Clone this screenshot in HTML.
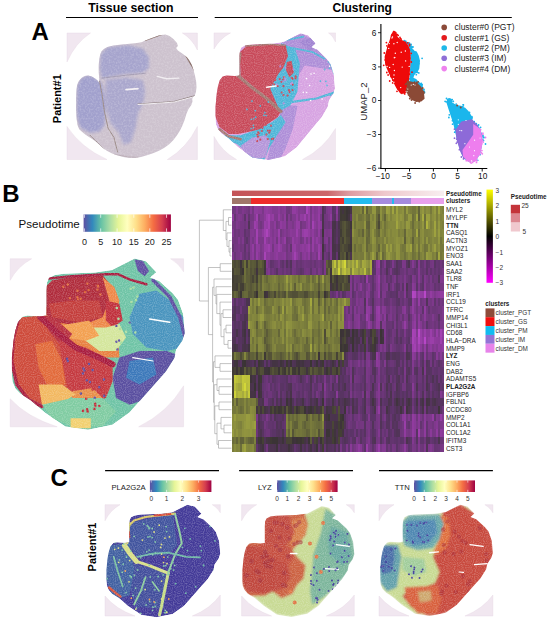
<!DOCTYPE html>
<html><head><meta charset="utf-8"><style>
html,body{margin:0;padding:0;background:#fff;}
body{width:550px;height:625px;position:relative;overflow:hidden;font-family:"Liberation Sans", sans-serif;}
svg{position:absolute;left:0;top:0;}
.hm{position:absolute;}
</style></head><body>
<div class="hm" style="left:232px;top:206.00px;width:212px;height:7.74px;background:linear-gradient(90deg,#72377f 0px 2px,#733780 2px 4px,#843992 4px 6px,#733780 6px 8px,#753783 8px 10px,#80388d 10px 12px,#793886 12px 14px,#753782 14px 16px,#6e367b 16px 18px,#873995 18px 20px,#753782 20px 22px,#8f3b9d 22px 24px,#8e3b9c 24px 26px,#8a3a97 26px 28px,#893a97 28px 30px,#7b3889 30px 32px,#903b9e 32px 34px,#923ca1 34px 36px,#8e3b9c 36px 38px,#8b3a99 38px 40px,#823990 40px 42px,#823990 42px 44px,#833991 44px 46px,#8c3a9a 46px 48px,#7e388c 48px 50px,#833990 50px 52px,#873995 52px 54px,#6e367b 54px 56px,#6d367a 56px 58px,#763783 58px 60px,#923ca0 60px 62px,#933ca1 62px 64px,#8b3a99 64px 66px,#80388d 66px 68px,#833991 68px 70px,#81398e 70px 72px,#7b3888 72px 74px,#a843b8 74px 76px,#973da5 76px 78px,#773784 78px 80px,#8d3a9b 80px 82px,#823990 82px 84px,#863994 84px 86px,#923ca0 86px 88px,#843992 88px 90px,#4f3454 90px 92px,#5d3469 92px 94px,#793886 94px 96px,#7f388d 96px 98px,#833991 98px 100px,#583463 100px 102px,#5d346a 102px 104px,#8b3a99 104px 106px,#573460 106px 108px,#3f3a35 108px 110px,#423441 110px 112px,#403b35 112px 114px,#3a3434 114px 116px,#3d3439 116px 118px,#473448 118px 120px,#7a7c3c 120px 122px,#797b3c 122px 124px,#7a7d3c 124px 126px,#7a7d3c 126px 128px,#82853d 128px 130px,#656639 130px 132px,#9b9f3f 132px 134px,#5f5f39 134px 136px,#797b3c 136px 138px,#787a3c 138px 140px,#939740 140px 142px,#939740 142px 144px,#6d6f3a 144px 146px,#696b3a 146px 148px,#8d913f 148px 150px,#7c7e3c 150px 152px,#76783c 152px 154px,#9ca03f 154px 156px,#979b40 156px 158px,#81843d 158px 160px,#a0a43f 160px 162px,#7d803d 162px 164px,#9da13f 164px 166px,#868a3e 166px 168px,#898c3e 168px 170px,#8e923f 170px 172px,#74763b 172px 174px,#959940 174px 176px,#7f823d 176px 178px,#7b7d3c 178px 180px,#73753b 180px 182px,#73753b 182px 184px,#82853d 184px 186px,#616239 186px 188px,#8b8f3f 188px 190px,#949740 190px 192px,#81843d 192px 194px,#8b8e3e 194px 196px,#888b3e 196px 198px,#77793c 198px 200px,#8c903f 200px 202px,#979b40 202px 204px,#7c7e3c 204px 206px,#9ea23f 206px 208px,#84873e 208px 210px,#7c7f3c 210px 212px)"></div><div class="hm" style="left:232px;top:213.69px;width:212px;height:7.74px;background:linear-gradient(90deg,#8e3b9d 0px 2px,#653572 2px 4px,#7c388a 4px 6px,#823990 6px 8px,#80388d 8px 10px,#773784 10px 12px,#5e346a 12px 14px,#7e388b 14px 16px,#62356e 16px 18px,#763783 18px 20px,#753782 20px 22px,#873995 22px 24px,#a040af 24px 26px,#743781 26px 28px,#80398e 28px 30px,#80398e 30px 32px,#8d3a9b 32px 34px,#9c3fab 34px 36px,#a542b4 36px 38px,#903b9e 38px 40px,#953da3 40px 42px,#80388d 42px 44px,#7e388c 44px 46px,#943ca2 46px 48px,#843991 48px 50px,#7b3888 50px 52px,#8e3b9c 52px 54px,#673573 54px 56px,#81398f 56px 58px,#6f367c 58px 60px,#80398e 60px 62px,#80398e 62px 64px,#913c9f 64px 66px,#80388d 66px 68px,#913ca0 68px 70px,#8f3b9d 70px 72px,#9e40ac 72px 74px,#883996 74px 76px,#983ea6 76px 78px,#793886 78px 80px,#923ca0 80px 82px,#853992 82px 84px,#883996 84px 86px,#953da4 86px 88px,#753783 88px 90px,#4b344e 90px 92px,#6f367c 92px 94px,#733780 94px 96px,#7c3889 96px 98px,#8e3b9c 98px 100px,#5b3466 100px 102px,#55345e 102px 104px,#81398e 104px 106px,#583461 106px 108px,#3f3a35 108px 110px,#413c35 110px 112px,#403b35 112px 114px,#3b3436 114px 116px,#423440 116px 118px,#593464 118px 120px,#7b7e3c 120px 122px,#76793c 122px 124px,#86893e 124px 126px,#70723b 126px 128px,#70723b 128px 130px,#76783c 130px 132px,#82853d 132px 134px,#6c6e3a 134px 136px,#686a3a 136px 138px,#888b3e 138px 140px,#7d803d 140px 142px,#8b8f3f 142px 144px,#686a3a 144px 146px,#555337 146px 148px,#8c903f 148px 150px,#787b3c 150px 152px,#626339 152px 154px,#85883e 154px 156px,#90943f 156px 158px,#80833d 158px 160px,#8c8f3f 160px 162px,#8d913f 162px 164px,#9a9e3f 164px 166px,#8c8f3f 166px 168px,#939740 168px 170px,#8e913f 170px 172px,#76783c 172px 174px,#7d803d 174px 176px,#949840 176px 178px,#939740 178px 180px,#6b6d3a 180px 182px,#777a3c 182px 184px,#9fa33f 184px 186px,#5f5f39 186px 188px,#84883e 188px 190px,#a7ab3e 190px 192px,#6c6e3a 192px 194px,#9b9f3f 194px 196px,#9a9e40 196px 198px,#80833d 198px 200px,#8b8e3e 200px 202px,#91953f 202px 204px,#7c7e3c 204px 206px,#8e913f 206px 208px,#7e813d 208px 210px,#85883e 210px 212px)"></div><div class="hm" style="left:232px;top:221.38px;width:212px;height:7.74px;background:linear-gradient(90deg,#773784 0px 2px,#70367d 2px 4px,#80398e 4px 6px,#7b3888 6px 8px,#763783 8px 10px,#753783 10px 12px,#6f367c 12px 14px,#773784 14px 16px,#523459 16px 18px,#793887 18px 20px,#7d388a 20px 22px,#9c3fab 22px 24px,#943ca2 24px 26px,#793886 26px 28px,#71377e 28px 30px,#7d388b 30px 32px,#9a3ea9 32px 34px,#953da4 34px 36px,#a241b1 36px 38px,#833990 38px 40px,#81398e 40px 42px,#8e3b9c 42px 44px,#743781 44px 46px,#7d388b 46px 48px,#913b9f 48px 50px,#893a97 50px 52px,#8c3a9a 52px 54px,#72377f 54px 56px,#853992 56px 58px,#833990 58px 60px,#7a3887 60px 62px,#863994 62px 64px,#963da4 64px 66px,#953da3 66px 68px,#70367c 68px 70px,#7b3888 70px 72px,#7b3888 72px 74px,#8a3a98 74px 76px,#953da3 76px 78px,#773784 78px 80px,#a341b2 80px 82px,#8c3a9a 82px 84px,#833990 84px 86px,#933ca1 86px 88px,#8d3a9c 88px 90px,#49344b 90px 92px,#6b3678 92px 94px,#6f367c 94px 96px,#6a3677 96px 98px,#773784 98px 100px,#48344a 100px 102px,#463447 102px 104px,#5a3464 104px 106px,#48344a 106px 108px,#474336 108px 110px,#514f37 110px 112px,#575638 112px 114px,#4a4736 114px 116px,#454135 116px 118px,#3f343c 118px 120px,#85893e 120px 122px,#6e713b 122px 124px,#7f823d 124px 126px,#7c7f3c 126px 128px,#7a7c3c 128px 130px,#797b3c 130px 132px,#92953f 132px 134px,#616239 134px 136px,#5f5f39 136px 138px,#83863d 138px 140px,#878a3e 140px 142px,#8d903f 142px 144px,#626239 144px 146px,#4c4936 146px 148px,#7b7d3c 148px 150px,#86893e 150px 152px,#71733b 152px 154px,#7e813d 154px 156px,#85883e 156px 158px,#868a3e 158px 160px,#878a3e 160px 162px,#86893e 162px 164px,#a1a53f 164px 166px,#8d903f 166px 168px,#85893e 168px 170px,#8b8f3f 170px 172px,#7e813d 172px 174px,#969a40 174px 176px,#939740 176px 178px,#7c7f3c 178px 180px,#6a6c3a 180px 182px,#80833d 182px 184px,#868a3e 184px 186px,#76793c 186px 188px,#83863d 188px 190px,#939740 190px 192px,#70733b 192px 194px,#afb33d 194px 196px,#91953f 196px 198px,#7d7f3d 198px 200px,#84873e 200px 202px,#a1a53f 202px 204px,#7e813d 204px 206px,#949840 206px 208px,#82853d 208px 210px,#7c7e3c 210px 212px)"></div><div class="hm" style="left:232px;top:229.06px;width:212px;height:7.74px;background:linear-gradient(90deg,#823990 0px 2px,#6c3679 2px 4px,#733780 4px 6px,#6d3679 6px 8px,#773784 8px 10px,#763783 10px 12px,#5f346b 12px 14px,#6a3677 14px 16px,#663572 16px 18px,#843991 18px 20px,#853993 20px 22px,#7e388c 22px 24px,#a241b1 24px 26px,#833991 26px 28px,#81398f 28px 30px,#8f3b9d 30px 32px,#9d40ac 32px 34px,#ac44bb 34px 36px,#973ea6 36px 38px,#873995 38px 40px,#7e388c 40px 42px,#883a96 42px 44px,#833991 44px 46px,#9b3faa 46px 48px,#72377f 48px 50px,#7e388b 50px 52px,#843992 52px 54px,#7c3889 54px 56px,#833990 56px 58px,#8b3a99 58px 60px,#873995 60px 62px,#873995 62px 64px,#9c3fab 64px 66px,#893a97 66px 68px,#7a3887 68px 70px,#943da3 70px 72px,#9c3fab 72px 74px,#9b3faa 74px 76px,#933ca1 76px 78px,#873994 78px 80px,#903b9e 80px 82px,#823990 82px 84px,#7c388a 84px 86px,#913c9f 86px 88px,#783885 88px 90px,#40343d 90px 92px,#7c3889 92px 94px,#783785 94px 96px,#7b3888 96px 98px,#833991 98px 100px,#463447 100px 102px,#4c344f 102px 104px,#573460 104px 106px,#4d3452 106px 108px,#413d35 108px 110px,#514f37 110px 112px,#565538 112px 114px,#464235 114px 116px,#454035 116px 118px,#463446 118px 120px,#8d903f 120px 122px,#7d803d 122px 124px,#7a7d3c 124px 126px,#6d6f3a 126px 128px,#74773b 128px 130px,#626239 130px 132px,#85883e 132px 134px,#6b6d3a 134px 136px,#636439 136px 138px,#84873e 138px 140px,#91943f 140px 142px,#7a7d3c 142px 144px,#6a6c3a 144px 146px,#626339 146px 148px,#888b3e 148px 150px,#7e813d 150px 152px,#74763b 152px 154px,#83863d 154px 156px,#8a8e3e 156px 158px,#81843d 158px 160px,#898c3e 160px 162px,#878b3e 162px 164px,#8a8e3e 164px 166px,#7b7d3c 166px 168px,#82853d 168px 170px,#7f823d 170px 172px,#656639 172px 174px,#8d903f 174px 176px,#86893e 176px 178px,#878a3e 178px 180px,#70723b 180px 182px,#76783c 182px 184px,#a0a43f 184px 186px,#6a6c3a 186px 188px,#888b3e 188px 190px,#8c8f3f 190px 192px,#7c7f3c 192px 194px,#7c7f3c 194px 196px,#7f823d 196px 198px,#81843d 198px 200px,#898c3e 200px 202px,#9ea23f 202px 204px,#84873e 204px 206px,#989c40 206px 208px,#80833d 208px 210px,#84873e 210px 212px)"></div><div class="hm" style="left:232px;top:236.75px;width:212px;height:7.74px;background:linear-gradient(90deg,#72377f 0px 2px,#70367c 2px 4px,#72377f 4px 6px,#823990 6px 8px,#733780 8px 10px,#80398e 10px 12px,#653571 12px 14px,#5b3467 14px 16px,#6a3677 16px 18px,#843992 18px 20px,#773785 20px 22px,#853993 22px 24px,#a040af 24px 26px,#7b3888 26px 28px,#7c3889 28px 30px,#7b3888 30px 32px,#a040af 32px 34px,#8a3a98 34px 36px,#81398f 36px 38px,#8c3a9a 38px 40px,#81398f 40px 42px,#8c3a9a 42px 44px,#743781 44px 46px,#953da3 46px 48px,#7d388b 48px 50px,#873995 50px 52px,#953da3 52px 54px,#6d3679 54px 56px,#743781 56px 58px,#7a3887 58px 60px,#943da2 60px 62px,#883996 62px 64px,#8c3a9a 64px 66px,#853993 66px 68px,#71377e 68px 70px,#793887 70px 72px,#913c9f 72px 74px,#7c388a 74px 76px,#8d3a9b 76px 78px,#72377e 78px 80px,#963da4 80px 82px,#853993 82px 84px,#923ca1 84px 86px,#873995 86px 88px,#7a3887 88px 90px,#503456 90px 92px,#7e388b 92px 94px,#823990 94px 96px,#653572 96px 98px,#7d388a 98px 100px,#463447 100px 102px,#4e3452 102px 104px,#5b3466 104px 106px,#4a344c 106px 108px,#4d4b36 108px 110px,#433f35 110px 112px,#585738 112px 114px,#4c4936 114px 116px,#4a4636 116px 118px,#423440 118px 120px,#7f813d 120px 122px,#7b7e3c 122px 124px,#777a3c 124px 126px,#80833d 126px 128px,#7d7f3d 128px 130px,#797c3c 130px 132px,#898d3e 132px 134px,#646539 134px 136px,#686a3a 136px 138px,#7f823d 138px 140px,#92963f 140px 142px,#8b8e3e 142px 144px,#71733b 144px 146px,#787b3c 146px 148px,#7e803d 148px 150px,#787b3c 150px 152px,#8d903f 152px 154px,#7a7d3c 154px 156px,#878a3e 156px 158px,#83863d 158px 160px,#84873e 160px 162px,#888c3e 162px 164px,#8f923f 164px 166px,#8a8d3e 166px 168px,#86893e 168px 170px,#8d903f 170px 172px,#5e5e38 172px 174px,#86893e 174px 176px,#8a8e3e 176px 178px,#7d7f3d 178px 180px,#616239 180px 182px,#7f823d 182px 184px,#83863d 184px 186px,#72753b 186px 188px,#85883e 188px 190px,#8d913f 190px 192px,#77793c 192px 194px,#90943f 194px 196px,#797c3c 196px 198px,#7e813d 198px 200px,#878b3e 200px 202px,#82853d 202px 204px,#80833d 204px 206px,#939740 206px 208px,#71743b 208px 210px,#81843d 210px 212px)"></div><div class="hm" style="left:232px;top:244.44px;width:212px;height:7.74px;background:linear-gradient(90deg,#653571 0px 2px,#733780 2px 4px,#753782 4px 6px,#793886 6px 8px,#70367d 8px 10px,#733780 10px 12px,#5f346b 12px 14px,#763783 14px 16px,#683675 16px 18px,#843992 18px 20px,#933ca1 20px 22px,#773784 22px 24px,#913ca0 24px 26px,#8e3b9c 26px 28px,#7a3887 28px 30px,#833990 30px 32px,#963da4 32px 34px,#973da5 34px 36px,#9e40ad 36px 38px,#8e3b9d 38px 40px,#753782 40px 42px,#8d3a9b 42px 44px,#8b3a99 44px 46px,#9a3fa9 46px 48px,#8f3b9d 48px 50px,#7f388d 50px 52px,#7f388c 52px 54px,#6f367c 54px 56px,#7e388c 56px 58px,#643570 58px 60px,#933ca1 60px 62px,#953da4 62px 64px,#863994 64px 66px,#833991 66px 68px,#8a3a98 68px 70px,#8f3b9d 70px 72px,#8a3a97 72px 74px,#903b9e 74px 76px,#993ea7 76px 78px,#7b3888 78px 80px,#953da3 80px 82px,#80388d 82px 84px,#833991 84px 86px,#983ea7 86px 88px,#8a3a98 88px 90px,#41343e 90px 92px,#62356e 92px 94px,#763784 94px 96px,#683675 96px 98px,#80388d 98px 100px,#453445 100px 102px,#473447 102px 104px,#503455 104px 106px,#453445 106px 108px,#4d4a36 108px 110px,#535137 110px 112px,#4a4736 112px 114px,#494536 114px 116px,#3f3a35 116px 118px,#3e343a 118px 120px,#7d7f3d 120px 122px,#686a3a 122px 124px,#7c7e3c 124px 126px,#75773b 126px 128px,#71733b 128px 130px,#82853d 130px 132px,#8b8f3f 132px 134px,#656639 134px 136px,#75773b 136px 138px,#75773b 138px 140px,#898d3e 140px 142px,#86893e 142px 144px,#73763b 144px 146px,#636439 146px 148px,#868a3e 148px 150px,#72753b 150px 152px,#77793c 152px 154px,#9a9e3f 154px 156px,#86893e 156px 158px,#979b40 158px 160px,#7d803d 160px 162px,#85883e 162px 164px,#929640 164px 166px,#90933f 166px 168px,#7b7d3c 168px 170px,#73763b 170px 172px,#75773b 172px 174px,#959840 174px 176px,#90933f 176px 178px,#9fa33f 178px 180px,#6d6f3a 180px 182px,#7c7e3c 182px 184px,#91953f 184px 186px,#70723b 186px 188px,#8d903f 188px 190px,#80833d 190px 192px,#6f713b 192px 194px,#73753b 194px 196px,#8d913f 196px 198px,#7b7e3c 198px 200px,#8c8f3f 200px 202px,#9b9f3f 202px 204px,#81843d 204px 206px,#8a8d3e 206px 208px,#75773b 208px 210px,#74773b 210px 212px)"></div><div class="hm" style="left:232px;top:252.12px;width:212px;height:7.74px;background:linear-gradient(90deg,#7d388a 0px 2px,#683574 2px 4px,#763783 4px 6px,#773784 6px 8px,#80398e 8px 10px,#6e367a 10px 12px,#62356f 12px 14px,#70377d 14px 16px,#62356e 16px 18px,#863994 18px 20px,#8e3b9c 20px 22px,#773784 22px 24px,#953da4 24px 26px,#873994 26px 28px,#773784 28px 30px,#7e388c 30px 32px,#a743b6 32px 34px,#8c3a9a 34px 36px,#8e3b9c 36px 38px,#843992 38px 40px,#82398f 40px 42px,#893a97 42px 44px,#903b9e 44px 46px,#853993 46px 48px,#833991 48px 50px,#853993 50px 52px,#8b3a99 52px 54px,#733780 54px 56px,#7a3888 56px 58px,#7d388a 58px 60px,#8e3b9d 60px 62px,#a241b1 62px 64px,#8f3b9d 64px 66px,#823990 66px 68px,#733780 68px 70px,#883996 70px 72px,#8d3a9b 72px 74px,#833991 74px 76px,#903b9e 76px 78px,#72377f 78px 80px,#80398e 80px 82px,#843992 82px 84px,#773784 84px 86px,#9e40ac 86px 88px,#853992 88px 90px,#48344a 90px 92px,#6e367b 92px 94px,#683675 94px 96px,#5a3465 96px 98px,#7f388c 98px 100px,#4a344c 100px 102px,#48344a 102px 104px,#633570 104px 106px,#3f343c 106px 108px,#535137 108px 110px,#4f4c37 110px 112px,#5d5d38 112px 114px,#3a3434 114px 116px,#4d4a36 116px 118px,#4b344e 118px 120px,#80833d 120px 122px,#75773b 122px 124px,#787a3c 124px 126px,#7a7d3c 126px 128px,#77793c 128px 130px,#77793c 130px 132px,#929640 132px 134px,#787b3c 134px 136px,#71733b 136px 138px,#86893e 138px 140px,#9ca03f 140px 142px,#888c3e 142px 144px,#606039 144px 146px,#7b7e3c 146px 148px,#989c40 148px 150px,#66683a 150px 152px,#74763b 152px 154px,#8e923f 154px 156px,#949840 156px 158px,#888b3e 158px 160px,#80833d 160px 162px,#7b7e3c 162px 164px,#92963f 164px 166px,#90933f 166px 168px,#7c7f3c 168px 170px,#7d803d 170px 172px,#6f713b 172px 174px,#7c7f3d 174px 176px,#888b3e 176px 178px,#82853d 178px 180px,#6f713b 180px 182px,#73763b 182px 184px,#81843d 184px 186px,#696b3a 186px 188px,#7e813d 188px 190px,#85883e 190px 192px,#72753b 192px 194px,#989c40 194px 196px,#90943f 196px 198px,#8d913f 198px 200px,#7d7f3d 200px 202px,#83863d 202px 204px,#6b6d3a 204px 206px,#a0a43f 206px 208px,#73753b 208px 210px,#7b7e3c 210px 212px)"></div><div class="hm" style="left:232px;top:259.81px;width:212px;height:7.74px;background:linear-gradient(90deg,#535237 0px 2px,#4c4936 2px 4px,#535137 4px 6px,#4d4a36 6px 8px,#3f343b 8px 10px,#525037 10px 12px,#6d6f3a 12px 14px,#464236 14px 16px,#696a3a 16px 18px,#585738 18px 20px,#5c5c38 20px 22px,#595838 22px 24px,#474336 24px 26px,#5c5c38 26px 28px,#626239 28px 30px,#555437 30px 32px,#413c35 32px 34px,#863994 34px 36px,#763783 36px 38px,#5f346b 38px 40px,#63356f 40px 42px,#6c3679 42px 44px,#6f367c 44px 46px,#793887 46px 48px,#653571 48px 50px,#5d3469 50px 52px,#6e367b 52px 54px,#55345d 54px 56px,#643571 56px 58px,#53345b 58px 60px,#753782 60px 62px,#783885 62px 64px,#663572 64px 66px,#6b3678 66px 68px,#663572 68px 70px,#6d367a 70px 72px,#72377f 72px 74px,#6f367c 74px 76px,#6d367a 76px 78px,#683574 78px 80px,#70367c 80px 82px,#663572 82px 84px,#6f367c 84px 86px,#743781 86px 88px,#6d3679 88px 90px,#5f346b 90px 92px,#7a3887 92px 94px,#5f5f39 94px 96px,#4f4c37 96px 98px,#4f4d37 98px 100px,#9fa33f 100px 102px,#bec23b 102px 104px,#8b8e3e 104px 106px,#bec23b 106px 108px,#a4a83e 108px 110px,#bbbf3b 110px 112px,#d3d738 112px 114px,#8c903f 114px 116px,#9fa33f 116px 118px,#959940 118px 120px,#aaae3d 120px 122px,#929640 122px 124px,#b6ba3c 124px 126px,#92963f 126px 128px,#86893e 128px 130px,#a5a93e 130px 132px,#a0a43f 132px 134px,#939740 134px 136px,#8a8e3e 136px 138px,#a8ac3e 138px 140px,#523458 140px 142px,#63356f 142px 144px,#8e3a9c 144px 146px,#973da5 146px 148px,#5b3467 148px 150px,#6c3678 150px 152px,#7f388d 152px 154px,#583462 154px 156px,#5a3465 156px 158px,#62356f 158px 160px,#7d388b 160px 162px,#683675 162px 164px,#53345a 164px 166px,#5c3468 166px 168px,#5c3468 168px 170px,#7c3889 170px 172px,#7b3888 172px 174px,#583462 174px 176px,#4d3451 176px 178px,#6d367a 178px 180px,#843992 180px 182px,#71377e 182px 184px,#593464 184px 186px,#843991 186px 188px,#62356e 188px 190px,#663573 190px 192px,#773784 192px 194px,#5d3469 194px 196px,#63356f 196px 198px,#733780 198px 200px,#763783 200px 202px,#593464 202px 204px,#663573 204px 206px,#63356f 206px 208px,#70377d 208px 210px,#663572 210px 212px)"></div><div class="hm" style="left:232px;top:267.50px;width:212px;height:7.74px;background:linear-gradient(90deg,#454135 0px 2px,#585738 2px 4px,#545237 4px 6px,#535137 6px 8px,#413d35 8px 10px,#3b3534 10px 12px,#6e703a 12px 14px,#5b5b38 14px 16px,#616239 16px 18px,#535137 18px 20px,#5a5a38 20px 22px,#514e37 22px 24px,#41343f 24px 26px,#575638 26px 28px,#545237 28px 30px,#535237 30px 32px,#423440 32px 34px,#783886 34px 36px,#81398f 36px 38px,#693676 38px 40px,#71377d 40px 42px,#683574 42px 44px,#593463 44px 46px,#70367d 46px 48px,#6e367b 48px 50px,#653572 50px 52px,#71377d 52px 54px,#673574 54px 56px,#6a3676 56px 58px,#5b3467 58px 60px,#763783 60px 62px,#72377f 62px 64px,#673574 64px 66px,#643571 66px 68px,#5b3466 68px 70px,#62356e 70px 72px,#72377f 72px 74px,#763783 74px 76px,#733780 76px 78px,#5f346b 78px 80px,#753782 80px 82px,#783885 82px 84px,#693675 84px 86px,#7c3889 86px 88px,#733780 88px 90px,#5c3468 90px 92px,#7d388a 92px 94px,#514e37 94px 96px,#696b3a 96px 98px,#40343d 98px 100px,#a7ab3e 100px 102px,#8e923f 102px 104px,#999d40 104px 106px,#d0d439 106px 108px,#90943f 108px 110px,#b2b63c 110px 112px,#bec23b 112px 114px,#a4a83e 114px 116px,#abaf3d 116px 118px,#7d803d 118px 120px,#b6ba3c 120px 122px,#9ea23f 122px 124px,#9ca03f 124px 126px,#8c903f 126px 128px,#9ca03f 128px 130px,#959940 130px 132px,#b8bc3c 132px 134px,#85883e 134px 136px,#7c7e3c 136px 138px,#a6aa3e 138px 140px,#593463 140px 142px,#5c3469 142px 144px,#893a97 144px 146px,#883996 146px 148px,#60356d 148px 150px,#71377e 150px 152px,#6b3678 152px 154px,#513457 154px 156px,#663573 156px 158px,#7b3888 158px 160px,#5f346b 160px 162px,#583462 162px 164px,#53345a 164px 166px,#5c3467 166px 168px,#6a3677 168px 170px,#6b3678 170px 172px,#743781 172px 174px,#643571 174px 176px,#71377e 176px 178px,#6e367b 178px 180px,#693676 180px 182px,#5f346b 182px 184px,#673574 184px 186px,#863994 186px 188px,#6a3677 188px 190px,#663572 190px 192px,#6d367a 192px 194px,#5a3464 194px 196px,#6e367b 196px 198px,#60346c 198px 200px,#6c3679 200px 202px,#61356d 202px 204px,#693676 204px 206px,#60356c 206px 208px,#6f367c 208px 210px,#763783 210px 212px)"></div><div class="hm" style="left:232px;top:275.19px;width:212px;height:7.74px;background:linear-gradient(90deg,#413d35 0px 2px,#494536 2px 4px,#474436 4px 6px,#4b4836 6px 8px,#494636 8px 10px,#545337 10px 12px,#6c6e3a 12px 14px,#5e5e39 14px 16px,#5e5e39 16px 18px,#545237 18px 20px,#484536 20px 22px,#585738 22px 24px,#433f35 24px 26px,#686a3a 26px 28px,#5d5d38 28px 30px,#7b7e3c 30px 32px,#6e703a 32px 34px,#646639 34px 36px,#74773b 36px 38px,#777a3c 38px 40px,#7c7f3c 40px 42px,#82853d 42px 44px,#787a3c 44px 46px,#6d6f3a 46px 48px,#73763b 48px 50px,#74773b 50px 52px,#7e813d 52px 54px,#9a9e3f 54px 56px,#7d803d 56px 58px,#898c3e 58px 60px,#7b7e3c 60px 62px,#76793c 62px 64px,#7e813d 64px 66px,#6b6d3a 66px 68px,#787b3c 68px 70px,#7e813d 70px 72px,#7f823d 72px 74px,#6e703b 74px 76px,#6a6c3a 76px 78px,#81843d 78px 80px,#696b3a 80px 82px,#72753b 82px 84px,#898c3e 84px 86px,#616239 86px 88px,#787b3c 88px 90px,#999d40 90px 92px,#6c6e3a 92px 94px,#77793c 94px 96px,#71733b 96px 98px,#3c3437 98px 100px,#565437 100px 102px,#444035 102px 104px,#3d3439 104px 106px,#4c4936 106px 108px,#4d4b36 108px 110px,#4a4736 110px 112px,#585738 112px 114px,#514e37 114px 116px,#3f343c 116px 118px,#7f388c 118px 120px,#663572 120px 122px,#7c3889 122px 124px,#773785 124px 126px,#763783 126px 128px,#673574 128px 130px,#6f367c 130px 132px,#5d3469 132px 134px,#953da3 134px 136px,#6d367a 136px 138px,#6c3678 138px 140px,#5f346b 140px 142px,#733780 142px 144px,#863993 144px 146px,#963da4 146px 148px,#6a3677 148px 150px,#733780 150px 152px,#7c3889 152px 154px,#61356d 154px 156px,#6b3677 156px 158px,#60346c 158px 160px,#733780 160px 162px,#7c3889 162px 164px,#5f346b 164px 166px,#6f367c 166px 168px,#733780 168px 170px,#6c3679 170px 172px,#7e388c 172px 174px,#6c3678 174px 176px,#663572 176px 178px,#5c3467 178px 180px,#7f388d 180px 182px,#783785 182px 184px,#643571 184px 186px,#853993 186px 188px,#72377f 188px 190px,#5c3468 190px 192px,#7f388d 192px 194px,#743781 194px 196px,#693676 196px 198px,#793887 198px 200px,#653572 200px 202px,#6e367a 202px 204px,#6c3679 204px 206px,#513458 206px 208px,#81398e 208px 210px,#7f388c 210px 212px)"></div><div class="hm" style="left:232px;top:282.88px;width:212px;height:7.74px;background:linear-gradient(90deg,#464135 0px 2px,#474336 2px 4px,#423d35 4px 6px,#565437 6px 8px,#433f35 8px 10px,#423d35 10px 12px,#595838 12px 14px,#636439 14px 16px,#5e5e39 16px 18px,#575638 18px 20px,#606039 20px 22px,#66683a 22px 24px,#514f37 24px 26px,#6d6f3a 26px 28px,#5f6039 28px 30px,#7e813d 30px 32px,#75783c 32px 34px,#71743b 34px 36px,#6b6d3a 36px 38px,#76793c 38px 40px,#7d803d 40px 42px,#777a3c 42px 44px,#787b3c 44px 46px,#646539 46px 48px,#76783c 48px 50px,#6e703b 50px 52px,#7b7e3c 52px 54px,#8e923f 54px 56px,#72753b 56px 58px,#90943f 58px 60px,#787b3c 60px 62px,#5e5d38 62px 64px,#84873e 64px 66px,#7d803d 66px 68px,#90943f 68px 70px,#6f713b 70px 72px,#777a3c 72px 74px,#71733b 74px 76px,#73763b 76px 78px,#86893e 78px 80px,#787b3c 80px 82px,#6d6f3a 82px 84px,#71733b 84px 86px,#5a5938 86px 88px,#73753b 88px 90px,#80833d 90px 92px,#656639 92px 94px,#76793c 94px 96px,#76793c 96px 98px,#443443 98px 100px,#423d35 100px 102px,#474336 102px 104px,#40343e 104px 106px,#4c4936 106px 108px,#454135 108px 110px,#5b5b38 110px 112px,#4e4b36 112px 114px,#4a4736 114px 116px,#4c4936 116px 118px,#81398e 118px 120px,#60356c 120px 122px,#81398e 122px 124px,#6b3677 124px 126px,#7c3889 126px 128px,#8a3a97 128px 130px,#6f367c 130px 132px,#693675 132px 134px,#7a3888 134px 136px,#873994 136px 138px,#6e367b 138px 140px,#5c3468 140px 142px,#6c3678 142px 144px,#833990 144px 146px,#913c9f 146px 148px,#653571 148px 150px,#783785 150px 152px,#7a3887 152px 154px,#7e388c 154px 156px,#593463 156px 158px,#6d367a 158px 160px,#7d388b 160px 162px,#693676 162px 164px,#593464 164px 166px,#5e346a 166px 168px,#743781 168px 170px,#5b3466 170px 172px,#833990 172px 174px,#4f3454 174px 176px,#663572 176px 178px,#63356f 178px 180px,#893a97 180px 182px,#81398f 182px 184px,#5b3467 184px 186px,#7b3889 186px 188px,#63356f 188px 190px,#5b3467 190px 192px,#843991 192px 194px,#6d3679 194px 196px,#6f367c 196px 198px,#773785 198px 200px,#733780 200px 202px,#62356e 202px 204px,#6b3677 204px 206px,#653571 206px 208px,#753782 208px 210px,#753782 210px 212px)"></div><div class="hm" style="left:232px;top:290.56px;width:212px;height:7.74px;background:linear-gradient(90deg,#555437 0px 2px,#656739 2px 4px,#5d5d38 4px 6px,#4c4936 6px 8px,#3b3534 8px 10px,#616239 10px 12px,#686a3a 12px 14px,#68693a 14px 16px,#565537 16px 18px,#575638 18px 20px,#5d5d38 20px 22px,#4c4936 22px 24px,#3a3434 24px 26px,#6a6c3a 26px 28px,#686a3a 28px 30px,#6d6f3a 30px 32px,#3d3438 32px 34px,#41343f 34px 36px,#4f4c37 36px 38px,#595838 38px 40px,#5d5d38 40px 42px,#4a4636 42px 44px,#666739 44px 46px,#555437 46px 48px,#616139 48px 50px,#585738 50px 52px,#504e37 52px 54px,#76793c 54px 56px,#595938 56px 58px,#565538 58px 60px,#514f37 60px 62px,#514f37 62px 64px,#525037 64px 66px,#5e5e38 66px 68px,#5a5a38 68px 70px,#5a5938 70px 72px,#4d4b36 72px 74px,#4f4c37 74px 76px,#5f5f39 76px 78px,#666739 78px 80px,#5f5f39 80px 82px,#696b3a 82px 84px,#656639 84px 86px,#474336 86px 88px,#686a3a 88px 90px,#686a3a 90px 92px,#3b3435 92px 94px,#484436 94px 96px,#5a5938 96px 98px,#673573 98px 100px,#60346c 100px 102px,#673574 102px 104px,#7d388b 104px 106px,#5f346b 106px 108px,#70377d 108px 110px,#573461 110px 112px,#5e346a 112px 114px,#71377e 114px 116px,#70377d 116px 118px,#81398f 118px 120px,#5b3467 120px 122px,#673574 122px 124px,#7d388a 124px 126px,#70377d 126px 128px,#6d367a 128px 130px,#763783 130px 132px,#6a3676 132px 134px,#893a97 134px 136px,#81398f 136px 138px,#643571 138px 140px,#5d3469 140px 142px,#773784 142px 144px,#7e388b 144px 146px,#953da4 146px 148px,#5e346a 148px 150px,#7e388c 150px 152px,#7e388b 152px 154px,#673574 154px 156px,#63356f 156px 158px,#5c3468 158px 160px,#5f346c 160px 162px,#60346c 162px 164px,#573460 164px 166px,#72377f 166px 168px,#693676 168px 170px,#693676 170px 172px,#863994 172px 174px,#583462 174px 176px,#673573 176px 178px,#6b3678 178px 180px,#b346c3 180px 182px,#ae45bd 182px 184px,#863994 184px 186px,#9c3fab 186px 188px,#953da4 188px 190px,#933ca1 190px 192px,#b848c8 192px 194px,#81398f 194px 196px,#843991 196px 198px,#943ca2 198px 200px,#893a97 200px 202px,#80388d 202px 204px,#893a97 204px 206px,#8d3a9b 206px 208px,#933ca1 208px 210px,#923ca1 210px 212px)"></div><div class="hm" style="left:232px;top:298.25px;width:212px;height:7.74px;background:linear-gradient(90deg,#6a3676 0px 2px,#56345f 2px 4px,#683675 4px 6px,#5d3469 6px 8px,#5f346b 8px 10px,#653571 10px 12px,#5b3467 12px 14px,#4b344f 14px 16px,#4b344f 16px 18px,#8b8f3f 18px 20px,#74773b 20px 22px,#878a3e 22px 24px,#7c7f3c 24px 26px,#969a40 26px 28px,#7f823d 28px 30px,#83863d 30px 32px,#686a3a 32px 34px,#72743b 34px 36px,#7b7e3c 36px 38px,#777a3c 38px 40px,#73753b 40px 42px,#82853d 42px 44px,#7d803d 44px 46px,#7a7d3c 46px 48px,#81843d 48px 50px,#8e923f 50px 52px,#7f823d 52px 54px,#8a8d3e 54px 56px,#85883e 56px 58px,#989c40 58px 60px,#70733b 60px 62px,#787a3c 62px 64px,#82863d 64px 66px,#86893e 66px 68px,#878a3e 68px 70px,#73753b 70px 72px,#6c6e3a 72px 74px,#74763b 74px 76px,#7a7c3c 76px 78px,#a3a73e 78px 80px,#6b6e3a 80px 82px,#888c3e 82px 84px,#878a3e 84px 86px,#5c5c38 86px 88px,#75773b 88px 90px,#8b8e3e 90px 92px,#616239 92px 94px,#77793c 94px 96px,#7f823d 96px 98px,#6c6e3a 98px 100px,#85883e 100px 102px,#75783c 102px 104px,#67693a 104px 106px,#898c3e 106px 108px,#7e813d 108px 110px,#888b3e 110px 112px,#9a9e3f 112px 114px,#80833d 114px 116px,#7c7e3c 116px 118px,#773784 118px 120px,#6c3678 120px 122px,#6c3679 122px 124px,#81398e 124px 126px,#783785 126px 128px,#7f388d 128px 130px,#7d388a 130px 132px,#53345a 132px 134px,#8f3b9d 134px 136px,#6f367c 136px 138px,#663573 138px 140px,#54345c 140px 142px,#72377f 142px 144px,#7a3887 144px 146px,#7e388c 146px 148px,#6c3679 148px 150px,#793886 150px 152px,#653571 152px 154px,#62356e 154px 156px,#673573 156px 158px,#733780 158px 160px,#683675 160px 162px,#673573 162px 164px,#5b3467 164px 166px,#593463 166px 168px,#6c3679 168px 170px,#643571 170px 172px,#733780 172px 174px,#6a3677 174px 176px,#5b3466 176px 178px,#593463 178px 180px,#923ca1 180px 182px,#81398f 182px 184px,#6f367c 184px 186px,#953da3 186px 188px,#6d367a 188px 190px,#753782 190px 192px,#7a3887 192px 194px,#53345a 194px 196px,#783886 196px 198px,#743781 198px 200px,#7e388b 200px 202px,#60356c 202px 204px,#753782 204px 206px,#653571 206px 208px,#763783 208px 210px,#6f367c 210px 212px)"></div><div class="hm" style="left:232px;top:305.94px;width:212px;height:7.74px;background:linear-gradient(90deg,#5a3465 0px 2px,#503455 2px 4px,#5b3467 4px 6px,#583461 6px 8px,#6b3678 8px 10px,#573460 10px 12px,#573460 12px 14px,#54345c 14px 16px,#9ea23f 16px 18px,#83863d 18px 20px,#797c3c 20px 22px,#84873e 22px 24px,#656739 24px 26px,#7b7d3c 26px 28px,#7f823d 28px 30px,#8c8f3f 30px 32px,#72743b 32px 34px,#6d6f3a 34px 36px,#6e713b 36px 38px,#72743b 38px 40px,#8f933f 40px 42px,#82853d 42px 44px,#7d803d 44px 46px,#66683a 46px 48px,#777a3c 48px 50px,#9ca03f 50px 52px,#6f713b 52px 54px,#91953f 54px 56px,#888b3e 56px 58px,#8b8f3f 58px 60px,#777a3c 60px 62px,#6c6e3a 62px 64px,#73763b 64px 66px,#8e913f 66px 68px,#80833d 68px 70px,#8a8e3e 70px 72px,#6c6e3a 72px 74px,#73763b 74px 76px,#7d803d 76px 78px,#969a40 78px 80px,#6e703a 80px 82px,#888b3e 82px 84px,#888b3e 84px 86px,#6a6c3a 86px 88px,#85883e 88px 90px,#86893e 90px 92px,#636439 92px 94px,#7c7f3d 94px 96px,#67683a 96px 98px,#76793c 98px 100px,#7c7f3d 100px 102px,#72753b 102px 104px,#6d6f3a 104px 106px,#8f933f 106px 108px,#84873d 108px 110px,#959940 110px 112px,#6f367b 112px 114px,#7c388a 114px 116px,#643570 116px 118px,#7f388d 118px 120px,#643570 120px 122px,#833991 122px 124px,#71377e 124px 126px,#80398e 126px 128px,#793886 128px 130px,#7a3887 130px 132px,#5a3465 132px 134px,#913c9f 134px 136px,#8e3b9c 136px 138px,#7f388d 138px 140px,#593464 140px 142px,#743781 142px 144px,#933ca2 144px 146px,#993ea7 146px 148px,#743781 148px 150px,#893a97 150px 152px,#843991 152px 154px,#6f367c 154px 156px,#6d3679 156px 158px,#7b3889 158px 160px,#71377e 160px 162px,#733780 162px 164px,#61356d 164px 166px,#6a3677 166px 168px,#6b3677 168px 170px,#833990 170px 172px,#8b3a99 172px 174px,#6d367a 174px 176px,#62356e 176px 178px,#7d388a 178px 180px,#913c9f 180px 182px,#7e388c 182px 184px,#6e367a 184px 186px,#7f388d 186px 188px,#7a3888 188px 190px,#5f346b 190px 192px,#913c9f 192px 194px,#733780 194px 196px,#62356e 196px 198px,#72377e 198px 200px,#6c3678 200px 202px,#6b3678 202px 204px,#6e367b 204px 206px,#72377f 206px 208px,#73377f 208px 210px,#7e388b 210px 212px)"></div><div class="hm" style="left:232px;top:313.62px;width:212px;height:7.74px;background:linear-gradient(90deg,#513457 0px 2px,#4f3455 2px 4px,#693675 4px 6px,#633570 6px 8px,#573460 8px 10px,#583462 10px 12px,#4d3450 12px 14px,#4f3454 14px 16px,#878b3e 16px 18px,#7e813d 18px 20px,#85883e 20px 22px,#83863d 22px 24px,#7c7f3c 24px 26px,#898d3e 26px 28px,#969a40 28px 30px,#959940 30px 32px,#7d803d 32px 34px,#777a3c 34px 36px,#787a3c 36px 38px,#7c7f3c 38px 40px,#82853d 40px 42px,#797c3c 42px 44px,#85883e 44px 46px,#74763b 46px 48px,#92953f 48px 50px,#898c3e 50px 52px,#75783c 52px 54px,#81843d 54px 56px,#85893e 56px 58px,#898c3e 58px 60px,#70723b 60px 62px,#6e703b 62px 64px,#686a3a 64px 66px,#84873e 66px 68px,#86893e 68px 70px,#9b9f3f 70px 72px,#7b7e3c 72px 74px,#75773b 74px 76px,#878b3e 76px 78px,#8e923f 78px 80px,#797c3c 80px 82px,#7f823d 82px 84px,#7f823d 84px 86px,#7d803d 86px 88px,#898d3e 88px 90px,#a0a43f 90px 92px,#67693a 92px 94px,#7d803d 94px 96px,#777a3c 96px 98px,#80833d 98px 100px,#797c3c 100px 102px,#84883e 102px 104px,#7a7d3c 104px 106px,#959940 106px 108px,#7f823d 108px 110px,#949740 110px 112px,#6a3677 112px 114px,#773784 114px 116px,#7f388d 116px 118px,#783785 118px 120px,#5d3469 120px 122px,#81398e 122px 124px,#81398e 124px 126px,#863994 126px 128px,#673574 128px 130px,#70377d 130px 132px,#6a3677 132px 134px,#9b3faa 134px 136px,#8b3a99 136px 138px,#663572 138px 140px,#55345d 140px 142px,#70367d 142px 144px,#903b9e 144px 146px,#953da3 146px 148px,#823990 148px 150px,#743781 150px 152px,#8b3a99 152px 154px,#5f346b 154px 156px,#783785 156px 158px,#7e388c 158px 160px,#6e367b 160px 162px,#763783 162px 164px,#5b3466 164px 166px,#6d3679 166px 168px,#793887 168px 170px,#683574 170px 172px,#7e388b 172px 174px,#783785 174px 176px,#593463 176px 178px,#693676 178px 180px,#833991 180px 182px,#8d3a9b 182px 184px,#71377e 184px 186px,#8c3a9a 186px 188px,#6c3678 188px 190px,#763783 190px 192px,#8c3a9a 192px 194px,#753782 194px 196px,#70367d 196px 198px,#72377f 198px 200px,#80398e 200px 202px,#72377f 202px 204px,#6e367a 204px 206px,#593463 206px 208px,#753782 208px 210px,#7c3889 210px 212px)"></div><div class="hm" style="left:232px;top:321.31px;width:212px;height:7.74px;background:linear-gradient(90deg,#61356e 0px 2px,#56345f 2px 4px,#5c3468 4px 6px,#573461 6px 8px,#60356c 8px 10px,#4c3450 10px 12px,#483449 12px 14px,#583462 14px 16px,#9a9e40 16px 18px,#8b8e3e 18px 20px,#85883e 20px 22px,#7c7e3c 22px 24px,#5d5d38 24px 26px,#80833d 26px 28px,#8d913f 28px 30px,#7e813d 30px 32px,#626239 32px 34px,#6f723b 34px 36px,#797b3c 36px 38px,#80833d 38px 40px,#898c3e 40px 42px,#8c8f3f 42px 44px,#7e813d 44px 46px,#82853d 46px 48px,#7b7d3c 48px 50px,#8a8e3e 50px 52px,#7b7d3c 52px 54px,#949840 54px 56px,#8e923f 56px 58px,#8c903f 58px 60px,#83863d 60px 62px,#80833d 62px 64px,#7e803d 64px 66px,#7a7d3c 66px 68px,#80833d 68px 70px,#7e813d 70px 72px,#797c3c 72px 74px,#76783c 74px 76px,#959940 76px 78px,#939640 78px 80px,#7e813d 80px 82px,#7b7e3c 82px 84px,#7e813d 84px 86px,#6d703a 86px 88px,#82853d 88px 90px,#85883e 90px 92px,#797c3c 92px 94px,#787a3c 94px 96px,#888c3e 96px 98px,#626339 98px 100px,#85883e 100px 102px,#82853d 102px 104px,#72753b 104px 106px,#8e923f 106px 108px,#8a8d3e 108px 110px,#8b8f3f 110px 112px,#763783 112px 114px,#773784 114px 116px,#893a97 116px 118px,#7d388a 118px 120px,#6a3677 120px 122px,#7d388a 122px 124px,#81398f 124px 126px,#883a96 126px 128px,#6d367a 128px 130px,#693676 130px 132px,#663572 132px 134px,#7f388d 134px 136px,#933ca2 136px 138px,#843991 138px 140px,#683675 140px 142px,#763783 142px 144px,#8f3b9d 144px 146px,#8f3b9d 146px 148px,#56345e 148px 150px,#833990 150px 152px,#80398e 152px 154px,#663573 154px 156px,#683574 156px 158px,#693676 158px 160px,#60356c 160px 162px,#7b3888 162px 164px,#60356c 164px 166px,#6f367c 166px 168px,#6b3677 168px 170px,#7c388a 170px 172px,#963da4 172px 174px,#7b3889 174px 176px,#643570 176px 178px,#6c3679 178px 180px,#8a3a98 180px 182px,#923ca0 182px 184px,#6e367b 184px 186px,#903b9e 186px 188px,#843991 188px 190px,#71377e 190px 192px,#7c388a 192px 194px,#5c3468 194px 196px,#6e367b 196px 198px,#71377e 198px 200px,#763783 200px 202px,#6c3678 202px 204px,#72377f 204px 206px,#61356e 206px 208px,#7c388a 208px 210px,#7a3887 210px 212px)"></div><div class="hm" style="left:232px;top:329.00px;width:212px;height:7.74px;background:linear-gradient(90deg,#593463 0px 2px,#54345c 2px 4px,#48344a 4px 6px,#55345d 6px 8px,#5c3468 8px 10px,#483449 10px 12px,#40343e 12px 14px,#5b3467 14px 16px,#463446 16px 18px,#81843d 18px 20px,#8c8f3f 20px 22px,#85883e 22px 24px,#6c6e3a 24px 26px,#76783c 26px 28px,#75773b 28px 30px,#7f823d 30px 32px,#6a6c3a 32px 34px,#5b5a38 34px 36px,#6a6c3a 36px 38px,#6f713b 38px 40px,#7b7e3c 40px 42px,#7a7c3c 42px 44px,#7a7d3c 44px 46px,#656639 46px 48px,#85893e 48px 50px,#898d3e 50px 52px,#6f723b 52px 54px,#929640 54px 56px,#81843d 56px 58px,#8a8d3e 58px 60px,#75773b 60px 62px,#696a3a 62px 64px,#797b3c 64px 66px,#7f823d 66px 68px,#76793c 68px 70px,#8b8f3f 70px 72px,#85883e 72px 74px,#7d803d 74px 76px,#83863d 76px 78px,#8b8e3e 78px 80px,#6c6e3a 80px 82px,#75773b 82px 84px,#75773b 84px 86px,#686a3a 86px 88px,#777a3c 88px 90px,#8b8e3e 90px 92px,#4e4b36 92px 94px,#888c3e 94px 96px,#8a8e3e 96px 98px,#6e713b 98px 100px,#82863d 100px 102px,#7b7d3c 102px 104px,#6a6c3a 104px 106px,#7e813d 106px 108px,#3b3435 108px 110px,#3d3438 110px 112px,#474336 112px 114px,#3d3439 114px 116px,#3d3439 116px 118px,#54345c 118px 120px,#3a3434 120px 122px,#473447 122px 124px,#41343f 124px 126px,#55345d 126px 128px,#483449 128px 130px,#40343c 130px 132px,#494536 132px 134px,#583462 134px 136px,#53345a 136px 138px,#40343d 138px 140px,#4c4936 140px 142px,#484436 142px 144px,#55345e 144px 146px,#60356c 146px 148px,#3b3435 148px 150px,#473448 150px 152px,#80398e 152px 154px,#663573 154px 156px,#5f346b 156px 158px,#62356e 158px 160px,#733780 160px 162px,#6f367c 162px 164px,#56345f 164px 166px,#6f367c 166px 168px,#633570 168px 170px,#61356d 170px 172px,#7e388b 172px 174px,#653572 174px 176px,#60346c 176px 178px,#673574 178px 180px,#a742b6 180px 182px,#a341b2 182px 184px,#81398f 184px 186px,#b748c7 186px 188px,#983ea7 188px 190px,#8a3a98 190px 192px,#9a3fa9 192px 194px,#893a97 194px 196px,#8a3a98 196px 198px,#9b3faa 198px 200px,#8b3a99 200px 202px,#7d388b 202px 204px,#973ea6 204px 206px,#843992 206px 208px,#a442b3 208px 210px,#913b9f 210px 212px)"></div><div class="hm" style="left:232px;top:336.69px;width:212px;height:7.74px;background:linear-gradient(90deg,#503455 0px 2px,#503455 2px 4px,#61356d 4px 6px,#56345e 6px 8px,#573460 8px 10px,#503456 10px 12px,#443444 12px 14px,#5e346a 14px 16px,#4f3454 16px 18px,#868a3e 18px 20px,#71733b 20px 22px,#83863d 22px 24px,#76793c 24px 26px,#878a3e 26px 28px,#868a3e 28px 30px,#7a7c3c 30px 32px,#595838 32px 34px,#636439 34px 36px,#6c6e3a 36px 38px,#72743b 38px 40px,#81843d 40px 42px,#75783c 42px 44px,#7e813d 44px 46px,#74773b 46px 48px,#7a7d3c 48px 50px,#8c8f3f 50px 52px,#74773b 52px 54px,#8a8e3e 54px 56px,#7b7e3c 56px 58px,#7e813d 58px 60px,#7c7f3d 60px 62px,#71733b 62px 64px,#6a6c3a 64px 66px,#71733b 66px 68px,#7d803d 68px 70px,#76783c 70px 72px,#7c7f3c 72px 74px,#626339 74px 76px,#76793c 76px 78px,#85893e 78px 80px,#646539 80px 82px,#7a7d3c 82px 84px,#7b7e3c 84px 86px,#6c6e3a 86px 88px,#74763b 88px 90px,#888b3e 90px 92px,#514f37 92px 94px,#6a6c3a 94px 96px,#7d803d 96px 98px,#787a3c 98px 100px,#7c7f3d 100px 102px,#71743b 102px 104px,#71743b 104px 106px,#6e703a 106px 108px,#3f343c 108px 110px,#444035 110px 112px,#4b4836 112px 114px,#443443 114px 116px,#4c3450 116px 118px,#443444 118px 120px,#3b3534 120px 122px,#4d3451 122px 124px,#453445 124px 126px,#483449 126px 128px,#5c3468 128px 130px,#3f343b 130px 132px,#4a4736 132px 134px,#673573 134px 136px,#4a344d 136px 138px,#4a344d 138px 140px,#504e37 140px 142px,#3d3734 142px 144px,#453445 144px 146px,#60346c 146px 148px,#3d3439 148px 150px,#41343f 150px 152px,#7d388b 152px 154px,#663572 154px 156px,#61356d 156px 158px,#693676 158px 160px,#72377f 160px 162px,#61356d 162px 164px,#55345e 164px 166px,#63356f 166px 168px,#56345f 168px 170px,#673574 170px 172px,#70367d 172px 174px,#61356d 174px 176px,#593464 176px 178px,#773784 178px 180px,#a843b7 180px 182px,#9d3fac 182px 184px,#903b9e 184px 186px,#ad45bd 186px 188px,#9a3ea8 188px 190px,#903b9f 190px 192px,#b647c6 192px 194px,#893a97 194px 196px,#943ca2 196px 198px,#9b3faa 198px 200px,#9b3fa9 200px 202px,#8f3b9d 202px 204px,#8d3a9b 204px 206px,#8b3a99 206px 208px,#a040af 208px 210px,#8d3a9b 210px 212px)"></div><div class="hm" style="left:232px;top:344.38px;width:212px;height:7.74px;background:linear-gradient(90deg,#4a344d 0px 2px,#433442 2px 4px,#49344b 4px 6px,#54345c 6px 8px,#593463 8px 10px,#49344b 10px 12px,#473448 12px 14px,#4b344e 14px 16px,#41343f 16px 18px,#7d803d 18px 20px,#797c3c 20px 22px,#82853d 22px 24px,#636439 24px 26px,#878a3e 26px 28px,#86893e 28px 30px,#82853d 30px 32px,#6c6e3a 32px 34px,#595838 34px 36px,#626239 36px 38px,#6d6f3a 38px 40px,#7f823d 40px 42px,#84873e 42px 44px,#72743b 44px 46px,#73763b 46px 48px,#73753b 48px 50px,#75773b 50px 52px,#6e703b 52px 54px,#8f933f 54px 56px,#7f823d 56px 58px,#8e923f 58px 60px,#68693a 60px 62px,#777a3c 62px 64px,#7c7f3c 64px 66px,#77793c 66px 68px,#82853d 68px 70px,#75773b 70px 72px,#696b3a 72px 74px,#696b3a 74px 76px,#6c6e3a 76px 78px,#a1a53f 78px 80px,#6a6c3a 80px 82px,#888c3e 82px 84px,#7d803d 84px 86px,#6a6c3a 86px 88px,#7e813d 88px 90px,#7e813d 90px 92px,#6a6c3a 92px 94px,#777a3c 94px 96px,#696a3a 96px 98px,#74763b 98px 100px,#81843d 100px 102px,#7b7d3c 102px 104px,#76783c 104px 106px,#7c7f3c 106px 108px,#3a3434 108px 110px,#403b35 110px 112px,#3c3436 112px 114px,#3c3734 114px 116px,#4d3451 116px 118px,#5a3465 118px 120px,#3a3435 120px 122px,#523458 122px 124px,#4a344c 124px 126px,#5c3468 126px 128px,#4e3452 128px 130px,#513458 130px 132px,#413d35 132px 134px,#663573 134px 136px,#503456 136px 138px,#443443 138px 140px,#413c35 140px 142px,#3f343b 142px 144px,#573460 144px 146px,#6b3678 146px 148px,#7f388c 148px 150px,#73377f 150px 152px,#80398e 152px 154px,#643570 154px 156px,#5a3465 156px 158px,#7c3889 158px 160px,#6f367c 160px 162px,#6b3678 162px 164px,#62356e 164px 166px,#60356c 166px 168px,#663572 168px 170px,#6c3679 170px 172px,#863994 172px 174px,#56345f 174px 176px,#663572 176px 178px,#5f346b 178px 180px,#9d3fac 180px 182px,#a341b2 182px 184px,#8d3a9b 184px 186px,#9f40ae 186px 188px,#8b3a99 188px 190px,#793886 190px 192px,#933ca1 192px 194px,#70367c 194px 196px,#893a97 196px 198px,#8f3b9e 198px 200px,#81398e 200px 202px,#893a96 202px 204px,#80398e 204px 206px,#8e3b9c 206px 208px,#8d3a9b 208px 210px,#923ca0 210px 212px)"></div><div class="hm" style="left:232px;top:352.06px;width:212px;height:7.74px;background:linear-gradient(90deg,#4f4c37 0px 2px,#75773b 2px 4px,#656639 4px 6px,#616139 6px 8px,#4d4b36 8px 10px,#5e5e38 10px 12px,#82853d 12px 14px,#636439 14px 16px,#535137 16px 18px,#616139 18px 20px,#5f6039 20px 22px,#67683a 22px 24px,#494636 24px 26px,#696b3a 26px 28px,#646539 28px 30px,#75783c 30px 32px,#3f3a35 32px 34px,#5f5f39 34px 36px,#535137 36px 38px,#545237 38px 40px,#71733b 40px 42px,#6a6c3a 42px 44px,#636339 44px 46px,#636439 46px 48px,#585738 48px 50px,#626339 50px 52px,#66683a 52px 54px,#7a7d3c 54px 56px,#616139 56px 58px,#7a7d3c 58px 60px,#656639 60px 62px,#5a5a38 62px 64px,#4f4c37 64px 66px,#606139 66px 68px,#72743b 68px 70px,#70723b 70px 72px,#70723b 72px 74px,#555337 74px 76px,#595838 76px 78px,#75783c 78px 80px,#656639 80px 82px,#606039 82px 84px,#77793c 84px 86px,#3d3439 86px 88px,#6d6f3a 88px 90px,#71733b 90px 92px,#4d4a36 92px 94px,#67693a 94px 96px,#585738 96px 98px,#595838 98px 100px,#6e703b 100px 102px,#6a6c3a 102px 104px,#474336 104px 106px,#68693a 106px 108px,#5c5c38 108px 110px,#888c3e 110px 112px,#4b344e 112px 114px,#56345f 114px 116px,#643570 116px 118px,#61356d 118px 120px,#56345f 120px 122px,#55345d 122px 124px,#573461 124px 126px,#693676 126px 128px,#5e346a 128px 130px,#6a3676 130px 132px,#4e3452 132px 134px,#7a3887 134px 136px,#783886 136px 138px,#56345f 138px 140px,#4b344e 140px 142px,#49344b 142px 144px,#923ca0 144px 146px,#82398f 146px 148px,#5b3467 148px 150px,#663573 150px 152px,#633570 152px 154px,#4c344f 154px 156px,#4d3451 156px 158px,#5a3465 158px 160px,#53345a 160px 162px,#523458 162px 164px,#55345d 164px 166px,#54345c 166px 168px,#5d3469 168px 170px,#5b3467 170px 172px,#6c3679 172px 174px,#4b344e 174px 176px,#4e3453 176px 178px,#593464 178px 180px,#8d3a9b 180px 182px,#843992 182px 184px,#673573 184px 186px,#823990 186px 188px,#653572 188px 190px,#5c3468 190px 192px,#8b3a99 192px 194px,#663572 194px 196px,#773784 196px 198px,#733780 198px 200px,#5d3469 200px 202px,#663572 202px 204px,#883996 204px 206px,#733780 206px 208px,#883a96 208px 210px,#743781 210px 212px)"></div><div class="hm" style="left:232px;top:359.75px;width:212px;height:7.74px;background:linear-gradient(90deg,#4a344d 0px 2px,#40343e 2px 4px,#3e343a 4px 6px,#503456 6px 8px,#573460 8px 10px,#3c3438 10px 12px,#3a3434 12px 14px,#49344a 14px 16px,#4b344e 16px 18px,#4f3455 18px 20px,#54345c 20px 22px,#453445 22px 24px,#583462 24px 26px,#3d3734 26px 28px,#433442 28px 30px,#473448 30px 32px,#5f346b 32px 34px,#4c3450 34px 36px,#5d3469 36px 38px,#4b344e 38px 40px,#443444 40px 42px,#443443 42px 44px,#453445 44px 46px,#4b344e 46px 48px,#3f343c 48px 50px,#453444 50px 52px,#513458 52px 54px,#3e3834 54px 56px,#48344a 56px 58px,#3d3438 58px 60px,#503456 60px 62px,#4e3452 62px 64px,#423440 64px 66px,#40343d 66px 68px,#443444 68px 70px,#41343f 70px 72px,#4a344d 72px 74px,#4c3450 74px 76px,#4d3451 76px 78px,#3b3534 78px 80px,#53345a 80px 82px,#4a344d 82px 84px,#3d3439 84px 86px,#4e3453 86px 88px,#433441 88px 90px,#3e3834 90px 92px,#5a3465 92px 94px,#4e3452 94px 96px,#55345d 96px 98px,#4b344f 98px 100px,#41343f 100px 102px,#4c3450 102px 104px,#5e346a 104px 106px,#3f3a35 106px 108px,#4d3451 108px 110px,#454135 110px 112px,#56345f 112px 114px,#53345a 114px 116px,#70367d 116px 118px,#7a3887 118px 120px,#683675 120px 122px,#70367d 122px 124px,#72377f 124px 126px,#80398e 126px 128px,#6b3678 128px 130px,#783885 130px 132px,#60356d 132px 134px,#7c388a 134px 136px,#80398e 136px 138px,#6c3678 138px 140px,#583462 140px 142px,#673574 142px 144px,#8c3a9a 144px 146px,#883a96 146px 148px,#683675 148px 150px,#63356f 150px 152px,#82398f 152px 154px,#583461 154px 156px,#653572 156px 158px,#6c3679 158px 160px,#6b3677 160px 162px,#63356f 162px 164px,#53345b 164px 166px,#55345e 166px 168px,#6b3677 168px 170px,#593463 170px 172px,#733780 172px 174px,#56345f 174px 176px,#673573 176px 178px,#5c3468 178px 180px,#823990 180px 182px,#6e367b 182px 184px,#633570 184px 186px,#793886 186px 188px,#62356e 188px 190px,#56345f 190px 192px,#7b3889 192px 194px,#523459 194px 196px,#583462 196px 198px,#753782 198px 200px,#5a3464 200px 202px,#70367d 202px 204px,#643570 204px 206px,#593463 206px 208px,#643570 208px 210px,#6d3679 210px 212px)"></div><div class="hm" style="left:232px;top:367.44px;width:212px;height:7.74px;background:linear-gradient(90deg,#403b35 0px 2px,#484436 2px 4px,#3b3435 4px 6px,#4b4836 6px 8px,#3b3435 8px 10px,#3e3935 10px 12px,#5e5d38 12px 14px,#474336 14px 16px,#535137 16px 18px,#484436 18px 20px,#5e5e38 20px 22px,#595838 22px 24px,#423440 24px 26px,#464235 26px 28px,#525037 28px 30px,#504e37 30px 32px,#3f343b 32px 34px,#3e343a 34px 36px,#3b3436 36px 38px,#4b4736 38px 40px,#555337 40px 42px,#4a4636 42px 44px,#4c4936 44px 46px,#3b3534 46px 48px,#535237 48px 50px,#443f35 50px 52px,#3d3834 52px 54px,#5a5938 54px 56px,#433f35 56px 58px,#5f6039 58px 60px,#3f3a35 60px 62px,#3e3935 62px 64px,#4c4936 64px 66px,#3b3436 66px 68px,#514f37 68px 70px,#4f4c37 70px 72px,#4a4736 72px 74px,#41343f 74px 76px,#484436 76px 78px,#5c5c38 78px 80px,#4a4636 80px 82px,#575638 82px 84px,#545237 84px 86px,#484436 86px 88px,#494636 88px 90px,#575638 90px 92px,#473447 92px 94px,#3b3534 94px 96px,#474336 96px 98px,#453445 98px 100px,#4f4c37 100px 102px,#4c4936 102px 104px,#3d3734 104px 106px,#514f37 106px 108px,#503456 108px 110px,#5c3468 110px 112px,#55345d 112px 114px,#6f367b 114px 116px,#673573 116px 118px,#773785 118px 120px,#503456 120px 122px,#63356f 122px 124px,#70377d 124px 126px,#6a3677 126px 128px,#673574 128px 130px,#693676 130px 132px,#55345d 132px 134px,#7b3888 134px 136px,#773784 136px 138px,#6f367b 138px 140px,#54345c 140px 142px,#523459 142px 144px,#693676 144px 146px,#80398e 146px 148px,#643570 148px 150px,#6b3678 150px 152px,#653572 152px 154px,#55345d 154px 156px,#5a3465 156px 158px,#5c3468 158px 160px,#60346c 160px 162px,#583463 162px 164px,#55345d 164px 166px,#673574 166px 168px,#5b3466 168px 170px,#56345f 170px 172px,#7d388b 172px 174px,#56345e 174px 176px,#523458 176px 178px,#5e346a 178px 180px,#7e388b 180px 182px,#573461 182px 184px,#53345a 184px 186px,#6c3679 186px 188px,#6c3678 188px 190px,#4c3450 190px 192px,#7f388d 192px 194px,#56345e 194px 196px,#56345f 196px 198px,#583462 198px 200px,#663572 200px 202px,#60346c 202px 204px,#5e346a 204px 206px,#663572 206px 208px,#62356f 208px 210px,#60356d 210px 212px)"></div><div class="hm" style="left:232px;top:375.12px;width:212px;height:7.74px;background:linear-gradient(90deg,#4a4736 0px 2px,#c3c73a 2px 4px,#bbbf3b 4px 6px,#b4b83c 6px 8px,#adb13d 8px 10px,#c4c83a 10px 12px,#c0c43b 12px 14px,#bdc13b 14px 16px,#bec23b 16px 18px,#3e343a 18px 20px,#463447 20px 22px,#433441 22px 24px,#583461 24px 26px,#3e343b 26px 28px,#3e3935 28px 30px,#5c3468 30px 32px,#673574 32px 34px,#6d367a 34px 36px,#5f346b 36px 38px,#683574 38px 40px,#573460 40px 42px,#5b3466 42px 44px,#61356d 44px 46px,#663572 46px 48px,#5e346b 48px 50px,#5d3469 50px 52px,#5c3468 52px 54px,#56345f 54px 56px,#6a3677 56px 58px,#63356f 58px 60px,#6c3679 60px 62px,#6f367c 62px 64px,#653571 64px 66px,#5d3469 66px 68px,#4f3454 68px 70px,#5b3467 70px 72px,#62356e 72px 74px,#733780 74px 76px,#61356e 76px 78px,#4d3450 78px 80px,#5e346a 80px 82px,#70377d 82px 84px,#56345f 84px 86px,#633570 86px 88px,#5a3464 88px 90px,#60346c 90px 92px,#7b3888 92px 94px,#5f346b 94px 96px,#5e346a 96px 98px,#72377f 98px 100px,#633570 100px 102px,#5a3464 102px 104px,#7e388b 104px 106px,#4f3455 106px 108px,#5a3465 108px 110px,#56345e 110px 112px,#5d3469 112px 114px,#62356e 114px 116px,#5a3465 116px 118px,#7d388b 118px 120px,#4d3451 120px 122px,#753782 122px 124px,#71377e 124px 126px,#6f367c 126px 128px,#673574 128px 130px,#60356c 130px 132px,#573461 132px 134px,#7a3887 134px 136px,#743781 136px 138px,#633570 138px 140px,#683574 140px 142px,#54345c 142px 144px,#743781 144px 146px,#7c388a 146px 148px,#62356f 148px 150px,#673573 150px 152px,#6e367b 152px 154px,#583462 154px 156px,#4f3454 156px 158px,#6f367c 158px 160px,#5c3468 160px 162px,#663572 162px 164px,#54345c 164px 166px,#513456 166px 168px,#653571 168px 170px,#5c3467 170px 172px,#783886 172px 174px,#4f3454 174px 176px,#5f346b 176px 178px,#6a3677 178px 180px,#733780 180px 182px,#6b3678 182px 184px,#5b3466 184px 186px,#6c3678 186px 188px,#6b3678 188px 190px,#5a3464 190px 192px,#6f367b 192px 194px,#503455 194px 196px,#5f346b 196px 198px,#5a3465 198px 200px,#4e3453 200px 202px,#5d3469 202px 204px,#523459 204px 206px,#673574 206px 208px,#5c3467 208px 210px,#693675 210px 212px)"></div><div class="hm" style="left:232px;top:382.81px;width:212px;height:7.74px;background:linear-gradient(90deg,#504d37 0px 2px,#b9bd3c 2px 4px,#aaae3d 4px 6px,#a1a53f 6px 8px,#a2a63e 8px 10px,#c1c53a 10px 12px,#d3d738 12px 14px,#b7bb3c 14px 16px,#bec23b 16px 18px,#4a344c 18px 20px,#4b344f 20px 22px,#3a3434 22px 24px,#54345c 24px 26px,#3e343a 26px 28px,#463446 28px 30px,#643571 30px 32px,#683675 32px 34px,#6e367a 34px 36px,#743781 36px 38px,#5d3469 38px 40px,#673574 40px 42px,#5c3467 42px 44px,#643570 44px 46px,#6c3679 46px 48px,#5a3464 48px 50px,#593464 50px 52px,#5f346b 52px 54px,#573460 54px 56px,#513456 56px 58px,#4d3451 58px 60px,#683675 60px 62px,#653571 62px 64px,#6c3679 64px 66px,#633570 66px 68px,#663572 68px 70px,#5d3469 70px 72px,#643570 72px 74px,#5f346c 74px 76px,#5e346a 76px 78px,#503456 78px 80px,#6d367a 80px 82px,#60356c 82px 84px,#5f346b 84px 86px,#70367d 86px 88px,#72377f 88px 90px,#503455 90px 92px,#863994 92px 94px,#693676 94px 96px,#62356e 96px 98px,#6f367c 98px 100px,#503456 100px 102px,#62356f 102px 104px,#63356f 104px 106px,#513457 106px 108px,#5e346a 108px 110px,#55345d 110px 112px,#4b344e 112px 114px,#60346c 114px 116px,#5f346b 116px 118px,#753782 118px 120px,#5a3465 120px 122px,#6b3678 122px 124px,#653572 124px 126px,#663573 126px 128px,#5f346b 128px 130px,#663572 130px 132px,#54345b 132px 134px,#70377d 134px 136px,#743781 136px 138px,#683574 138px 140px,#4c3450 140px 142px,#63356f 142px 144px,#6e367b 144px 146px,#873994 146px 148px,#513456 148px 150px,#733780 150px 152px,#663572 152px 154px,#4e3452 154px 156px,#5d3469 156px 158px,#54345c 158px 160px,#663572 160px 162px,#6c3679 162px 164px,#4e3452 164px 166px,#56345e 166px 168px,#5d3469 168px 170px,#72377f 170px 172px,#733780 172px 174px,#573460 174px 176px,#5a3465 176px 178px,#5d3469 178px 180px,#883a96 180px 182px,#6d367a 182px 184px,#4d3451 184px 186px,#673574 186px 188px,#663573 188px 190px,#5c3468 190px 192px,#6c3679 192px 194px,#4b344f 194px 196px,#56345f 196px 198px,#6d367a 198px 200px,#5c3468 200px 202px,#593464 202px 204px,#55345d 204px 206px,#4e3453 206px 208px,#643570 208px 210px,#5b3466 210px 212px)"></div><div class="hm" style="left:232px;top:390.50px;width:212px;height:7.74px;background:linear-gradient(90deg,#4b4736 0px 2px,#cfd339 2px 4px,#adb13d 4px 6px,#b5b93c 6px 8px,#b2b63c 8px 10px,#a7ab3e 10px 12px,#bdc13b 12px 14px,#a6aa3e 14px 16px,#c6ca3a 16px 18px,#453445 18px 20px,#463446 20px 22px,#423441 22px 24px,#6b3677 24px 26px,#3f343c 26px 28px,#423440 28px 30px,#5e346a 30px 32px,#6d367a 32px 34px,#653571 34px 36px,#6f367c 36px 38px,#6f367c 38px 40px,#63356f 40px 42px,#60356d 42px 44px,#573461 44px 46px,#70377d 46px 48px,#56345f 48px 50px,#663572 50px 52px,#61356d 52px 54px,#4f3453 54px 56px,#583462 56px 58px,#483449 58px 60px,#6a3677 60px 62px,#6b3677 62px 64px,#60356d 64px 66px,#5b3466 66px 68px,#663572 68px 70px,#5c3467 70px 72px,#6d3679 72px 74px,#663572 74px 76px,#5b3466 76px 78px,#55345d 78px 80px,#6b3678 80px 82px,#5c3468 82px 84px,#773784 84px 86px,#6b3677 86px 88px,#5b3467 88px 90px,#54345b 90px 92px,#7c3889 92px 94px,#6b3678 94px 96px,#643570 96px 98px,#5f346b 98px 100px,#5c3468 100px 102px,#573461 102px 104px,#893a97 104px 106px,#5c3467 106px 108px,#583462 108px 110px,#583462 110px 112px,#60346c 112px 114px,#63356f 114px 116px,#56345f 116px 118px,#7c3889 118px 120px,#63356f 120px 122px,#72377f 122px 124px,#6b3678 124px 126px,#693676 126px 128px,#663573 128px 130px,#7a3887 130px 132px,#4b344f 132px 134px,#7e388b 134px 136px,#773784 136px 138px,#53345a 138px 140px,#54345c 140px 142px,#663572 142px 144px,#7d388a 144px 146px,#853992 146px 148px,#663572 148px 150px,#6c3679 150px 152px,#663572 152px 154px,#55345e 154px 156px,#61356d 156px 158px,#4c344f 158px 160px,#673574 160px 162px,#5b3467 162px 164px,#523459 164px 166px,#55345e 166px 168px,#5e346a 168px 170px,#583462 170px 172px,#5f346c 172px 174px,#54345c 174px 176px,#60346c 176px 178px,#593463 178px 180px,#7f388c 180px 182px,#6c3678 182px 184px,#573461 184px 186px,#733780 186px 188px,#663572 188px 190px,#523458 190px 192px,#72377f 192px 194px,#5b3466 194px 196px,#55345e 196px 198px,#663572 198px 200px,#55345d 200px 202px,#5f346b 202px 204px,#5b3466 204px 206px,#54345c 206px 208px,#81398f 208px 210px,#733780 210px 212px)"></div><div class="hm" style="left:232px;top:398.19px;width:212px;height:7.74px;background:linear-gradient(90deg,#66683a 0px 2px,#84873e 2px 4px,#606039 4px 6px,#777a3c 6px 8px,#72753b 8px 10px,#75773b 10px 12px,#84873e 12px 14px,#73763b 14px 16px,#7e813d 16px 18px,#777a3c 18px 20px,#7b7d3c 20px 22px,#7b7d3c 22px 24px,#5f5f39 24px 26px,#4e3452 26px 28px,#503456 28px 30px,#4a344d 30px 32px,#753782 32px 34px,#72377f 34px 36px,#5e346a 36px 38px,#5a3465 38px 40px,#503456 40px 42px,#673573 42px 44px,#4f3454 44px 46px,#5a3465 46px 48px,#4a344c 48px 50px,#5b3466 50px 52px,#5b3466 52px 54px,#3d3439 54px 56px,#49344b 56px 58px,#3e343a 58px 60px,#513458 60px 62px,#62356e 62px 64px,#513457 64px 66px,#55345d 66px 68px,#513457 68px 70px,#453445 70px 72px,#5a3466 72px 74px,#633570 74px 76px,#5a3465 76px 78px,#4b344e 78px 80px,#53345b 80px 82px,#4d3451 82px 84px,#443444 84px 86px,#5f346b 86px 88px,#55345e 88px 90px,#3e343a 90px 92px,#71377e 92px 94px,#583462 94px 96px,#54345c 96px 98px,#5a3465 98px 100px,#453445 100px 102px,#56345f 102px 104px,#5f346c 104px 106px,#4a344c 106px 108px,#53345b 108px 110px,#4f3455 110px 112px,#453444 112px 114px,#4b344f 114px 116px,#4e3453 116px 118px,#5c3468 118px 120px,#4b344e 120px 122px,#5b3466 122px 124px,#54345b 124px 126px,#693676 126px 128px,#683574 128px 130px,#593464 130px 132px,#4e3453 132px 134px,#70367c 134px 136px,#6a3676 136px 138px,#53345a 138px 140px,#433442 140px 142px,#513457 142px 144px,#6d367a 144px 146px,#82398f 146px 148px,#4d3451 148px 150px,#60356d 150px 152px,#5b3466 152px 154px,#5a3465 154px 156px,#4c344f 156px 158px,#4f3454 158px 160px,#61356d 160px 162px,#503455 162px 164px,#41343f 164px 166px,#4b344e 166px 168px,#56345f 168px 170px,#4b344e 170px 172px,#63356f 172px 174px,#4b344e 174px 176px,#433442 176px 178px,#4d3451 178px 180px,#6a3676 180px 182px,#5b3467 182px 184px,#463446 184px 186px,#673573 186px 188px,#4c3450 188px 190px,#443444 190px 192px,#663573 192px 194px,#433442 194px 196px,#463447 196px 198px,#56345e 198px 200px,#4c344f 200px 202px,#483449 202px 204px,#523458 204px 206px,#55345e 206px 208px,#583461 208px 210px,#55345d 210px 212px)"></div><div class="hm" style="left:232px;top:405.88px;width:212px;height:7.74px;background:linear-gradient(90deg,#76783c 0px 2px,#76793c 2px 4px,#7f823d 4px 6px,#73753b 6px 8px,#686a3a 8px 10px,#6f713b 10px 12px,#86893e 12px 14px,#72753b 14px 16px,#7a7c3c 16px 18px,#8b8e3e 18px 20px,#878a3e 20px 22px,#82853d 22px 24px,#423440 24px 26px,#4c4936 26px 28px,#40343d 28px 30px,#4c4936 30px 32px,#433442 32px 34px,#49344a 34px 36px,#503456 36px 38px,#3f3a35 38px 40px,#4b4836 40px 42px,#3e343a 42px 44px,#433e35 44px 46px,#3b3436 46px 48px,#3e3834 48px 50px,#4a4736 50px 52px,#40343d 52px 54px,#595838 54px 56px,#433e35 56px 58px,#3d3834 58px 60px,#473448 60px 62px,#4d4a36 62px 64px,#3c3437 64px 66px,#454035 66px 68px,#4e4b36 68px 70px,#4e4b36 70px 72px,#3b3435 72px 74px,#483449 74px 76px,#3f343c 76px 78px,#3a3434 78px 80px,#433443 80px 82px,#464235 82px 84px,#443443 84px 86px,#483449 86px 88px,#423e35 88px 90px,#595838 90px 92px,#55345d 92px 94px,#423440 94px 96px,#473449 96px 98px,#49344b 98px 100px,#464236 100px 102px,#4c4936 102px 104px,#513456 104px 106px,#535137 106px 108px,#523459 108px 110px,#56345e 110px 112px,#3f343b 112px 114px,#6e367b 114px 116px,#5b3467 116px 118px,#6d3679 118px 120px,#483449 120px 122px,#56345f 122px 124px,#523458 124px 126px,#6d367a 126px 128px,#61356d 128px 130px,#583463 130px 132px,#4b344f 132px 134px,#763783 134px 136px,#733780 136px 138px,#5c3468 138px 140px,#55345e 140px 142px,#49344b 142px 144px,#7c3889 144px 146px,#933ca1 146px 148px,#573460 148px 150px,#673573 150px 152px,#6a3677 152px 154px,#463446 154px 156px,#513458 156px 158px,#5c3468 158px 160px,#5f346c 160px 162px,#583461 162px 164px,#4f3454 164px 166px,#54345c 166px 168px,#423440 168px 170px,#54345b 170px 172px,#7b3888 172px 174px,#423440 174px 176px,#4d3450 176px 178px,#513457 178px 180px,#72377f 180px 182px,#5d346a 182px 184px,#4f3454 184px 186px,#693675 186px 188px,#573461 188px 190px,#49344a 190px 192px,#743781 192px 194px,#4c344f 194px 196px,#5b3467 196px 198px,#573461 198px 200px,#53345b 200px 202px,#583463 202px 204px,#573460 204px 206px,#3f343c 206px 208px,#5b3466 208px 210px,#6c3679 210px 212px)"></div><div class="hm" style="left:232px;top:413.56px;width:212px;height:7.74px;background:linear-gradient(90deg,#8a8d3e 0px 2px,#999d40 2px 4px,#8b8e3e 4px 6px,#8d913f 6px 8px,#8d913f 8px 10px,#8e913f 10px 12px,#90933f 12px 14px,#999d40 14px 16px,#989c40 16px 18px,#91953f 18px 20px,#8d903f 20px 22px,#83863d 22px 24px,#7b3888 24px 26px,#523459 26px 28px,#5b3466 28px 30px,#693676 30px 32px,#653571 32px 34px,#7b3888 34px 36px,#6b3677 36px 38px,#5a3465 38px 40px,#693676 40px 42px,#503456 42px 44px,#583462 44px 46px,#5b3466 46px 48px,#593463 48px 50px,#53345a 50px 52px,#60346c 52px 54px,#81843d 54px 56px,#646539 56px 58px,#6e713b 58px 60px,#67693a 60px 62px,#73753b 62px 64px,#666739 64px 66px,#72743b 66px 68px,#76793c 68px 70px,#75783c 70px 72px,#72753b 72px 74px,#565437 74px 76px,#6b6d3a 76px 78px,#7a7c3c 78px 80px,#636339 80px 82px,#6a6c3a 82px 84px,#6c6e3a 84px 86px,#545237 86px 88px,#656639 88px 90px,#92963f 90px 92px,#473447 92px 94px,#41343e 94px 96px,#3b3534 96px 98px,#4c3450 98px 100px,#4b344e 100px 102px,#4a344d 102px 104px,#4b344f 104px 106px,#4f4c37 106px 108px,#3e3935 108px 110px,#3a3435 110px 112px,#55345e 112px 114px,#663572 114px 116px,#6c3679 116px 118px,#72377f 118px 120px,#5d346a 120px 122px,#6f367c 122px 124px,#6e367b 124px 126px,#783885 126px 128px,#6a3676 128px 130px,#5b3466 130px 132px,#56345f 132px 134px,#633570 134px 136px,#81398e 136px 138px,#5c3467 138px 140px,#5b3467 140px 142px,#5c3468 142px 144px,#763783 144px 146px,#793886 146px 148px,#55345d 148px 150px,#6e367b 150px 152px,#793887 152px 154px,#593463 154px 156px,#54345c 156px 158px,#663572 158px 160px,#573461 160px 162px,#513457 162px 164px,#5c3468 164px 166px,#583462 166px 168px,#6e367b 168px 170px,#893a97 170px 172px,#8e3b9c 172px 174px,#71377e 174px 176px,#80388d 176px 178px,#6b3678 178px 180px,#923ca0 180px 182px,#893a97 182px 184px,#70367d 184px 186px,#8c3a9a 186px 188px,#793886 188px 190px,#6c3679 190px 192px,#893a97 192px 194px,#763783 194px 196px,#7b3888 196px 198px,#7e388c 198px 200px,#933ca1 200px 202px,#62356e 202px 204px,#80388d 204px 206px,#7a3888 206px 208px,#953da4 208px 210px,#80398e 210px 212px)"></div><div class="hm" style="left:232px;top:421.25px;width:212px;height:7.74px;background:linear-gradient(90deg,#8b8e3e 0px 2px,#8e913f 2px 4px,#878b3e 4px 6px,#82853d 6px 8px,#7d803d 8px 10px,#8a8e3e 10px 12px,#939740 12px 14px,#989c40 14px 16px,#979b40 16px 18px,#91953f 18px 20px,#959940 20px 22px,#9ca03f 22px 24px,#6a3676 24px 26px,#4e3453 26px 28px,#55345d 28px 30px,#593463 30px 32px,#733780 32px 34px,#6a3677 34px 36px,#62356e 36px 38px,#62356e 38px 40px,#5f346b 40px 42px,#663573 42px 44px,#513457 44px 46px,#583462 46px 48px,#53345a 48px 50px,#5e346a 50px 52px,#63356f 52px 54px,#82863d 54px 56px,#6c6f3a 56px 58px,#7e813d 58px 60px,#666739 60px 62px,#5e5f39 62px 64px,#5f5f39 64px 66px,#74773b 66px 68px,#787b3c 68px 70px,#696b3a 70px 72px,#606139 72px 74px,#6c6e3a 74px 76px,#6e703b 76px 78px,#797b3c 78px 80px,#74763b 80px 82px,#6f713b 82px 84px,#6a6c3a 84px 86px,#68693a 86px 88px,#6d6f3a 88px 90px,#7f823d 90px 92px,#523458 92px 94px,#473448 94px 96px,#463447 96px 98px,#473448 98px 100px,#4a4636 100px 102px,#453444 102px 104px,#433442 104px 106px,#433f35 106px 108px,#3e343a 108px 110px,#454135 110px 112px,#503455 112px 114px,#653571 114px 116px,#733780 116px 118px,#6c3679 118px 120px,#643570 120px 122px,#643570 122px 124px,#783785 124px 126px,#71377e 126px 128px,#743780 128px 130px,#753782 130px 132px,#563460 132px 134px,#773784 134px 136px,#773784 136px 138px,#693676 138px 140px,#523459 140px 142px,#6a3677 142px 144px,#72377f 144px 146px,#793886 146px 148px,#513458 148px 150px,#61356d 150px 152px,#6a3677 152px 154px,#56345e 154px 156px,#56345f 156px 158px,#6b3678 158px 160px,#54345b 160px 162px,#583462 162px 164px,#54345c 164px 166px,#643571 166px 168px,#6a3676 168px 170px,#72377f 170px 172px,#993ea8 172px 174px,#693675 174px 176px,#61356d 176px 178px,#783785 178px 180px,#903b9e 180px 182px,#893a97 182px 184px,#7a3887 184px 186px,#883a96 186px 188px,#63356f 188px 190px,#71377e 190px 192px,#8e3b9c 192px 194px,#643570 194px 196px,#7a3887 196px 198px,#793886 198px 200px,#72377f 200px 202px,#80388d 202px 204px,#863994 204px 206px,#71377e 206px 208px,#7d388b 208px 210px,#80388d 210px 212px)"></div><div class="hm" style="left:232px;top:428.94px;width:212px;height:7.74px;background:linear-gradient(90deg,#959940 0px 2px,#878a3e 2px 4px,#8f933f 4px 6px,#85883e 6px 8px,#84873e 8px 10px,#8e913f 10px 12px,#91943f 12px 14px,#90933f 14px 16px,#8e923f 16px 18px,#92963f 18px 20px,#8a8e3e 20px 22px,#8b8e3e 22px 24px,#6d367a 24px 26px,#54345c 26px 28px,#4c344f 28px 30px,#583461 30px 32px,#683574 32px 34px,#6e367a 34px 36px,#6e367a 36px 38px,#60346c 38px 40px,#5b3466 40px 42px,#5b3467 42px 44px,#55345d 44px 46px,#53345a 46px 48px,#583462 48px 50px,#4a344d 50px 52px,#5d3469 52px 54px,#75783c 54px 56px,#606039 56px 58px,#81843d 58px 60px,#555437 60px 62px,#6d6f3a 62px 64px,#74763b 64px 66px,#71733b 66px 68px,#73763b 68px 70px,#6f713b 70px 72px,#6c6e3a 72px 74px,#616139 74px 76px,#646539 76px 78px,#787b3c 78px 80px,#70723b 80px 82px,#6c6e3a 82px 84px,#76793c 84px 86px,#535137 86px 88px,#696b3a 88px 90px,#70733b 90px 92px,#53345b 92px 94px,#3c3437 94px 96px,#3c3438 96px 98px,#49344b 98px 100px,#423d35 100px 102px,#40343e 102px 104px,#4a344c 104px 106px,#443f35 106px 108px,#444035 108px 110px,#443443 110px 112px,#5c3468 112px 114px,#573461 114px 116px,#60356d 116px 118px,#5b3467 118px 120px,#5c3468 120px 122px,#6d367a 122px 124px,#593464 124px 126px,#6a3677 126px 128px,#5b3466 128px 130px,#62356e 130px 132px,#56345f 132px 134px,#71377e 134px 136px,#793886 136px 138px,#62356e 138px 140px,#573461 140px 142px,#5c3468 142px 144px,#6f367c 144px 146px,#823990 146px 148px,#5a3465 148px 150px,#6e367b 150px 152px,#653572 152px 154px,#6f367c 154px 156px,#583462 156px 158px,#5d3469 158px 160px,#683574 160px 162px,#55345e 162px 164px,#513457 164px 166px,#523459 166px 168px,#6f367b 168px 170px,#71377e 170px 172px,#913b9f 172px 174px,#793886 174px 176px,#753782 176px 178px,#7c3889 178px 180px,#923ca0 180px 182px,#893a97 182px 184px,#593463 184px 186px,#a040ae 186px 188px,#753782 188px 190px,#763783 190px 192px,#8f3b9d 192px 194px,#62356f 194px 196px,#773784 196px 198px,#8b3a99 198px 200px,#763783 200px 202px,#783785 202px 204px,#8f3b9d 204px 206px,#6f367b 206px 208px,#8f3b9d 208px 210px,#893a97 210px 212px)"></div><div class="hm" style="left:232px;top:436.62px;width:212px;height:7.74px;background:linear-gradient(90deg,#6b6d3a 0px 2px,#73763b 2px 4px,#646539 4px 6px,#787b3c 6px 8px,#606139 8px 10px,#616239 10px 12px,#7b7d3c 12px 14px,#6f713b 14px 16px,#656639 16px 18px,#5f5f39 18px 20px,#636439 20px 22px,#7e813d 22px 24px,#503455 24px 26px,#3f3a35 26px 28px,#3c3437 28px 30px,#454135 30px 32px,#4e3453 32px 34px,#443443 34px 36px,#41343f 36px 38px,#3e3834 38px 40px,#3b3436 40px 42px,#3b3436 42px 44px,#3b3435 44px 46px,#453445 46px 48px,#463446 48px 50px,#3d3439 50px 52px,#4a344d 52px 54px,#484436 54px 56px,#484536 56px 58px,#494536 58px 60px,#3c3437 60px 62px,#3f343c 62px 64px,#3b3435 64px 66px,#3d3734 66px 68px,#3b3435 68px 70px,#403b35 70px 72px,#443443 72px 74px,#4b344d 74px 76px,#3b3435 76px 78px,#5b5a38 78px 80px,#4c3450 80px 82px,#494536 82px 84px,#433f35 84px 86px,#523459 86px 88px,#3b3436 88px 90px,#4b4836 90px 92px,#4f3455 92px 94px,#433442 94px 96px,#473448 96px 98px,#463446 98px 100px,#444035 100px 102px,#3c3634 102px 104px,#483449 104px 106px,#4b4836 106px 108px,#62356f 108px 110px,#583462 110px 112px,#513458 112px 114px,#56345f 114px 116px,#5e346a 116px 118px,#6b3678 118px 120px,#5a3464 120px 122px,#573460 122px 124px,#7a3887 124px 126px,#70367c 126px 128px,#573460 128px 130px,#653571 130px 132px,#63356f 132px 134px,#773784 134px 136px,#7f388c 136px 138px,#643571 138px 140px,#523459 140px 142px,#4f3455 142px 144px,#72377f 144px 146px,#783785 146px 148px,#56345f 148px 150px,#673574 150px 152px,#763783 152px 154px,#583462 154px 156px,#54345c 156px 158px,#62356e 158px 160px,#643570 160px 162px,#5f346b 162px 164px,#5c3468 164px 166px,#63356f 166px 168px,#5c3468 168px 170px,#5e346a 170px 172px,#73377f 172px 174px,#4c344f 174px 176px,#56345e 176px 178px,#5b3467 178px 180px,#823990 180px 182px,#72377f 182px 184px,#56345f 184px 186px,#7e388b 186px 188px,#5f346b 188px 190px,#5f346b 190px 192px,#6f367b 192px 194px,#53345a 194px 196px,#54345c 196px 198px,#663573 198px 200px,#60356d 200px 202px,#583463 202px 204px,#5f346b 204px 206px,#4b344e 206px 208px,#6b3677 208px 210px,#6b3677 210px 212px)"></div><div class="hm" style="left:232px;top:444.31px;width:212px;height:7.74px;background:linear-gradient(90deg,#7b7d3c 0px 2px,#898d3e 2px 4px,#80833d 4px 6px,#83863d 6px 8px,#6a6c3a 8px 10px,#939740 10px 12px,#9ea23f 12px 14px,#84873e 14px 16px,#81843d 16px 18px,#84873e 18px 20px,#888b3e 20px 22px,#6f713b 22px 24px,#61356d 24px 26px,#4f3455 26px 28px,#463447 28px 30px,#40343e 30px 32px,#593463 32px 34px,#70367d 34px 36px,#4e3453 36px 38px,#4d3451 38px 40px,#4e3452 40px 42px,#4c344f 42px 44px,#3f343c 44px 46px,#573461 46px 48px,#4b344f 48px 50px,#4e3453 50px 52px,#4e3452 52px 54px,#4b344e 54px 56px,#3f343c 56px 58px,#49344a 58px 60px,#4f3454 60px 62px,#62356f 62px 64px,#583462 64px 66px,#53345b 66px 68px,#433441 68px 70px,#563460 70px 72px,#4f3454 72px 74px,#5c3468 74px 76px,#4c344f 76px 78px,#443443 78px 80px,#53345b 80px 82px,#4d3451 82px 84px,#3e343b 84px 86px,#62356e 86px 88px,#4e3453 88px 90px,#423e35 90px 92px,#653571 92px 94px,#4d3451 94px 96px,#54345c 96px 98px,#55345e 98px 100px,#583462 100px 102px,#4e3453 102px 104px,#643570 104px 106px,#503455 106px 108px,#793887 108px 110px,#5f346b 110px 112px,#5f346c 112px 114px,#7e388b 114px 116px,#62356e 116px 118px,#893a97 118px 120px,#70377d 120px 122px,#793886 122px 124px,#843991 124px 126px,#913c9f 126px 128px,#863994 128px 130px,#6f367c 130px 132px,#5c3468 132px 134px,#993ea7 134px 136px,#7a3887 136px 138px,#71377e 138px 140px,#5f346b 140px 142px,#6d367a 142px 144px,#863994 144px 146px,#993ea8 146px 148px,#783885 148px 150px,#833991 150px 152px,#843992 152px 154px,#63356f 154px 156px,#73377f 156px 158px,#633570 158px 160px,#773784 160px 162px,#743781 162px 164px,#5b3467 164px 166px,#693675 166px 168px,#71377e 168px 170px,#783785 170px 172px,#8f3b9d 172px 174px,#743781 174px 176px,#5e346b 176px 178px,#643570 178px 180px,#793887 180px 182px,#773784 182px 184px,#673574 184px 186px,#82398f 186px 188px,#6d367a 188px 190px,#6b3677 190px 192px,#80388d 192px 194px,#523458 194px 196px,#7d388b 196px 198px,#833990 198px 200px,#793886 200px 202px,#663572 202px 204px,#683574 204px 206px,#6a3677 206px 208px,#753782 208px 210px,#793886 210px 212px)"></div>
<svg width="550" height="625" viewBox="0 0 550 625" font-family='"Liberation Sans", sans-serif'>
<text x="31.5" y="40" font-size="24" font-weight="bold" text-anchor="start" fill="#000" >A</text><text x="88.3" y="11.8" font-size="12.3" font-weight="bold" text-anchor="start" fill="#000" >Tissue section</text><line x1="66" y1="17.5" x2="198" y2="17.5" stroke="#000" stroke-width="1.1"/><text x="332.5" y="11.8" font-size="12" font-weight="bold" text-anchor="start" fill="#000" >Clustering</text><line x1="214.7" y1="17.5" x2="511.8" y2="17.5" stroke="#000" stroke-width="1.1"/><text transform="translate(60.7,98.7) rotate(-90)" font-size="11" font-weight="bold" text-anchor="middle">Patient#1</text><circle cx="444.2" cy="27.4" r="2.8" fill="#8B4A38"/><text x="454.5" y="30.3" font-size="8.5" font-weight="normal" text-anchor="start" fill="#222" >cluster#0 (PGT)</text><circle cx="444.2" cy="37.7" r="2.8" fill="#E41A1C"/><text x="454.5" y="40.6" font-size="8.5" font-weight="normal" text-anchor="start" fill="#222" >cluster#1 (GS)</text><circle cx="444.2" cy="48" r="2.8" fill="#1FB8E8"/><text x="454.5" y="50.9" font-size="8.5" font-weight="normal" text-anchor="start" fill="#222" >cluster#2 (PM)</text><circle cx="444.2" cy="58.3" r="2.8" fill="#8F6FD6"/><text x="454.5" y="61.2" font-size="8.5" font-weight="normal" text-anchor="start" fill="#222" >cluster#3 (IM)</text><circle cx="444.2" cy="68.6" r="2.8" fill="#EE82EE"/><text x="454.5" y="71.5" font-size="8.5" font-weight="normal" text-anchor="start" fill="#222" >cluster#4 (DM)</text><line x1="380.9" y1="24" x2="380.9" y2="169" stroke="#000" stroke-width="1.1"/><line x1="380.4" y1="168.5" x2="487.3" y2="168.5" stroke="#000" stroke-width="1.1"/><line x1="378" y1="32.7" x2="381" y2="32.7" stroke="#000" stroke-width="0.8"/><text x="376.3" y="35.6" font-size="8.3" font-weight="normal" text-anchor="end" fill="#111" >6</text><line x1="378" y1="66.9" x2="381" y2="66.9" stroke="#000" stroke-width="0.8"/><text x="376.3" y="69.8" font-size="8.3" font-weight="normal" text-anchor="end" fill="#111" >3</text><line x1="378" y1="100.5" x2="381" y2="100.5" stroke="#000" stroke-width="0.8"/><text x="376.3" y="103.4" font-size="8.3" font-weight="normal" text-anchor="end" fill="#111" >0</text><line x1="378" y1="134.5" x2="381" y2="134.5" stroke="#000" stroke-width="0.8"/><text x="376.3" y="137.4" font-size="8.3" font-weight="normal" text-anchor="end" fill="#111" >−3</text><line x1="378" y1="168.2" x2="381" y2="168.2" stroke="#000" stroke-width="0.8"/><text x="376.3" y="171.1" font-size="8.3" font-weight="normal" text-anchor="end" fill="#111" >−6</text><line x1="385.4" y1="168.5" x2="385.4" y2="171.5" stroke="#000" stroke-width="0.9"/><text x="382.8" y="179.3" font-size="8.3" font-weight="normal" text-anchor="middle" fill="#111" >−10</text><line x1="409.5" y1="168.5" x2="409.5" y2="171.5" stroke="#000" stroke-width="0.9"/><text x="406.7" y="179.3" font-size="8.3" font-weight="normal" text-anchor="middle" fill="#111" >−5</text><line x1="433.4" y1="168.5" x2="433.4" y2="171.5" stroke="#000" stroke-width="0.9"/><text x="433.6" y="179.3" font-size="8.3" font-weight="normal" text-anchor="middle" fill="#111" >0</text><line x1="457.6" y1="168.5" x2="457.6" y2="171.5" stroke="#000" stroke-width="0.9"/><text x="457.6" y="179.3" font-size="8.3" font-weight="normal" text-anchor="middle" fill="#111" >5</text><line x1="482.2" y1="168.5" x2="482.2" y2="171.5" stroke="#000" stroke-width="0.9"/><text x="482.7" y="179.3" font-size="8.3" font-weight="normal" text-anchor="middle" fill="#111" >10</text><text transform="translate(367.2,101.5) rotate(-90)" font-size="9.5" text-anchor="middle" fill="#222">UMAP_2</text><text x="2.2" y="202" font-size="24" font-weight="bold" text-anchor="start" fill="#000" >B</text><text x="18.6" y="227.6" font-size="11.6" font-weight="normal" text-anchor="start" fill="#111" >Pseudotime</text><defs><linearGradient id="spec"><stop offset="0.0" stop-color="#5E4FA2"/><stop offset="0.1" stop-color="#3288BD"/><stop offset="0.2" stop-color="#66C2A5"/><stop offset="0.3" stop-color="#ABDDA4"/><stop offset="0.4" stop-color="#E6F598"/><stop offset="0.5" stop-color="#FFFFBF"/><stop offset="0.6" stop-color="#FEE08B"/><stop offset="0.7" stop-color="#FDAE61"/><stop offset="0.8" stop-color="#F46D43"/><stop offset="0.9" stop-color="#D53E4F"/><stop offset="1.0" stop-color="#9E0142"/></linearGradient><linearGradient id="hmc" x1="0" y1="0" x2="0" y2="1"><stop offset="0" stop-color="#FFFF00"/><stop offset="0.5" stop-color="#000000"/><stop offset="1" stop-color="#FF00FF"/></linearGradient></defs><rect x="83.6" y="214.4" width="87.3" height="17.4" fill="url(#spec)"/><text x="84.4" y="244.8" font-size="9" font-weight="normal" text-anchor="middle" fill="#222" >0</text><line x1="84.4" y1="214.4" x2="84.4" y2="217.8" stroke="#fff" stroke-width="0.7"/><line x1="84.4" y1="228.4" x2="84.4" y2="231.8" stroke="#fff" stroke-width="0.7"/><text x="100.7" y="244.8" font-size="9" font-weight="normal" text-anchor="middle" fill="#222" >5</text><line x1="100.7" y1="214.4" x2="100.7" y2="217.8" stroke="#fff" stroke-width="0.7"/><line x1="100.7" y1="228.4" x2="100.7" y2="231.8" stroke="#fff" stroke-width="0.7"/><text x="117.1" y="244.8" font-size="9" font-weight="normal" text-anchor="middle" fill="#222" >10</text><line x1="117.1" y1="214.4" x2="117.1" y2="217.8" stroke="#fff" stroke-width="0.7"/><line x1="117.1" y1="228.4" x2="117.1" y2="231.8" stroke="#fff" stroke-width="0.7"/><text x="133.8" y="244.8" font-size="9" font-weight="normal" text-anchor="middle" fill="#222" >15</text><line x1="133.8" y1="214.4" x2="133.8" y2="217.8" stroke="#fff" stroke-width="0.7"/><line x1="133.8" y1="228.4" x2="133.8" y2="231.8" stroke="#fff" stroke-width="0.7"/><text x="149.8" y="244.8" font-size="9" font-weight="normal" text-anchor="middle" fill="#222" >20</text><line x1="149.8" y1="214.4" x2="149.8" y2="217.8" stroke="#fff" stroke-width="0.7"/><line x1="149.8" y1="228.4" x2="149.8" y2="231.8" stroke="#fff" stroke-width="0.7"/><text x="166.5" y="244.8" font-size="9" font-weight="normal" text-anchor="middle" fill="#222" >25</text><line x1="166.5" y1="214.4" x2="166.5" y2="217.8" stroke="#fff" stroke-width="0.7"/><line x1="166.5" y1="228.4" x2="166.5" y2="231.8" stroke="#fff" stroke-width="0.7"/><defs><linearGradient id="pst"><stop offset="0" stop-color="#C45458"/><stop offset="0.45" stop-color="#CC666A"/><stop offset="0.55" stop-color="#DC9AA0"/><stop offset="0.72" stop-color="#EEC8CC"/><stop offset="1" stop-color="#F8EEF0"/></linearGradient></defs><rect x="232" y="190.6" width="212" height="5.4" fill="url(#pst)"/><rect x="232" y="198" width="19" height="6" fill="#A0766A"/><rect x="251" y="198" width="93" height="6" fill="#EE2B2B"/><rect x="344" y="198" width="28" height="6" fill="#22BBEE"/><rect x="372" y="198" width="20" height="6" fill="#A58BDD"/><rect x="392" y="198" width="2" height="6" fill="#22BBEE"/><rect x="394" y="198" width="17" height="6" fill="#A58BDD"/><rect x="411" y="198" width="33" height="6" fill="#E8A0EC"/><text x="446" y="212.1" font-size="6.4" font-weight="normal" text-anchor="start" fill="#222" >MYL2</text><text x="446" y="219.8" font-size="6.4" font-weight="normal" text-anchor="start" fill="#222" >MYLPF</text><text x="446" y="227.5" font-size="6.4" font-weight="bold" text-anchor="start" fill="#222" >TTN</text><text x="446" y="235.2" font-size="6.4" font-weight="normal" text-anchor="start" fill="#222" >CASQ1</text><text x="446" y="242.9" font-size="6.4" font-weight="normal" text-anchor="start" fill="#222" >ACTN3</text><text x="446" y="250.6" font-size="6.4" font-weight="normal" text-anchor="start" fill="#222" >MYOZ1</text><text x="446" y="258.3" font-size="6.4" font-weight="normal" text-anchor="start" fill="#222" >ENO3</text><text x="446" y="266" font-size="6.4" font-weight="normal" text-anchor="start" fill="#222" >SAA1</text><text x="446" y="273.6" font-size="6.4" font-weight="normal" text-anchor="start" fill="#222" >SAA2</text><text x="446" y="281.3" font-size="6.4" font-weight="normal" text-anchor="start" fill="#222" >TLR8</text><text x="446" y="289" font-size="6.4" font-weight="normal" text-anchor="start" fill="#222" >TNF</text><text x="446" y="296.7" font-size="6.4" font-weight="normal" text-anchor="start" fill="#222" >IRF1</text><text x="446" y="304.4" font-size="6.4" font-weight="normal" text-anchor="start" fill="#222" >CCL19</text><text x="446" y="312.1" font-size="6.4" font-weight="normal" text-anchor="start" fill="#222" >TFRC</text><text x="446" y="319.8" font-size="6.4" font-weight="normal" text-anchor="start" fill="#222" >MMP14</text><text x="446" y="327.5" font-size="6.4" font-weight="normal" text-anchor="start" fill="#222" >CHI3L1</text><text x="446" y="335.1" font-size="6.4" font-weight="normal" text-anchor="start" fill="#222" >CD68</text><text x="446" y="342.8" font-size="6.4" font-weight="normal" text-anchor="start" fill="#222" >HLA−DRA</text><text x="446" y="350.5" font-size="6.4" font-weight="normal" text-anchor="start" fill="#222" >MMP9</text><text x="446" y="358.2" font-size="6.4" font-weight="bold" text-anchor="start" fill="#222" >LYZ</text><text x="446" y="365.9" font-size="6.4" font-weight="normal" text-anchor="start" fill="#222" >ENG</text><text x="446" y="373.6" font-size="6.4" font-weight="normal" text-anchor="start" fill="#222" >DAB2</text><text x="446" y="381.3" font-size="6.4" font-weight="normal" text-anchor="start" fill="#222" >ADAMTS5</text><text x="446" y="389" font-size="6.4" font-weight="bold" text-anchor="start" fill="#222" >PLA2G2A</text><text x="446" y="396.6" font-size="6.4" font-weight="normal" text-anchor="start" fill="#222" >IGFBP6</text><text x="446" y="404.3" font-size="6.4" font-weight="normal" text-anchor="start" fill="#222" >FBLN1</text><text x="446" y="412" font-size="6.4" font-weight="normal" text-anchor="start" fill="#222" >CCDC80</text><text x="446" y="419.7" font-size="6.4" font-weight="normal" text-anchor="start" fill="#222" >MMP2</text><text x="446" y="427.4" font-size="6.4" font-weight="normal" text-anchor="start" fill="#222" >COL1A1</text><text x="446" y="435.1" font-size="6.4" font-weight="normal" text-anchor="start" fill="#222" >COL1A2</text><text x="446" y="442.8" font-size="6.4" font-weight="normal" text-anchor="start" fill="#222" >IFITM3</text><text x="446" y="450.5" font-size="6.4" font-weight="normal" text-anchor="start" fill="#222" >CST3</text><text x="446" y="195.9" font-size="6.3" font-weight="bold" text-anchor="start" fill="#222" >Pseudotime</text><text x="446" y="203.1" font-size="6.3" font-weight="bold" text-anchor="start" fill="#222" >clusters</text><rect x="486.5" y="189.6" width="6.4" height="93.2" fill="url(#hmc)"/><text x="495.6" y="192.7" font-size="6.5" font-weight="normal" text-anchor="start" fill="#333" >3</text><text x="495.6" y="208.2" font-size="6.5" font-weight="normal" text-anchor="start" fill="#333" >2</text><text x="495.6" y="223.6" font-size="6.5" font-weight="normal" text-anchor="start" fill="#333" >1</text><text x="495.6" y="239.1" font-size="6.5" font-weight="normal" text-anchor="start" fill="#333" >0</text><text x="495.6" y="254.5" font-size="6.5" font-weight="normal" text-anchor="start" fill="#333" >−1</text><text x="495.6" y="269.9" font-size="6.5" font-weight="normal" text-anchor="start" fill="#333" >−2</text><text x="495.6" y="285.4" font-size="6.5" font-weight="normal" text-anchor="start" fill="#333" >−3</text><text x="510.8" y="199.1" font-size="6.3" font-weight="bold" text-anchor="start" fill="#222" >Pseudotime</text><rect x="510.8" y="204.8" width="9.2" height="8.9" fill="#C4343A"/><rect x="510.8" y="213.7" width="9.2" height="8.9" fill="#DC8790"/><rect x="510.8" y="222.6" width="9.2" height="8.9" fill="#F0C8CE"/><text x="521.5" y="207.9" font-size="6.5" font-weight="normal" text-anchor="start" fill="#333" >25</text><text x="522.5" y="233.8" font-size="6.5" font-weight="normal" text-anchor="start" fill="#333" >5</text><text x="485.2" y="306.2" font-size="6.3" font-weight="bold" text-anchor="start" fill="#222" >clusters</text><rect x="485.5" y="308.4" width="9" height="8.85" fill="#8E4B3A"/><text x="495.6" y="315.2" font-size="6.4" font-weight="normal" text-anchor="start" fill="#333" >cluster_PGT</text><rect x="485.5" y="317.2" width="9" height="8.85" fill="#F00F0F"/><text x="495.6" y="324.1" font-size="6.4" font-weight="normal" text-anchor="start" fill="#333" >cluster_GS</text><rect x="485.5" y="326.1" width="9" height="8.85" fill="#11BBF0"/><text x="495.6" y="332.9" font-size="6.4" font-weight="normal" text-anchor="start" fill="#333" >cluster_PM</text><rect x="485.5" y="334.9" width="9" height="8.85" fill="#9373D6"/><text x="495.6" y="341.8" font-size="6.4" font-weight="normal" text-anchor="start" fill="#333" >cluster_IM</text><rect x="485.5" y="343.8" width="9" height="8.85" fill="#E783EA"/><text x="495.6" y="350.6" font-size="6.4" font-weight="normal" text-anchor="start" fill="#333" >cluster_DM</text><text x="50.5" y="486.4" font-size="24" font-weight="bold" text-anchor="start" fill="#000" >C</text><text transform="translate(96.3,547) rotate(-90)" font-size="11" font-weight="bold" text-anchor="middle">Patient#1</text><line x1="105.1" y1="470.6" x2="219" y2="470.6" stroke="#000" stroke-width="1.1"/><line x1="239.1" y1="470.6" x2="353" y2="470.6" stroke="#000" stroke-width="1.1"/><line x1="379" y1="470.6" x2="492.9" y2="470.6" stroke="#000" stroke-width="1.1"/><text x="145.6" y="489.5" font-size="7.7" font-weight="normal" text-anchor="end" fill="#222" >PLA2G2A</text><text x="271.6" y="489.5" font-size="7.7" font-weight="normal" text-anchor="end" fill="#222" >LYZ</text><text x="409.7" y="489.5" font-size="7.7" font-weight="normal" text-anchor="end" fill="#222" >TTN</text><rect x="149.9" y="480.4" width="61.5" height="11.6" fill="url(#spec)"/><text x="151.2" y="500.6" font-size="6.5" font-weight="normal" text-anchor="middle" fill="#333" >0</text><line x1="151.2" y1="480.4" x2="151.2" y2="482.6" stroke="#fff" stroke-width="0.6"/><line x1="151.2" y1="489.8" x2="151.2" y2="492" stroke="#fff" stroke-width="0.6"/><text x="166.6" y="500.6" font-size="6.5" font-weight="normal" text-anchor="middle" fill="#333" >1</text><line x1="166.6" y1="480.4" x2="166.6" y2="482.6" stroke="#fff" stroke-width="0.6"/><line x1="166.6" y1="489.8" x2="166.6" y2="492" stroke="#fff" stroke-width="0.6"/><text x="182.4" y="500.6" font-size="6.5" font-weight="normal" text-anchor="middle" fill="#333" >2</text><line x1="182.4" y1="480.4" x2="182.4" y2="482.6" stroke="#fff" stroke-width="0.6"/><line x1="182.4" y1="489.8" x2="182.4" y2="492" stroke="#fff" stroke-width="0.6"/><text x="198.6" y="500.6" font-size="6.5" font-weight="normal" text-anchor="middle" fill="#333" >3</text><line x1="198.6" y1="480.4" x2="198.6" y2="482.6" stroke="#fff" stroke-width="0.6"/><line x1="198.6" y1="489.8" x2="198.6" y2="492" stroke="#fff" stroke-width="0.6"/><rect x="277" y="480.4" width="60.6" height="11.6" fill="url(#spec)"/><text x="277" y="500.6" font-size="6.5" font-weight="normal" text-anchor="middle" fill="#333" >0</text><line x1="277" y1="480.4" x2="277" y2="482.6" stroke="#fff" stroke-width="0.6"/><line x1="277" y1="489.8" x2="277" y2="492" stroke="#fff" stroke-width="0.6"/><text x="287.2" y="500.6" font-size="6.5" font-weight="normal" text-anchor="middle" fill="#333" >1</text><line x1="287.2" y1="480.4" x2="287.2" y2="482.6" stroke="#fff" stroke-width="0.6"/><line x1="287.2" y1="489.8" x2="287.2" y2="492" stroke="#fff" stroke-width="0.6"/><text x="298.5" y="500.6" font-size="6.5" font-weight="normal" text-anchor="middle" fill="#333" >2</text><line x1="298.5" y1="480.4" x2="298.5" y2="482.6" stroke="#fff" stroke-width="0.6"/><line x1="298.5" y1="489.8" x2="298.5" y2="492" stroke="#fff" stroke-width="0.6"/><text x="309.5" y="500.6" font-size="6.5" font-weight="normal" text-anchor="middle" fill="#333" >3</text><line x1="309.5" y1="480.4" x2="309.5" y2="482.6" stroke="#fff" stroke-width="0.6"/><line x1="309.5" y1="489.8" x2="309.5" y2="492" stroke="#fff" stroke-width="0.6"/><text x="320.5" y="500.6" font-size="6.5" font-weight="normal" text-anchor="middle" fill="#333" >4</text><line x1="320.5" y1="480.4" x2="320.5" y2="482.6" stroke="#fff" stroke-width="0.6"/><line x1="320.5" y1="489.8" x2="320.5" y2="492" stroke="#fff" stroke-width="0.6"/><text x="331.2" y="500.6" font-size="6.5" font-weight="normal" text-anchor="middle" fill="#333" >5</text><line x1="331.2" y1="480.4" x2="331.2" y2="482.6" stroke="#fff" stroke-width="0.6"/><line x1="331.2" y1="489.8" x2="331.2" y2="492" stroke="#fff" stroke-width="0.6"/><rect x="414" y="480.4" width="61" height="11.6" fill="url(#spec)"/><text x="414" y="500.6" font-size="6.5" font-weight="normal" text-anchor="middle" fill="#333" >0</text><line x1="414" y1="480.4" x2="414" y2="482.6" stroke="#fff" stroke-width="0.6"/><line x1="414" y1="489.8" x2="414" y2="492" stroke="#fff" stroke-width="0.6"/><text x="424.3" y="500.6" font-size="6.5" font-weight="normal" text-anchor="middle" fill="#333" >1</text><line x1="424.3" y1="480.4" x2="424.3" y2="482.6" stroke="#fff" stroke-width="0.6"/><line x1="424.3" y1="489.8" x2="424.3" y2="492" stroke="#fff" stroke-width="0.6"/><text x="435.3" y="500.6" font-size="6.5" font-weight="normal" text-anchor="middle" fill="#333" >2</text><line x1="435.3" y1="480.4" x2="435.3" y2="482.6" stroke="#fff" stroke-width="0.6"/><line x1="435.3" y1="489.8" x2="435.3" y2="492" stroke="#fff" stroke-width="0.6"/><text x="446" y="500.6" font-size="6.5" font-weight="normal" text-anchor="middle" fill="#333" >3</text><line x1="446" y1="480.4" x2="446" y2="482.6" stroke="#fff" stroke-width="0.6"/><line x1="446" y1="489.8" x2="446" y2="492" stroke="#fff" stroke-width="0.6"/><text x="457" y="500.6" font-size="6.5" font-weight="normal" text-anchor="middle" fill="#333" >4</text><line x1="457" y1="480.4" x2="457" y2="482.6" stroke="#fff" stroke-width="0.6"/><line x1="457" y1="489.8" x2="457" y2="492" stroke="#fff" stroke-width="0.6"/><text x="467.8" y="500.6" font-size="6.5" font-weight="normal" text-anchor="middle" fill="#333" >5</text><line x1="467.8" y1="480.4" x2="467.8" y2="482.6" stroke="#fff" stroke-width="0.6"/><line x1="467.8" y1="489.8" x2="467.8" y2="492" stroke="#fff" stroke-width="0.6"/><polygon points="404.2,41.1 409.5,42.4 412.1,46.3 412.8,50.2 416.7,51.6 418.7,55.5 420,60.7 419.3,68.6 417.4,72.6 414.7,73.9 413.4,77.8 416.1,79.1 418.7,81.7 422.6,84.4 423.3,90.9 421.3,92.2 409.5,81.7 410.2,67.3 410.8,58.1 410.2,50.2 408.2,45" fill="#1BB6EC" /><path d="M422 90.4a0.9 0.9 0 1 0 1.8 0a0.9 0.9 0 1 0 -1.8 0M420.7 91.2a0.9 0.9 0 1 0 1.8 0a0.9 0.9 0 1 0 -1.8 0M408.3 74.4a0.9 0.9 0 1 0 1.8 0a0.9 0.9 0 1 0 -1.8 0M423.6 92.5a0.9 0.9 0 1 0 1.8 0a0.9 0.9 0 1 0 -1.8 0M410.2 44.5a0.9 0.9 0 1 0 1.8 0a0.9 0.9 0 1 0 -1.8 0M403.4 40.7a0.9 0.9 0 1 0 1.8 0a0.9 0.9 0 1 0 -1.8 0M411 81.4a0.9 0.9 0 1 0 1.8 0a0.9 0.9 0 1 0 -1.8 0M407.9 50.4a0.9 0.9 0 1 0 1.8 0a0.9 0.9 0 1 0 -1.8 0M417.9 63.7a0.9 0.9 0 1 0 1.8 0a0.9 0.9 0 1 0 -1.8 0M410.8 52.2a0.9 0.9 0 1 0 1.8 0a0.9 0.9 0 1 0 -1.8 0M411.3 49.9a0.9 0.9 0 1 0 1.8 0a0.9 0.9 0 1 0 -1.8 0M413.3 73.8a0.9 0.9 0 1 0 1.8 0a0.9 0.9 0 1 0 -1.8 0M412.9 53.3a0.9 0.9 0 1 0 1.8 0a0.9 0.9 0 1 0 -1.8 0M404.8 41.2a0.9 0.9 0 1 0 1.8 0a0.9 0.9 0 1 0 -1.8 0M421.3 84.6a0.9 0.9 0 1 0 1.8 0a0.9 0.9 0 1 0 -1.8 0M406 43.2a0.9 0.9 0 1 0 1.8 0a0.9 0.9 0 1 0 -1.8 0M415.4 74.7a0.9 0.9 0 1 0 1.8 0a0.9 0.9 0 1 0 -1.8 0M412.4 50.3a0.9 0.9 0 1 0 1.8 0a0.9 0.9 0 1 0 -1.8 0M421.5 93.4a0.9 0.9 0 1 0 1.8 0a0.9 0.9 0 1 0 -1.8 0M423.4 91.4a0.9 0.9 0 1 0 1.8 0a0.9 0.9 0 1 0 -1.8 0M423.1 89.4a0.9 0.9 0 1 0 1.8 0a0.9 0.9 0 1 0 -1.8 0M421.2 58.3a0.9 0.9 0 1 0 1.8 0a0.9 0.9 0 1 0 -1.8 0M410.3 55.2a0.9 0.9 0 1 0 1.8 0a0.9 0.9 0 1 0 -1.8 0M420.4 83.4a0.9 0.9 0 1 0 1.8 0a0.9 0.9 0 1 0 -1.8 0M411.4 47.2a0.9 0.9 0 1 0 1.8 0a0.9 0.9 0 1 0 -1.8 0M408.5 49a0.9 0.9 0 1 0 1.8 0a0.9 0.9 0 1 0 -1.8 0M411.2 47a0.9 0.9 0 1 0 1.8 0a0.9 0.9 0 1 0 -1.8 0M413.2 81a0.9 0.9 0 1 0 1.8 0a0.9 0.9 0 1 0 -1.8 0M411.4 84.4a0.9 0.9 0 1 0 1.8 0a0.9 0.9 0 1 0 -1.8 0M408.5 43.2a0.9 0.9 0 1 0 1.8 0a0.9 0.9 0 1 0 -1.8 0M417.9 72.9a0.9 0.9 0 1 0 1.8 0a0.9 0.9 0 1 0 -1.8 0M411.7 64.7a0.9 0.9 0 1 0 1.8 0a0.9 0.9 0 1 0 -1.8 0M409.6 50a0.9 0.9 0 1 0 1.8 0a0.9 0.9 0 1 0 -1.8 0M409.4 69.7a0.9 0.9 0 1 0 1.8 0a0.9 0.9 0 1 0 -1.8 0M416.5 72.3a0.9 0.9 0 1 0 1.8 0a0.9 0.9 0 1 0 -1.8 0M408.6 78.8a0.9 0.9 0 1 0 1.8 0a0.9 0.9 0 1 0 -1.8 0M416.5 69.1a0.9 0.9 0 1 0 1.8 0a0.9 0.9 0 1 0 -1.8 0M412.1 47a0.9 0.9 0 1 0 1.8 0a0.9 0.9 0 1 0 -1.8 0M402.9 41.6a0.9 0.9 0 1 0 1.8 0a0.9 0.9 0 1 0 -1.8 0M408 44.2a0.9 0.9 0 1 0 1.8 0a0.9 0.9 0 1 0 -1.8 0" fill="#1BB6EC"/><polygon points="393.7,30.6 396.4,31.9 397.7,37.1 401,39.7 404.2,41.1 408.2,45 410.2,50.2 410.8,58.1 410.2,67.3 409.5,76.5 408.8,81.7 406.2,89.6 404.2,93.6 400.3,93.6 396.4,88.3 392.4,80.4 388.5,72.6 385.2,64.7 384.6,56.8 387.2,47.6 389.8,39.7 391.1,34.5" fill="#EE0A0A" /><path d="M404.6 42.4a0.9 0.9 0 1 0 1.8 0a0.9 0.9 0 1 0 -1.8 0M405.6 85.4a0.9 0.9 0 1 0 1.8 0a0.9 0.9 0 1 0 -1.8 0M406.9 42.8a0.9 0.9 0 1 0 1.8 0a0.9 0.9 0 1 0 -1.8 0M404.2 92.3a0.9 0.9 0 1 0 1.8 0a0.9 0.9 0 1 0 -1.8 0M390 39.8a0.9 0.9 0 1 0 1.8 0a0.9 0.9 0 1 0 -1.8 0M408.6 45.7a0.9 0.9 0 1 0 1.8 0a0.9 0.9 0 1 0 -1.8 0M396.5 34.7a0.9 0.9 0 1 0 1.8 0a0.9 0.9 0 1 0 -1.8 0M406 82.1a0.9 0.9 0 1 0 1.8 0a0.9 0.9 0 1 0 -1.8 0M397.1 88.9a0.9 0.9 0 1 0 1.8 0a0.9 0.9 0 1 0 -1.8 0M393.3 32.5a0.9 0.9 0 1 0 1.8 0a0.9 0.9 0 1 0 -1.8 0M387 47.4a0.9 0.9 0 1 0 1.8 0a0.9 0.9 0 1 0 -1.8 0M408.5 74.2a0.9 0.9 0 1 0 1.8 0a0.9 0.9 0 1 0 -1.8 0M383.4 53a0.9 0.9 0 1 0 1.8 0a0.9 0.9 0 1 0 -1.8 0M386.7 67a0.9 0.9 0 1 0 1.8 0a0.9 0.9 0 1 0 -1.8 0M392 80.1a0.9 0.9 0 1 0 1.8 0a0.9 0.9 0 1 0 -1.8 0M385.5 42.6a0.9 0.9 0 1 0 1.8 0a0.9 0.9 0 1 0 -1.8 0M404.4 90.1a0.9 0.9 0 1 0 1.8 0a0.9 0.9 0 1 0 -1.8 0M407.2 51.3a0.9 0.9 0 1 0 1.8 0a0.9 0.9 0 1 0 -1.8 0M387.2 75a0.9 0.9 0 1 0 1.8 0a0.9 0.9 0 1 0 -1.8 0M410.3 53.3a0.9 0.9 0 1 0 1.8 0a0.9 0.9 0 1 0 -1.8 0M408.6 58.2a0.9 0.9 0 1 0 1.8 0a0.9 0.9 0 1 0 -1.8 0M408.1 84.2a0.9 0.9 0 1 0 1.8 0a0.9 0.9 0 1 0 -1.8 0M397.3 35.3a0.9 0.9 0 1 0 1.8 0a0.9 0.9 0 1 0 -1.8 0M404.8 46.1a0.9 0.9 0 1 0 1.8 0a0.9 0.9 0 1 0 -1.8 0M396.1 91.3a0.9 0.9 0 1 0 1.8 0a0.9 0.9 0 1 0 -1.8 0M387.7 44.2a0.9 0.9 0 1 0 1.8 0a0.9 0.9 0 1 0 -1.8 0M386 45.8a0.9 0.9 0 1 0 1.8 0a0.9 0.9 0 1 0 -1.8 0M406.6 79.2a0.9 0.9 0 1 0 1.8 0a0.9 0.9 0 1 0 -1.8 0M403.8 93.9a0.9 0.9 0 1 0 1.8 0a0.9 0.9 0 1 0 -1.8 0M410.4 62a0.9 0.9 0 1 0 1.8 0a0.9 0.9 0 1 0 -1.8 0M400.3 39.1a0.9 0.9 0 1 0 1.8 0a0.9 0.9 0 1 0 -1.8 0M403.1 92.7a0.9 0.9 0 1 0 1.8 0a0.9 0.9 0 1 0 -1.8 0M390.1 76.5a0.9 0.9 0 1 0 1.8 0a0.9 0.9 0 1 0 -1.8 0M384.3 59.9a0.9 0.9 0 1 0 1.8 0a0.9 0.9 0 1 0 -1.8 0M405.6 91.3a0.9 0.9 0 1 0 1.8 0a0.9 0.9 0 1 0 -1.8 0M408.7 44.5a0.9 0.9 0 1 0 1.8 0a0.9 0.9 0 1 0 -1.8 0M399.1 37.5a0.9 0.9 0 1 0 1.8 0a0.9 0.9 0 1 0 -1.8 0M391.8 82.9a0.9 0.9 0 1 0 1.8 0a0.9 0.9 0 1 0 -1.8 0M400.4 92.4a0.9 0.9 0 1 0 1.8 0a0.9 0.9 0 1 0 -1.8 0M406.3 84.7a0.9 0.9 0 1 0 1.8 0a0.9 0.9 0 1 0 -1.8 0M390.8 35.5a0.9 0.9 0 1 0 1.8 0a0.9 0.9 0 1 0 -1.8 0M401 93.3a0.9 0.9 0 1 0 1.8 0a0.9 0.9 0 1 0 -1.8 0M407.2 83.6a0.9 0.9 0 1 0 1.8 0a0.9 0.9 0 1 0 -1.8 0M385.9 72.5a0.9 0.9 0 1 0 1.8 0a0.9 0.9 0 1 0 -1.8 0M411.1 72.2a0.9 0.9 0 1 0 1.8 0a0.9 0.9 0 1 0 -1.8 0M399.6 38.6a0.9 0.9 0 1 0 1.8 0a0.9 0.9 0 1 0 -1.8 0M392.7 31.9a0.9 0.9 0 1 0 1.8 0a0.9 0.9 0 1 0 -1.8 0M382.8 65.3a0.9 0.9 0 1 0 1.8 0a0.9 0.9 0 1 0 -1.8 0M388.8 81a0.9 0.9 0 1 0 1.8 0a0.9 0.9 0 1 0 -1.8 0M397.8 39.7a0.9 0.9 0 1 0 1.8 0a0.9 0.9 0 1 0 -1.8 0" fill="#EE0A0A"/><polygon points="406.9,80.4 412.1,81.7 417.4,83.1 421.3,87 423.9,92.2 424.6,98.8 421.3,101.4 416.1,102.1 412.1,100.1 408.2,94.9 405.6,90.9 406.9,85.7" fill="#8B4A36" /><path d="M406.7 84a0.9 0.9 0 1 0 1.8 0a0.9 0.9 0 1 0 -1.8 0M408.8 96.1a0.9 0.9 0 1 0 1.8 0a0.9 0.9 0 1 0 -1.8 0M408.6 91.5a0.9 0.9 0 1 0 1.8 0a0.9 0.9 0 1 0 -1.8 0M408.9 98.7a0.9 0.9 0 1 0 1.8 0a0.9 0.9 0 1 0 -1.8 0M413.6 82.2a0.9 0.9 0 1 0 1.8 0a0.9 0.9 0 1 0 -1.8 0M406.9 82.4a0.9 0.9 0 1 0 1.8 0a0.9 0.9 0 1 0 -1.8 0M407.6 94.8a0.9 0.9 0 1 0 1.8 0a0.9 0.9 0 1 0 -1.8 0M411.3 96.7a0.9 0.9 0 1 0 1.8 0a0.9 0.9 0 1 0 -1.8 0M418.4 101.7a0.9 0.9 0 1 0 1.8 0a0.9 0.9 0 1 0 -1.8 0M418.2 101a0.9 0.9 0 1 0 1.8 0a0.9 0.9 0 1 0 -1.8 0M410.6 100a0.9 0.9 0 1 0 1.8 0a0.9 0.9 0 1 0 -1.8 0M423.2 92.8a0.9 0.9 0 1 0 1.8 0a0.9 0.9 0 1 0 -1.8 0M421.8 87.9a0.9 0.9 0 1 0 1.8 0a0.9 0.9 0 1 0 -1.8 0M405.6 83.4a0.9 0.9 0 1 0 1.8 0a0.9 0.9 0 1 0 -1.8 0M407 81.3a0.9 0.9 0 1 0 1.8 0a0.9 0.9 0 1 0 -1.8 0M404.7 84.4a0.9 0.9 0 1 0 1.8 0a0.9 0.9 0 1 0 -1.8 0M417.8 100.4a0.9 0.9 0 1 0 1.8 0a0.9 0.9 0 1 0 -1.8 0M409.3 97.8a0.9 0.9 0 1 0 1.8 0a0.9 0.9 0 1 0 -1.8 0M408.8 98.6a0.9 0.9 0 1 0 1.8 0a0.9 0.9 0 1 0 -1.8 0M417.3 81.8a0.9 0.9 0 1 0 1.8 0a0.9 0.9 0 1 0 -1.8 0M416.6 86.8a0.9 0.9 0 1 0 1.8 0a0.9 0.9 0 1 0 -1.8 0M422.6 91.6a0.9 0.9 0 1 0 1.8 0a0.9 0.9 0 1 0 -1.8 0M421.8 88.3a0.9 0.9 0 1 0 1.8 0a0.9 0.9 0 1 0 -1.8 0M414.2 103a0.9 0.9 0 1 0 1.8 0a0.9 0.9 0 1 0 -1.8 0M415.8 82.3a0.9 0.9 0 1 0 1.8 0a0.9 0.9 0 1 0 -1.8 0" fill="#8B4A36"/><path d="M386.4 66.5a0.7 0.7 0 1 0 1.4 0a0.7 0.7 0 1 0 -1.4 0M393.2 82.3a0.7 0.7 0 1 0 1.4 0a0.7 0.7 0 1 0 -1.4 0M393.3 75a0.7 0.7 0 1 0 1.4 0a0.7 0.7 0 1 0 -1.4 0M400.5 52.2a0.7 0.7 0 1 0 1.4 0a0.7 0.7 0 1 0 -1.4 0M404.9 60.9a0.7 0.7 0 1 0 1.4 0a0.7 0.7 0 1 0 -1.4 0M400 87.6a0.7 0.7 0 1 0 1.4 0a0.7 0.7 0 1 0 -1.4 0M396.5 42.5a0.7 0.7 0 1 0 1.4 0a0.7 0.7 0 1 0 -1.4 0M388 48.4a0.7 0.7 0 1 0 1.4 0a0.7 0.7 0 1 0 -1.4 0M401.5 67.1a0.7 0.7 0 1 0 1.4 0a0.7 0.7 0 1 0 -1.4 0M394.1 57.4a0.7 0.7 0 1 0 1.4 0a0.7 0.7 0 1 0 -1.4 0M393.2 43.8a0.7 0.7 0 1 0 1.4 0a0.7 0.7 0 1 0 -1.4 0M393.7 70.5a0.7 0.7 0 1 0 1.4 0a0.7 0.7 0 1 0 -1.4 0M394.6 53.2a0.7 0.7 0 1 0 1.4 0a0.7 0.7 0 1 0 -1.4 0M404.7 51a0.7 0.7 0 1 0 1.4 0a0.7 0.7 0 1 0 -1.4 0M408.5 66.4a0.7 0.7 0 1 0 1.4 0a0.7 0.7 0 1 0 -1.4 0M388.9 67.4a0.7 0.7 0 1 0 1.4 0a0.7 0.7 0 1 0 -1.4 0M392.8 78.6a0.7 0.7 0 1 0 1.4 0a0.7 0.7 0 1 0 -1.4 0M391.2 37.9a0.7 0.7 0 1 0 1.4 0a0.7 0.7 0 1 0 -1.4 0M392.5 64.5a0.7 0.7 0 1 0 1.4 0a0.7 0.7 0 1 0 -1.4 0M393.6 57.8a0.7 0.7 0 1 0 1.4 0a0.7 0.7 0 1 0 -1.4 0M388.6 43.6a0.7 0.7 0 1 0 1.4 0a0.7 0.7 0 1 0 -1.4 0M391.8 36.9a0.7 0.7 0 1 0 1.4 0a0.7 0.7 0 1 0 -1.4 0" fill="#ffffff"/><path d="M410.6 85.1a0.6 0.6 0 1 0 1.2 0a0.6 0.6 0 1 0 -1.2 0M412.7 84.4a0.6 0.6 0 1 0 1.2 0a0.6 0.6 0 1 0 -1.2 0M406.4 91.6a0.6 0.6 0 1 0 1.2 0a0.6 0.6 0 1 0 -1.2 0M414.4 85a0.6 0.6 0 1 0 1.2 0a0.6 0.6 0 1 0 -1.2 0M407.2 89a0.6 0.6 0 1 0 1.2 0a0.6 0.6 0 1 0 -1.2 0" fill="#ffffff"/><polygon points="449.5,97.9 451.8,99.1 452.4,102.7 456.6,105 463.7,106.2 468.4,111 471.4,115.7 472.6,120.4 476.7,124 480.3,128.7 482.1,135.8 482.1,145.3 480.3,153.6 476.7,159.5 473.2,161.9 468.4,161.3 463.7,158.4 461.3,153.6 459,146.5 456.6,138.2 454.8,129.9 453,122.8 450.7,115.7 448.3,108.6 446.5,102.7 447.1,99.1" fill="#1BB6EC" /><path d="M444.2 101.3a0.9 0.9 0 1 0 1.8 0a0.9 0.9 0 1 0 -1.8 0M475.4 126a0.9 0.9 0 1 0 1.8 0a0.9 0.9 0 1 0 -1.8 0M479.3 154.6a0.9 0.9 0 1 0 1.8 0a0.9 0.9 0 1 0 -1.8 0M478 140.9a0.9 0.9 0 1 0 1.8 0a0.9 0.9 0 1 0 -1.8 0M447.2 100.4a0.9 0.9 0 1 0 1.8 0a0.9 0.9 0 1 0 -1.8 0M452.4 101.4a0.9 0.9 0 1 0 1.8 0a0.9 0.9 0 1 0 -1.8 0M476.8 160.3a0.9 0.9 0 1 0 1.8 0a0.9 0.9 0 1 0 -1.8 0M468.5 114.6a0.9 0.9 0 1 0 1.8 0a0.9 0.9 0 1 0 -1.8 0M453.8 132.2a0.9 0.9 0 1 0 1.8 0a0.9 0.9 0 1 0 -1.8 0M445.6 98.5a0.9 0.9 0 1 0 1.8 0a0.9 0.9 0 1 0 -1.8 0M477.4 128.5a0.9 0.9 0 1 0 1.8 0a0.9 0.9 0 1 0 -1.8 0M479.7 127.3a0.9 0.9 0 1 0 1.8 0a0.9 0.9 0 1 0 -1.8 0M468.6 112.5a0.9 0.9 0 1 0 1.8 0a0.9 0.9 0 1 0 -1.8 0M484.6 144a0.9 0.9 0 1 0 1.8 0a0.9 0.9 0 1 0 -1.8 0M482.2 135.8a0.9 0.9 0 1 0 1.8 0a0.9 0.9 0 1 0 -1.8 0M451.6 120.7a0.9 0.9 0 1 0 1.8 0a0.9 0.9 0 1 0 -1.8 0M462.1 104.8a0.9 0.9 0 1 0 1.8 0a0.9 0.9 0 1 0 -1.8 0M475.4 123.7a0.9 0.9 0 1 0 1.8 0a0.9 0.9 0 1 0 -1.8 0M454.4 128.2a0.9 0.9 0 1 0 1.8 0a0.9 0.9 0 1 0 -1.8 0M461.7 107.4a0.9 0.9 0 1 0 1.8 0a0.9 0.9 0 1 0 -1.8 0M451.7 124.2a0.9 0.9 0 1 0 1.8 0a0.9 0.9 0 1 0 -1.8 0M475.7 151a0.9 0.9 0 1 0 1.8 0a0.9 0.9 0 1 0 -1.8 0M480.7 134.5a0.9 0.9 0 1 0 1.8 0a0.9 0.9 0 1 0 -1.8 0M480 133.5a0.9 0.9 0 1 0 1.8 0a0.9 0.9 0 1 0 -1.8 0M477.7 125a0.9 0.9 0 1 0 1.8 0a0.9 0.9 0 1 0 -1.8 0M471.3 117.9a0.9 0.9 0 1 0 1.8 0a0.9 0.9 0 1 0 -1.8 0M473.3 121.6a0.9 0.9 0 1 0 1.8 0a0.9 0.9 0 1 0 -1.8 0M452.2 101.4a0.9 0.9 0 1 0 1.8 0a0.9 0.9 0 1 0 -1.8 0M451.3 99.6a0.9 0.9 0 1 0 1.8 0a0.9 0.9 0 1 0 -1.8 0M455.3 104.1a0.9 0.9 0 1 0 1.8 0a0.9 0.9 0 1 0 -1.8 0M473.3 123.7a0.9 0.9 0 1 0 1.8 0a0.9 0.9 0 1 0 -1.8 0M470.3 117.3a0.9 0.9 0 1 0 1.8 0a0.9 0.9 0 1 0 -1.8 0M452.8 105.3a0.9 0.9 0 1 0 1.8 0a0.9 0.9 0 1 0 -1.8 0M471 116.6a0.9 0.9 0 1 0 1.8 0a0.9 0.9 0 1 0 -1.8 0M462.5 105a0.9 0.9 0 1 0 1.8 0a0.9 0.9 0 1 0 -1.8 0M481.3 136.4a0.9 0.9 0 1 0 1.8 0a0.9 0.9 0 1 0 -1.8 0M468.4 113.4a0.9 0.9 0 1 0 1.8 0a0.9 0.9 0 1 0 -1.8 0M482.5 137.4a0.9 0.9 0 1 0 1.8 0a0.9 0.9 0 1 0 -1.8 0M448 117.5a0.9 0.9 0 1 0 1.8 0a0.9 0.9 0 1 0 -1.8 0M449.2 99.7a0.9 0.9 0 1 0 1.8 0a0.9 0.9 0 1 0 -1.8 0M452.4 104.4a0.9 0.9 0 1 0 1.8 0a0.9 0.9 0 1 0 -1.8 0M481.9 139.4a0.9 0.9 0 1 0 1.8 0a0.9 0.9 0 1 0 -1.8 0M482.6 140.6a0.9 0.9 0 1 0 1.8 0a0.9 0.9 0 1 0 -1.8 0M447.5 99.5a0.9 0.9 0 1 0 1.8 0a0.9 0.9 0 1 0 -1.8 0M477.7 125.1a0.9 0.9 0 1 0 1.8 0a0.9 0.9 0 1 0 -1.8 0M483.1 137.5a0.9 0.9 0 1 0 1.8 0a0.9 0.9 0 1 0 -1.8 0M448.4 114.8a0.9 0.9 0 1 0 1.8 0a0.9 0.9 0 1 0 -1.8 0M478.1 149.8a0.9 0.9 0 1 0 1.8 0a0.9 0.9 0 1 0 -1.8 0M445.3 101.8a0.9 0.9 0 1 0 1.8 0a0.9 0.9 0 1 0 -1.8 0M446.9 102.5a0.9 0.9 0 1 0 1.8 0a0.9 0.9 0 1 0 -1.8 0" fill="#1BB6EC"/><polygon points="461.3,121.6 472,119.3 477.9,125.2 479.1,131.1 474.4,137 470.8,141.8 469.6,148.9 468.4,158.4 463.7,158.4 460.1,151.2 456.6,139.4 455.4,129.9" fill="#8D6AD8" /><path d="M456.4 142a0.9 0.9 0 1 0 1.8 0a0.9 0.9 0 1 0 -1.8 0M462.5 154a0.9 0.9 0 1 0 1.8 0a0.9 0.9 0 1 0 -1.8 0M453.6 138.2a0.9 0.9 0 1 0 1.8 0a0.9 0.9 0 1 0 -1.8 0M465.9 158.9a0.9 0.9 0 1 0 1.8 0a0.9 0.9 0 1 0 -1.8 0M458.5 149.7a0.9 0.9 0 1 0 1.8 0a0.9 0.9 0 1 0 -1.8 0M455.8 139.1a0.9 0.9 0 1 0 1.8 0a0.9 0.9 0 1 0 -1.8 0M457.8 139.8a0.9 0.9 0 1 0 1.8 0a0.9 0.9 0 1 0 -1.8 0M455.4 143.3a0.9 0.9 0 1 0 1.8 0a0.9 0.9 0 1 0 -1.8 0M465.2 157.7a0.9 0.9 0 1 0 1.8 0a0.9 0.9 0 1 0 -1.8 0M457 139a0.9 0.9 0 1 0 1.8 0a0.9 0.9 0 1 0 -1.8 0M453.6 129.2a0.9 0.9 0 1 0 1.8 0a0.9 0.9 0 1 0 -1.8 0M462.6 158.9a0.9 0.9 0 1 0 1.8 0a0.9 0.9 0 1 0 -1.8 0M462.8 158.1a0.9 0.9 0 1 0 1.8 0a0.9 0.9 0 1 0 -1.8 0M460.5 157a0.9 0.9 0 1 0 1.8 0a0.9 0.9 0 1 0 -1.8 0M456.8 140.1a0.9 0.9 0 1 0 1.8 0a0.9 0.9 0 1 0 -1.8 0M467.6 160.6a0.9 0.9 0 1 0 1.8 0a0.9 0.9 0 1 0 -1.8 0M465.3 158.5a0.9 0.9 0 1 0 1.8 0a0.9 0.9 0 1 0 -1.8 0M466.4 159.4a0.9 0.9 0 1 0 1.8 0a0.9 0.9 0 1 0 -1.8 0M457.2 135a0.9 0.9 0 1 0 1.8 0a0.9 0.9 0 1 0 -1.8 0M462.2 154.5a0.9 0.9 0 1 0 1.8 0a0.9 0.9 0 1 0 -1.8 0" fill="#8D6AD8"/><polygon points="473.2,124 480.3,128.7 482.1,135.8 482.1,145.3 480.3,153.6 476.7,159.5 473.2,161.9 467.3,161.3 463.1,156.6 462.5,150.1 468.4,141.8 473.2,134.7" fill="#EE7EEE" /><path d="M475 160.5a0.9 0.9 0 1 0 1.8 0a0.9 0.9 0 1 0 -1.8 0M471.7 162.4a0.9 0.9 0 1 0 1.8 0a0.9 0.9 0 1 0 -1.8 0M481.2 140.8a0.9 0.9 0 1 0 1.8 0a0.9 0.9 0 1 0 -1.8 0M478.6 152.9a0.9 0.9 0 1 0 1.8 0a0.9 0.9 0 1 0 -1.8 0M475.6 162.4a0.9 0.9 0 1 0 1.8 0a0.9 0.9 0 1 0 -1.8 0M482 134.2a0.9 0.9 0 1 0 1.8 0a0.9 0.9 0 1 0 -1.8 0M476.3 157.4a0.9 0.9 0 1 0 1.8 0a0.9 0.9 0 1 0 -1.8 0M481.4 153.8a0.9 0.9 0 1 0 1.8 0a0.9 0.9 0 1 0 -1.8 0M481 150.6a0.9 0.9 0 1 0 1.8 0a0.9 0.9 0 1 0 -1.8 0M479.7 129.7a0.9 0.9 0 1 0 1.8 0a0.9 0.9 0 1 0 -1.8 0M480.5 152.6a0.9 0.9 0 1 0 1.8 0a0.9 0.9 0 1 0 -1.8 0M481 143.8a0.9 0.9 0 1 0 1.8 0a0.9 0.9 0 1 0 -1.8 0M476.1 160.3a0.9 0.9 0 1 0 1.8 0a0.9 0.9 0 1 0 -1.8 0M480.9 143.4a0.9 0.9 0 1 0 1.8 0a0.9 0.9 0 1 0 -1.8 0M465.4 160.7a0.9 0.9 0 1 0 1.8 0a0.9 0.9 0 1 0 -1.8 0M473.4 161.1a0.9 0.9 0 1 0 1.8 0a0.9 0.9 0 1 0 -1.8 0M474.1 138.2a0.9 0.9 0 1 0 1.8 0a0.9 0.9 0 1 0 -1.8 0M479.9 147a0.9 0.9 0 1 0 1.8 0a0.9 0.9 0 1 0 -1.8 0M482.3 142.1a0.9 0.9 0 1 0 1.8 0a0.9 0.9 0 1 0 -1.8 0M465.1 149.4a0.9 0.9 0 1 0 1.8 0a0.9 0.9 0 1 0 -1.8 0M482 133.2a0.9 0.9 0 1 0 1.8 0a0.9 0.9 0 1 0 -1.8 0M479.6 148.8a0.9 0.9 0 1 0 1.8 0a0.9 0.9 0 1 0 -1.8 0M472.5 160.3a0.9 0.9 0 1 0 1.8 0a0.9 0.9 0 1 0 -1.8 0M481.8 140.1a0.9 0.9 0 1 0 1.8 0a0.9 0.9 0 1 0 -1.8 0M470.2 163.1a0.9 0.9 0 1 0 1.8 0a0.9 0.9 0 1 0 -1.8 0M469.2 162a0.9 0.9 0 1 0 1.8 0a0.9 0.9 0 1 0 -1.8 0M480.6 136.5a0.9 0.9 0 1 0 1.8 0a0.9 0.9 0 1 0 -1.8 0M478.8 154.6a0.9 0.9 0 1 0 1.8 0a0.9 0.9 0 1 0 -1.8 0M484.6 137.5a0.9 0.9 0 1 0 1.8 0a0.9 0.9 0 1 0 -1.8 0M467.1 160.6a0.9 0.9 0 1 0 1.8 0a0.9 0.9 0 1 0 -1.8 0" fill="#EE7EEE"/><path d="M461.1 130.7a0.6 0.6 0 1 0 1.2 0a0.6 0.6 0 1 0 -1.2 0M468.9 147a0.6 0.6 0 1 0 1.2 0a0.6 0.6 0 1 0 -1.2 0M457.7 124.3a0.6 0.6 0 1 0 1.2 0a0.6 0.6 0 1 0 -1.2 0M470.8 160.8a0.6 0.6 0 1 0 1.2 0a0.6 0.6 0 1 0 -1.2 0M474 140.2a0.6 0.6 0 1 0 1.2 0a0.6 0.6 0 1 0 -1.2 0M457.7 119.8a0.6 0.6 0 1 0 1.2 0a0.6 0.6 0 1 0 -1.2 0M459.3 130.5a0.6 0.6 0 1 0 1.2 0a0.6 0.6 0 1 0 -1.2 0M473.9 150.7a0.6 0.6 0 1 0 1.2 0a0.6 0.6 0 1 0 -1.2 0M473.2 155.7a0.6 0.6 0 1 0 1.2 0a0.6 0.6 0 1 0 -1.2 0M465.4 120.5a0.6 0.6 0 1 0 1.2 0a0.6 0.6 0 1 0 -1.2 0M463.7 107a0.6 0.6 0 1 0 1.2 0a0.6 0.6 0 1 0 -1.2 0M471.3 161.1a0.6 0.6 0 1 0 1.2 0a0.6 0.6 0 1 0 -1.2 0M464.3 143.7a0.6 0.6 0 1 0 1.2 0a0.6 0.6 0 1 0 -1.2 0M479.5 138a0.6 0.6 0 1 0 1.2 0a0.6 0.6 0 1 0 -1.2 0" fill="#ffffff"/><circle cx="457.2" cy="105.6" r="1" fill="#8B4A36"/><circle cx="460.7" cy="107.4" r="1" fill="#8B4A36"/><path d="M67 33L90.5 33Q75.2 43.1 67 62Z" fill="#F1E7F0" stroke="#E6D6E4" stroke-width="0.4"/><path d="M197.4 33L182.4 33Q192.2 39 197.4 50Z" fill="#F1E7F0" stroke="#E6D6E4" stroke-width="0.4"/><path d="M67 159.5L107 159.5Q81 147.9 67 126.5Z" fill="#F1E7F0" stroke="#E6D6E4" stroke-width="0.4"/><path d="M197.4 159.5L167.4 159.5Q186.9 147.9 197.4 126.5Z" fill="#F1E7F0" stroke="#E6D6E4" stroke-width="0.4"/><defs><clipPath id="cA"><polygon points="103.8,49 107.4,47 113.4,45.4 121.8,44.4 129.7,43.7 136.8,43.1 141.6,42.2 144.1,41 149.8,38.7 158.7,35.5 165.3,34.6 169.5,36 173.4,38.9 177,43.1 177.9,46.1 176.1,47.9 177.9,50.6 183.3,54.2 187.2,57.5 189.6,60.5 191.7,64.6 193.5,70 195,75.8 196.2,81.8 196.5,87.3 195.9,92.3 194.7,95.6 192.9,97.2 192.2,99.1 192.5,101.6 191.3,104.9 188.5,109.1 186.3,114.2 184.5,120.2 182.4,125.6 180,130.4 177,135.2 173.4,140 169.2,144.2 164.4,147.8 159,150.8 153,153.2 147,155.3 141,157.1 135,158 129.1,158 123.1,157.1 117,155.3 111.6,153.2 106.8,150.8 102.7,147.8 99,144.2 95.4,141.2 91.8,138.8 88.2,136.4 84.6,134 81.7,131.6 79.2,129.2 77.5,125 76.6,119 76.1,110 76.1,98 76.5,89.6 77.2,84.8 78.9,80.9 81.5,77.9 84.6,76.1 88.2,75.5 91.8,76.4 95.4,78.8 97.8,80.8 99,82.6 99.3,79.7 98.7,71.9 98.7,65 99.3,59 100.2,54.5 101.4,51.5"/></clipPath></defs><polygon points="103.8,49 107.4,47 113.4,45.4 121.8,44.4 129.7,43.7 136.8,43.1 141.6,42.2 144.1,41 149.8,38.7 158.7,35.5 165.3,34.6 169.5,36 173.4,38.9 177,43.1 177.9,46.1 176.1,47.9 177.9,50.6 183.3,54.2 187.2,57.5 189.6,60.5 191.7,64.6 193.5,70 195,75.8 196.2,81.8 196.5,87.3 195.9,92.3 194.7,95.6 192.9,97.2 192.2,99.1 192.5,101.6 191.3,104.9 188.5,109.1 186.3,114.2 184.5,120.2 182.4,125.6 180,130.4 177,135.2 173.4,140 169.2,144.2 164.4,147.8 159,150.8 153,153.2 147,155.3 141,157.1 135,158 129.1,158 123.1,157.1 117,155.3 111.6,153.2 106.8,150.8 102.7,147.8 99,144.2 95.4,141.2 91.8,138.8 88.2,136.4 84.6,134 81.7,131.6 79.2,129.2 77.5,125 76.6,119 76.1,110 76.1,98 76.5,89.6 77.2,84.8 78.9,80.9 81.5,77.9 84.6,76.1 88.2,75.5 91.8,76.4 95.4,78.8 97.8,80.8 99,82.6 99.3,79.7 98.7,71.9 98.7,65 99.3,59 100.2,54.5 101.4,51.5" fill="#CDC2CE" /><defs><filter id="blA" x="-10%" y="-10%" width="120%" height="120%"><feGaussianBlur stdDeviation="1.6"/></filter></defs><defs><filter id="blB" x="-5%" y="-5%" width="110%" height="110%"><feGaussianBlur stdDeviation="0.7"/></filter></defs><defs><filter id="blS" x="-5%" y="-5%" width="110%" height="110%"><feGaussianBlur stdDeviation="1.1"/></filter></defs><defs><filter id="noiseS" x="0" y="0" width="100%" height="100%"><feTurbulence type="fractalNoise" baseFrequency="0.9" numOctaves="1" seed="7"/><feColorMatrix type="matrix" values="0 0 0 0 1  0 0 0 0 1  0 0 0 0 1  0 0 0 -2.4 1.45"/></filter></defs><defs><filter id="noiseA" x="0" y="0" width="100%" height="100%"><feTurbulence type="fractalNoise" baseFrequency="0.55" numOctaves="2" seed="3"/><feColorMatrix type="matrix" values="0 0 0 0 1  0 0 0 0 1  0 0 0 0 1  0 0 0 -2.2 1.35"/></filter></defs><g clip-path="url(#cA)"><g filter="url(#blA)"><polygon points="76.8,87.2 80.4,78.8 87.6,75.2 96,77.6 102,83.6 104.4,94.4 105.6,111.2 104.4,125.6 99.6,131.6 90,132.8 80.4,128 76.6,116" fill="#A1A0CD" /><polygon points="100.8,53.6 108,46.9 128.4,45.2 142.8,48.8 148.8,57.2 148.8,68 142.8,72.8 126,74 111.6,76.4 102,78.8 99.6,68" fill="#A6A4CD" /><polygon points="105.6,80 126,77.6 142.8,80 145.2,92 142.8,104 138,113.6 135.6,128 130.8,142.4 123.6,144.8 118.8,132.8 110.4,123.2 105.6,104" fill="#AAA7CD" /></g><path d="M99.6 81.2 L102 94.4 L104.4 111.2 L108 128 L114 137.6 L117.6 152" fill="none" stroke="#9C8C88" stroke-width="1" stroke-linejoin="round" stroke-linecap="round" /><path d="M138 104 L157.2 102.8 L174 101.6 L195.6 95.6" fill="none" stroke="#8E7F80" stroke-width="1.2" stroke-linejoin="round" stroke-linecap="round" /><path d="M178.8 45.2 L186 56 L194.4 70.4" fill="none" stroke="#8A7068" stroke-width="1.3" stroke-linejoin="round" stroke-linecap="round" /><path d="M145.2 40.4 L162 34.4" fill="none" stroke="#907870" stroke-width="1.3" stroke-linejoin="round" stroke-linecap="round" /><path d="M126 89.6 L138 88.6" fill="none" stroke="#F4F0F4" stroke-width="1.6" stroke-linejoin="round" stroke-linecap="round" /><path d="M157.2 76.4 L166.8 78.8 L178.8 78.1" fill="none" stroke="#F0ECF0" stroke-width="1.4" stroke-linejoin="round" stroke-linecap="round" /><path d="M138 104.5 L157.2 103.3 L174 102.1 L195.6 96.3" fill="none" stroke="#F2EEF2" stroke-width="1.0" stroke-linejoin="round" stroke-linecap="round" /><path d="M102 78.1 L126 75.2 L145.2 73.3" fill="none" stroke="#9890A8" stroke-width="0.7" stroke-linejoin="round" stroke-linecap="round" /><path d="M114 154.4 L128.4 156.8 L138 157.3" fill="none" stroke="#B8A8B0" stroke-width="0.8" stroke-linejoin="round" stroke-linecap="round" /><path d="M90 135.2 L97.2 142.4 L104.4 149.6" fill="none" stroke="#9A8A8A" stroke-width="1.0" stroke-linejoin="round" stroke-linecap="round" /><rect x="70" y="30" width="130" height="132" filter="url(#noiseA)" opacity="0.2"/></g><path d="M214 32.9L230.5 32.9Q219.8 38.5 214 48.9Z" fill="#F1E7F0" stroke="#E6D6E4" stroke-width="0.4"/><path d="M335.5 32.9L328.5 32.9Q333.1 36 335.5 41.9Z" fill="#F1E7F0" stroke="#E6D6E4" stroke-width="0.4"/><path d="M214 159.5L236.5 159.5Q221.9 151.4 214 136.5Z" fill="#F1E7F0" stroke="#E6D6E4" stroke-width="0.4"/><path d="M335.5 159.5L302.5 159.5Q323.9 148.7 335.5 128.5Z" fill="#F1E7F0" stroke="#E6D6E4" stroke-width="0.4"/><defs><clipPath id="cK"><polygon points="239.4,56.5 239.8,51 241.2,47.5 245.3,45.3 251.3,44.4 273,43.6 284.7,41.8 300.3,33.3 308.1,35.2 315.3,43.4 311.1,47.2 317.3,49.8 326.6,58.9 330.3,64 333.8,74.4 335,88.4 333.2,94.1 329,100.5 327.8,106.8 321.9,116.9 314.7,125.5 296.8,147.2 284.9,156.2 268.1,160 252.4,157.5 238.2,147.2 228.6,138.2 221.5,133.4 217.9,129.3 216,124.5 215.5,119.1 215.5,106.4 216.7,93.5 217.9,86.5 219.7,80.2 222.7,76.4 226.3,75.5 234.6,76.1 239.4,75.5"/></clipPath></defs><g clip-path="url(#cK)"><polygon points="239.4,56.5 239.8,51 241.2,47.5 245.3,45.3 251.3,44.4 273,43.6 284.7,41.8 300.3,33.3 308.1,35.2 315.3,43.4 311.1,47.2 317.3,49.8 326.6,58.9 330.3,64 333.8,74.4 335,88.4 333.2,94.1 329,100.5 327.8,106.8 321.9,116.9 314.7,125.5 296.8,147.2 284.9,156.2 268.1,160 252.4,157.5 238.2,147.2 228.6,138.2 221.5,133.4 217.9,129.3 216,124.5 215.5,119.1 215.5,106.4 216.7,93.5 217.9,86.5 219.7,80.2 222.7,76.4 226.3,75.5 234.6,76.1 239.4,75.5" fill="#D7A3E2" /><polygon points="280.9,40.6 302.2,33.5 318.7,44.2 328.2,56 335.3,70.2 318.7,67.8 304.5,65.5 297.5,77.3 295.1,93.8 280.9,100.9 288,82 291.5,65.5 288,51.3" fill="#AE8ED8" /><polygon points="280.9,105.6 297.5,105.6 292.7,129.3 285.6,148.2 278.5,162.4 266.7,162.4 271.5,141.1 278.5,124.5" fill="#AE8ED8" /><polygon points="299.8,41.8 311.6,37.1 318.7,45.4 309.3,51.3" fill="#A084D2" /><polygon points="280.9,43 295.1,48.9 299.8,63.1 298.6,77.3 297.5,91.5 290.4,105.6 280.9,110.4 270.3,104.5 265.5,91.5 269.1,84.4 276.2,77.3 280.9,65.5 284.5,56" fill="#4FB6D8" /><path d="M283.3 46.5 L302.2 49.9 L312.8 52.2 L324.6 58.8" fill="none" stroke="#4FB6D8" stroke-width="1.8" stroke-linejoin="round" stroke-linecap="round" /><polygon points="224.2,135.2 240.7,135.2 257.3,129.3 271.5,122.2 280.9,115.1 285.6,122.2 276.2,136.4 269.1,148.2 264.4,160 252.5,160 245.5,150.5 236,143.5 226.5,141.1" fill="#4FB6D8" /><polygon points="240.7,145.8 252.5,137.5 265.5,135.2 270.3,141.1 265.5,157.6 254.9,160 245.5,154.1" fill="#B596DA" /><path d="M280.9 103.3 L299.8 100.9 L316.4 98.5 L334.1 92.6" fill="none" stroke="#4FB6D8" stroke-width="2.2" stroke-linejoin="round" stroke-linecap="round" /><path d="M280.9 41.3 L303.4 36.6" fill="none" stroke="#4FB6D8" stroke-width="1.6" stroke-linejoin="round" stroke-linecap="round" /><path d="M318.7 47.7 L328.2 58.4 L334.1 73.7" fill="none" stroke="#4FB6D8" stroke-width="1.3" stroke-linejoin="round" stroke-linecap="round" /><polygon points="239.5,52.5 247.8,44.7 285.6,44.7 288,56 283.3,67.8 278.5,73.7 273.8,82 270.3,89.1 278.5,108 240.7,76.1" fill="#C84A5A" /><polygon points="214.7,84.4 221.8,75.4 233.6,74.4 238.4,77.3 252.5,89.1 269.1,100.9 280.9,111.5 277.4,117.5 266.7,124.5 259.6,129.3 250.2,131.6 238.4,134 228.9,134 219.5,126.9 214.7,115.1 213.5,100.9" fill="#C84A5A" /><path d="M237.2 74.9 L252.5 87.9 L266.7 98.5 L280.9 111.5" fill="none" stroke="#A47872" stroke-width="3.3" stroke-linejoin="round" stroke-linecap="round" /><path d="M245.5 46.1 L269.1 44.2 L285.6 45.4" fill="none" stroke="#A47872" stroke-width="1.5" stroke-linejoin="round" stroke-linecap="round" /><path d="M240.3 53.6 L238.8 65.5 L239.5 76.1" fill="none" stroke="#A47872" stroke-width="2.5" stroke-linejoin="round" stroke-linecap="round" /><path d="M219.5 129.3 L228.9 136.4 L240.7 139.2" fill="none" stroke="#A47872" stroke-width="2.5" stroke-linejoin="round" stroke-linecap="round" /><path d="M266.7 87.2 L277.4 85.8" fill="none" stroke="#ffffff" stroke-width="1.6" stroke-linejoin="round" stroke-linecap="round" /><path d="M271.8 98.4a1.1 1.1 0 1 0 2.2 0a1.1 1.1 0 1 0 -2.2 0M289.7 70.4a1.1 1.1 0 1 0 2.2 0a1.1 1.1 0 1 0 -2.2 0M282 79.6a1.1 1.1 0 1 0 2.2 0a1.1 1.1 0 1 0 -2.2 0M286.5 95.6a1.1 1.1 0 1 0 2.2 0a1.1 1.1 0 1 0 -2.2 0M291.7 78.8a1.1 1.1 0 1 0 2.2 0a1.1 1.1 0 1 0 -2.2 0M280.6 92.5a1.1 1.1 0 1 0 2.2 0a1.1 1.1 0 1 0 -2.2 0M294.6 76.4a1.1 1.1 0 1 0 2.2 0a1.1 1.1 0 1 0 -2.2 0M274.1 78.3a1.1 1.1 0 1 0 2.2 0a1.1 1.1 0 1 0 -2.2 0M280.4 81.8a1.1 1.1 0 1 0 2.2 0a1.1 1.1 0 1 0 -2.2 0M274.2 80.1a1.1 1.1 0 1 0 2.2 0a1.1 1.1 0 1 0 -2.2 0M291.7 84.7a1.1 1.1 0 1 0 2.2 0a1.1 1.1 0 1 0 -2.2 0M286.2 67.2a1.1 1.1 0 1 0 2.2 0a1.1 1.1 0 1 0 -2.2 0M288.5 92a1.1 1.1 0 1 0 2.2 0a1.1 1.1 0 1 0 -2.2 0M294.6 78.3a1.1 1.1 0 1 0 2.2 0a1.1 1.1 0 1 0 -2.2 0M291.5 90.1a1.1 1.1 0 1 0 2.2 0a1.1 1.1 0 1 0 -2.2 0M276.6 86.1a1.1 1.1 0 1 0 2.2 0a1.1 1.1 0 1 0 -2.2 0M282.3 86.2a1.1 1.1 0 1 0 2.2 0a1.1 1.1 0 1 0 -2.2 0M290.6 77.9a1.1 1.1 0 1 0 2.2 0a1.1 1.1 0 1 0 -2.2 0M272.9 84.3a1.1 1.1 0 1 0 2.2 0a1.1 1.1 0 1 0 -2.2 0M287.9 90.2a1.1 1.1 0 1 0 2.2 0a1.1 1.1 0 1 0 -2.2 0M278.6 79.1a1.1 1.1 0 1 0 2.2 0a1.1 1.1 0 1 0 -2.2 0M282.4 95.2a1.1 1.1 0 1 0 2.2 0a1.1 1.1 0 1 0 -2.2 0M282.8 77a1.1 1.1 0 1 0 2.2 0a1.1 1.1 0 1 0 -2.2 0M281.9 59.8a1.1 1.1 0 1 0 2.2 0a1.1 1.1 0 1 0 -2.2 0" fill="#C84A5A"/><polygon points="286.8,61.9 291.5,60.7 293.9,72.5 289.2,77.3 286.1,70.2" fill="#C84A5A" /><path d="M279.2 66.4a1.1 1.1 0 1 0 2.2 0a1.1 1.1 0 1 0 -2.2 0M289.8 83.9a1.1 1.1 0 1 0 2.2 0a1.1 1.1 0 1 0 -2.2 0M292.4 69.3a1.1 1.1 0 1 0 2.2 0a1.1 1.1 0 1 0 -2.2 0M282.6 103.4a1.1 1.1 0 1 0 2.2 0a1.1 1.1 0 1 0 -2.2 0M284.4 80.1a1.1 1.1 0 1 0 2.2 0a1.1 1.1 0 1 0 -2.2 0M275.6 84.3a1.1 1.1 0 1 0 2.2 0a1.1 1.1 0 1 0 -2.2 0M290.9 82.9a1.1 1.1 0 1 0 2.2 0a1.1 1.1 0 1 0 -2.2 0M283.9 78.5a1.1 1.1 0 1 0 2.2 0a1.1 1.1 0 1 0 -2.2 0M284.2 67.8a1.1 1.1 0 1 0 2.2 0a1.1 1.1 0 1 0 -2.2 0M282.3 81.3a1.1 1.1 0 1 0 2.2 0a1.1 1.1 0 1 0 -2.2 0" fill="#AE8ED8"/><path d="M261.4 128a1.1 1.1 0 1 0 2.2 0a1.1 1.1 0 1 0 -2.2 0M265.3 134.6a1.1 1.1 0 1 0 2.2 0a1.1 1.1 0 1 0 -2.2 0M266.8 130.6a1.1 1.1 0 1 0 2.2 0a1.1 1.1 0 1 0 -2.2 0M254.4 125.2a1.1 1.1 0 1 0 2.2 0a1.1 1.1 0 1 0 -2.2 0M257.6 133.6a1.1 1.1 0 1 0 2.2 0a1.1 1.1 0 1 0 -2.2 0M272.1 138.7a1.1 1.1 0 1 0 2.2 0a1.1 1.1 0 1 0 -2.2 0M270.8 139.1a1.1 1.1 0 1 0 2.2 0a1.1 1.1 0 1 0 -2.2 0M259.2 139.7a1.1 1.1 0 1 0 2.2 0a1.1 1.1 0 1 0 -2.2 0M268.1 121.8a1.1 1.1 0 1 0 2.2 0a1.1 1.1 0 1 0 -2.2 0M269.9 125.7a1.1 1.1 0 1 0 2.2 0a1.1 1.1 0 1 0 -2.2 0M256.1 134.6a1.1 1.1 0 1 0 2.2 0a1.1 1.1 0 1 0 -2.2 0M257.2 132.3a1.1 1.1 0 1 0 2.2 0a1.1 1.1 0 1 0 -2.2 0M257.4 126.3a1.1 1.1 0 1 0 2.2 0a1.1 1.1 0 1 0 -2.2 0M268.9 130.6a1.1 1.1 0 1 0 2.2 0a1.1 1.1 0 1 0 -2.2 0M260.7 131a1.1 1.1 0 1 0 2.2 0a1.1 1.1 0 1 0 -2.2 0M262.8 124.3a1.1 1.1 0 1 0 2.2 0a1.1 1.1 0 1 0 -2.2 0M256.1 141.1a1.1 1.1 0 1 0 2.2 0a1.1 1.1 0 1 0 -2.2 0M264.7 124.8a1.1 1.1 0 1 0 2.2 0a1.1 1.1 0 1 0 -2.2 0M266.7 139.1a1.1 1.1 0 1 0 2.2 0a1.1 1.1 0 1 0 -2.2 0M256.9 136.8a1.1 1.1 0 1 0 2.2 0a1.1 1.1 0 1 0 -2.2 0M257.2 136.5a1.1 1.1 0 1 0 2.2 0a1.1 1.1 0 1 0 -2.2 0M268.2 132.7a1.1 1.1 0 1 0 2.2 0a1.1 1.1 0 1 0 -2.2 0" fill="#C84A5A"/><path d="M250.3 128.6a0.9 0.9 0 1 0 1.8 0a0.9 0.9 0 1 0 -1.8 0M265.3 115.6a0.9 0.9 0 1 0 1.8 0a0.9 0.9 0 1 0 -1.8 0M250.4 119.3a0.9 0.9 0 1 0 1.8 0a0.9 0.9 0 1 0 -1.8 0M254.8 117.2a0.9 0.9 0 1 0 1.8 0a0.9 0.9 0 1 0 -1.8 0M252.9 118.8a0.9 0.9 0 1 0 1.8 0a0.9 0.9 0 1 0 -1.8 0M246.1 109.4a0.9 0.9 0 1 0 1.8 0a0.9 0.9 0 1 0 -1.8 0M252.5 125.3a0.9 0.9 0 1 0 1.8 0a0.9 0.9 0 1 0 -1.8 0M252.6 127.6a0.9 0.9 0 1 0 1.8 0a0.9 0.9 0 1 0 -1.8 0M263.9 112.7a0.9 0.9 0 1 0 1.8 0a0.9 0.9 0 1 0 -1.8 0M251.1 101.1a0.9 0.9 0 1 0 1.8 0a0.9 0.9 0 1 0 -1.8 0M267.4 102a0.9 0.9 0 1 0 1.8 0a0.9 0.9 0 1 0 -1.8 0M265.9 128.2a0.9 0.9 0 1 0 1.8 0a0.9 0.9 0 1 0 -1.8 0M259.4 105.8a0.9 0.9 0 1 0 1.8 0a0.9 0.9 0 1 0 -1.8 0M267.1 128.5a0.9 0.9 0 1 0 1.8 0a0.9 0.9 0 1 0 -1.8 0M262.9 115.3a0.9 0.9 0 1 0 1.8 0a0.9 0.9 0 1 0 -1.8 0M254.4 110.7a0.9 0.9 0 1 0 1.8 0a0.9 0.9 0 1 0 -1.8 0" fill="#4FB6D8"/><path d="M305.8 92.5a0.8 0.8 0 1 0 1.6 0a0.8 0.8 0 1 0 -1.6 0M313.3 73.3a0.8 0.8 0 1 0 1.6 0a0.8 0.8 0 1 0 -1.6 0M302.5 92.2a0.8 0.8 0 1 0 1.6 0a0.8 0.8 0 1 0 -1.6 0M308.8 85.5a0.8 0.8 0 1 0 1.6 0a0.8 0.8 0 1 0 -1.6 0M309.8 100.5a0.8 0.8 0 1 0 1.6 0a0.8 0.8 0 1 0 -1.6 0M328.8 66.2a0.8 0.8 0 1 0 1.6 0a0.8 0.8 0 1 0 -1.6 0M305.7 78.6a0.8 0.8 0 1 0 1.6 0a0.8 0.8 0 1 0 -1.6 0M331.7 96.9a0.8 0.8 0 1 0 1.6 0a0.8 0.8 0 1 0 -1.6 0M310.2 74a0.8 0.8 0 1 0 1.6 0a0.8 0.8 0 1 0 -1.6 0M321.3 99.1a0.8 0.8 0 1 0 1.6 0a0.8 0.8 0 1 0 -1.6 0" fill="#ffffff"/><path d="M328.5 68.3a0.9 0.9 0 1 0 1.8 0a0.9 0.9 0 1 0 -1.8 0M325.9 85.4a0.9 0.9 0 1 0 1.8 0a0.9 0.9 0 1 0 -1.8 0M305.2 100.2a0.9 0.9 0 1 0 1.8 0a0.9 0.9 0 1 0 -1.8 0M292.2 87.3a0.9 0.9 0 1 0 1.8 0a0.9 0.9 0 1 0 -1.8 0M327.4 61.8a0.9 0.9 0 1 0 1.8 0a0.9 0.9 0 1 0 -1.8 0M319.5 81.1a0.9 0.9 0 1 0 1.8 0a0.9 0.9 0 1 0 -1.8 0M323.7 69.5a0.9 0.9 0 1 0 1.8 0a0.9 0.9 0 1 0 -1.8 0M297.7 65.7a0.9 0.9 0 1 0 1.8 0a0.9 0.9 0 1 0 -1.8 0M325.1 81.3a0.9 0.9 0 1 0 1.8 0a0.9 0.9 0 1 0 -1.8 0M329.6 95.3a0.9 0.9 0 1 0 1.8 0a0.9 0.9 0 1 0 -1.8 0" fill="#4FB6D8"/><rect x="214" y="32" width="122" height="129" filter="url(#noiseS)" opacity="0.25"/></g><path d="M10.2 258.8L31.7 258.8Q17.7 266.3 10.2 280.3Z" fill="#F1E7F0" stroke="#E6D6E4" stroke-width="0.4"/><path d="M183.6 258.8L170.6 258.8Q179 263.4 183.6 271.8Z" fill="#F1E7F0" stroke="#E6D6E4" stroke-width="0.4"/><path d="M10.2 426.8L57.2 426.8Q26.6 417 10.2 398.8Z" fill="#F1E7F0" stroke="#E6D6E4" stroke-width="0.4"/><path d="M183.6 426.8L138.6 426.8Q167.8 412.4 183.6 385.8Z" fill="#F1E7F0" stroke="#E6D6E4" stroke-width="0.4"/><defs><clipPath id="cB"><polygon points="46.5,289.9 47,282.6 49.1,277.8 55,274.9 63.8,273.7 95.1,272.5 112,270.1 134.7,258.6 145.9,261.2 156.3,272.3 150.2,277.4 159.2,280.9 172.7,293.2 178.1,300 183.1,314.1 184.8,333.1 182.2,340.8 176.2,349.3 174.4,357.9 165.8,371.6 155.4,383.2 129.5,412.5 112.4,424.7 88,429.8 65.3,426.4 44.8,412.5 30.9,400.4 20.5,393.8 15.4,388.4 12.6,381.9 11.9,374.5 11.9,357.4 13.6,339.9 15.4,330.5 18,321.9 22.3,316.8 27.5,315.6 39.6,316.5 46.5,315.6"/></clipPath></defs><g clip-path="url(#cB)"><polygon points="46.5,289.9 47,282.6 49.1,277.8 55,274.9 63.8,273.7 95.1,272.5 112,270.1 134.7,258.6 145.9,261.2 156.3,272.3 150.2,277.4 159.2,280.9 172.7,293.2 178.1,300 183.1,314.1 184.8,333.1 182.2,340.8 176.2,349.3 174.4,357.9 165.8,371.6 155.4,383.2 129.5,412.5 112.4,424.7 88,429.8 65.3,426.4 44.8,412.5 30.9,400.4 20.5,393.8 15.4,388.4 12.6,381.9 11.9,374.5 11.9,357.4 13.6,339.9 15.4,330.5 18,321.9 22.3,316.8 27.5,315.6 39.6,316.5 46.5,315.6" fill="#6FC4A6" /><g filter="url(#blB)"><polygon points="42,307.2 116,307.2 119.4,357.6 55.5,357.6 42,327.4" fill="#E8803F" /><polygon points="139.5,293.7 156.4,290.4 169.8,300.5 183.3,317.3 183.3,347.5 166.5,350.9 146.3,347.5 132.8,334.1 129.5,317.3" fill="#4A94BE" /><path d="M153 280.3 L169.8 297.1 L179.9 317.3 L185 337.5 L183.3 350.9" fill="none" stroke="#5E4FA2" stroke-width="3.5" stroke-linejoin="round" stroke-linecap="round" /><polygon points="134.5,259.4 142.9,260.8 149,270.9 144.6,276.2 137.9,270.9" fill="#5E4FA2" /><polygon points="119.4,357.6 139.5,350.9 166.5,350.9 176.5,354.3 163.1,381.2 149.6,398 129.5,404.7 116,398 112.6,377.8" fill="#5A4FA0" /><polygon points="129.5,361 153,357.6 156.4,374.5 139.5,384.5 126.1,377.8" fill="#3A78BA" /></g><path d="M85.7 330.7 L95.8 330.7" fill="none" stroke="#fff" stroke-width="1.5" stroke-linejoin="round" stroke-linecap="round" /><path d="M149.6 319 L169.8 322.3" fill="none" stroke="#fff" stroke-width="1.5" stroke-linejoin="round" stroke-linecap="round" /><path d="M132.8 357.6 L153 361" fill="none" stroke="#fff" stroke-width="1.2" stroke-linejoin="round" stroke-linecap="round" /><polygon points="45.4,287 52.1,280.3 72.3,276.9 102.5,275.2 112.6,287 109.3,303.8 102.5,320.6 79,325.7 55.5,322.3 45.4,313.9" fill="#B02C3C" /><polygon points="48.7,303.8 72.3,300.5 99.2,300.5 102.5,317.3 79,322.3 52.1,317.3" fill="#C43E3C" /><polygon points="102.5,276.9 114.3,287 119.4,300.5 116,320.6 105.9,334.1 89.1,335.8 72.3,330.7 85.7,324 102.5,317.3 109.3,300.5" fill="#EE8848" /><polygon points="105.9,300.5 119.4,303.8 122.7,320.6 112.6,327.4 105.9,320.6" fill="#C0303C" /><polygon points="89.1,327.4 105.9,327.4 119.4,324 126.1,337.5 116,350.9 99.2,350.9 85.7,340.8" fill="#D4E69C" /><polygon points="58.8,325.7 89.1,320.6 99.2,335.8 85.7,340.8 65.5,337.5" fill="#F3A050" /><path d="M48.7 278.6 L72.3 276.2 L105.9 274.2 L117.7 274.2 L130.1 279.6 L146.3 284.3" fill="none" stroke="#A81D3F" stroke-width="2.5" stroke-linejoin="round" stroke-linecap="round" /><polygon points="15.1,327.4 21.8,317.3 42,315.6 52.1,327.4 65.5,357.6 72.3,384.5 58.8,394.6 42,404.7 28.5,398 15.1,381.2 11.7,350.9" fill="#CE4A3A" /><polygon points="35.3,344.2 52.1,340.8 62.2,361 65.5,384.5 48.7,387.9 38.6,367.7" fill="#E26A3A" /><path d="M18.5 319 L13.4 337.5 L11.7 361 L16.8 384.5 L28.5 399.7 L42 406.4" fill="none" stroke="#A81D3F" stroke-width="3.5" stroke-linejoin="round" stroke-linecap="round" /><polygon points="42,313.9 55.5,319 72.3,334.1 62.2,347.5 48.7,330.7" fill="#B83040" /><polygon points="58.8,340.8 85.7,347.5 112.6,361 112.6,381.2 105.9,398 82.4,404.7 68.9,394.6 62.2,361" fill="#C53A40" /><polygon points="72.3,391.3 92.5,387.9 102.5,398 89.1,408.1 72.3,404.7" fill="#E8904A" /><path d="M40.3 317.3 L58.8 334.1 L75.6 347.5 L99.2 357.6 L112.6 364.4" fill="none" stroke="#A81D3F" stroke-width="6" stroke-linejoin="round" stroke-linecap="round" /><polygon points="38.6,384.5 62.2,384.5 75.6,394.6 58.8,404.7 42,404.7" fill="#F2B860" /><polygon points="42,404.7 72.3,398 102.5,398 116,411.5 102.5,426.6 72.3,426.6 52.1,418.2" fill="#80CCA2" /><polygon points="70.6,418.2 90.8,418.2 90.8,428.3 70.6,428.3" fill="#F2D070" /><path d="M102.8 395.9a1.3 1.3 0 1 0 2.6 0a1.3 1.3 0 1 0 -2.6 0M66.5 361.1a1.3 1.3 0 1 0 2.6 0a1.3 1.3 0 1 0 -2.6 0M98 387.3a1.3 1.3 0 1 0 2.6 0a1.3 1.3 0 1 0 -2.6 0M91.3 370.1a1.3 1.3 0 1 0 2.6 0a1.3 1.3 0 1 0 -2.6 0M88.7 382.1a1.3 1.3 0 1 0 2.6 0a1.3 1.3 0 1 0 -2.6 0M87.7 364a1.3 1.3 0 1 0 2.6 0a1.3 1.3 0 1 0 -2.6 0M81.6 373.5a1.3 1.3 0 1 0 2.6 0a1.3 1.3 0 1 0 -2.6 0M93.4 397.8a1.3 1.3 0 1 0 2.6 0a1.3 1.3 0 1 0 -2.6 0M102.6 379.6a1.3 1.3 0 1 0 2.6 0a1.3 1.3 0 1 0 -2.6 0M82.2 368.5a1.3 1.3 0 1 0 2.6 0a1.3 1.3 0 1 0 -2.6 0M65.7 358.7a1.3 1.3 0 1 0 2.6 0a1.3 1.3 0 1 0 -2.6 0M83 370.5a1.3 1.3 0 1 0 2.6 0a1.3 1.3 0 1 0 -2.6 0M79.6 393.6a1.3 1.3 0 1 0 2.6 0a1.3 1.3 0 1 0 -2.6 0M85.5 380.3a1.3 1.3 0 1 0 2.6 0a1.3 1.3 0 1 0 -2.6 0" fill="#5E4FA2"/><path d="M78.1 385.2a1.3 1.3 0 1 0 2.6 0a1.3 1.3 0 1 0 -2.6 0M80.8 388.2a1.3 1.3 0 1 0 2.6 0a1.3 1.3 0 1 0 -2.6 0M86.4 411.4a1.3 1.3 0 1 0 2.6 0a1.3 1.3 0 1 0 -2.6 0M91.4 389.4a1.3 1.3 0 1 0 2.6 0a1.3 1.3 0 1 0 -2.6 0M98 406a1.3 1.3 0 1 0 2.6 0a1.3 1.3 0 1 0 -2.6 0M93.2 408.9a1.3 1.3 0 1 0 2.6 0a1.3 1.3 0 1 0 -2.6 0M94.1 405.8a1.3 1.3 0 1 0 2.6 0a1.3 1.3 0 1 0 -2.6 0M81.7 410.9a1.3 1.3 0 1 0 2.6 0a1.3 1.3 0 1 0 -2.6 0M100.1 388.9a1.3 1.3 0 1 0 2.6 0a1.3 1.3 0 1 0 -2.6 0M93.8 403.8a1.3 1.3 0 1 0 2.6 0a1.3 1.3 0 1 0 -2.6 0M84.9 398.8a1.3 1.3 0 1 0 2.6 0a1.3 1.3 0 1 0 -2.6 0M85.8 409.4a1.3 1.3 0 1 0 2.6 0a1.3 1.3 0 1 0 -2.6 0" fill="#C0303C"/><path d="M76.2 297.1a1.2 1.2 0 1 0 2.4 0a1.2 1.2 0 1 0 -2.4 0M68.7 298.1a1.2 1.2 0 1 0 2.4 0a1.2 1.2 0 1 0 -2.4 0M96.3 289.6a1.2 1.2 0 1 0 2.4 0a1.2 1.2 0 1 0 -2.4 0M79.5 298.8a1.2 1.2 0 1 0 2.4 0a1.2 1.2 0 1 0 -2.4 0M87.4 290.1a1.2 1.2 0 1 0 2.4 0a1.2 1.2 0 1 0 -2.4 0M62.1 286.8a1.2 1.2 0 1 0 2.4 0a1.2 1.2 0 1 0 -2.4 0M86.2 283.6a1.2 1.2 0 1 0 2.4 0a1.2 1.2 0 1 0 -2.4 0M96.7 285.7a1.2 1.2 0 1 0 2.4 0a1.2 1.2 0 1 0 -2.4 0M96.9 286.5a1.2 1.2 0 1 0 2.4 0a1.2 1.2 0 1 0 -2.4 0M99.2 294.5a1.2 1.2 0 1 0 2.4 0a1.2 1.2 0 1 0 -2.4 0M76.3 290.7a1.2 1.2 0 1 0 2.4 0a1.2 1.2 0 1 0 -2.4 0M83.8 292.1a1.2 1.2 0 1 0 2.4 0a1.2 1.2 0 1 0 -2.4 0M66.6 284.5a1.2 1.2 0 1 0 2.4 0a1.2 1.2 0 1 0 -2.4 0M76.7 299.1a1.2 1.2 0 1 0 2.4 0a1.2 1.2 0 1 0 -2.4 0" fill="#E06A3A"/><path d="M129.4 288.7a1.3 1.3 0 1 0 2.6 0a1.3 1.3 0 1 0 -2.6 0M134 332.5a1.3 1.3 0 1 0 2.6 0a1.3 1.3 0 1 0 -2.6 0M136.1 296.5a1.3 1.3 0 1 0 2.6 0a1.3 1.3 0 1 0 -2.6 0M132.2 287.6a1.3 1.3 0 1 0 2.6 0a1.3 1.3 0 1 0 -2.6 0M130.1 302a1.3 1.3 0 1 0 2.6 0a1.3 1.3 0 1 0 -2.6 0M120 342.5a1.3 1.3 0 1 0 2.6 0a1.3 1.3 0 1 0 -2.6 0M117.2 318.8a1.3 1.3 0 1 0 2.6 0a1.3 1.3 0 1 0 -2.6 0M134.8 300.1a1.3 1.3 0 1 0 2.6 0a1.3 1.3 0 1 0 -2.6 0M119.7 342.9a1.3 1.3 0 1 0 2.6 0a1.3 1.3 0 1 0 -2.6 0M124.7 331.9a1.3 1.3 0 1 0 2.6 0a1.3 1.3 0 1 0 -2.6 0M115.5 308a1.3 1.3 0 1 0 2.6 0a1.3 1.3 0 1 0 -2.6 0M118.7 328.9a1.3 1.3 0 1 0 2.6 0a1.3 1.3 0 1 0 -2.6 0" fill="#A8DDA0"/><path d="M116.2 349.4a1.2 1.2 0 1 0 2.4 0a1.2 1.2 0 1 0 -2.4 0M115.2 341.8a1.2 1.2 0 1 0 2.4 0a1.2 1.2 0 1 0 -2.4 0M115.2 325.9a1.2 1.2 0 1 0 2.4 0a1.2 1.2 0 1 0 -2.4 0M128.5 322.6a1.2 1.2 0 1 0 2.4 0a1.2 1.2 0 1 0 -2.4 0M117.9 340.5a1.2 1.2 0 1 0 2.4 0a1.2 1.2 0 1 0 -2.4 0" fill="#5E4FA2"/><rect x="10" y="257" width="176" height="174" filter="url(#noiseS)" opacity="0.25"/></g><path d="M105 504.7L120 504.7Q110.2 510.3 105 520.7Z" fill="#F1E7F0" stroke="#E6D6E4" stroke-width="0.4"/><path d="M220.3 504.7L212.3 504.7Q217.5 507.5 220.3 512.7Z" fill="#F1E7F0" stroke="#E6D6E4" stroke-width="0.4"/><path d="M105 616L135 616Q115.5 609 105 596Z" fill="#F1E7F0" stroke="#E6D6E4" stroke-width="0.4"/><path d="M220.3 616L192.3 616Q210.5 608.6 220.3 595Z" fill="#F1E7F0" stroke="#E6D6E4" stroke-width="0.4"/><defs><clipPath id="cC1"><polygon points="129.2,525.3 129.5,520.5 130.9,517.3 134.8,515.4 140.6,514.6 161.2,513.8 172.3,512.2 187.3,504.7 194.7,506.4 201.5,513.7 197.5,517.1 203.4,519.3 212.3,527.4 215.9,531.9 219.2,541.2 220.3,553.7 218.6,558.7 214.6,564.4 213.5,570 207.8,579 200.9,586.7 183.9,605.9 172.6,613.9 156.5,617.3 141.6,615 128,605.9 118.9,597.9 112.1,593.7 108.7,590.1 106.9,585.8 106.4,580.9 106.4,569.7 107.5,558.2 108.7,552 110.4,546.4 113.2,543 116.7,542.2 124.6,542.8 129.2,542.2"/></clipPath></defs><g clip-path="url(#cC1)"><polygon points="129.2,525.3 129.5,520.5 130.9,517.3 134.8,515.4 140.6,514.6 161.2,513.8 172.3,512.2 187.3,504.7 194.7,506.4 201.5,513.7 197.5,517.1 203.4,519.3 212.3,527.4 215.9,531.9 219.2,541.2 220.3,553.7 218.6,558.7 214.6,564.4 213.5,570 207.8,579 200.9,586.7 183.9,605.9 172.6,613.9 156.5,617.3 141.6,615 128,605.9 118.9,597.9 112.1,593.7 108.7,590.1 106.9,585.8 106.4,580.9 106.4,569.7 107.5,558.2 108.7,552 110.4,546.4 113.2,543 116.7,542.2 124.6,542.8 129.2,542.2" fill="#433A98" /><polygon points="105.7,545.5 129.5,543.2 134.1,568.2 129.5,595.5 113.6,600 104.5,575" fill="#3F86AA" opacity="0.5"/><polygon points="129.5,522.7 172.7,513.6 177.3,545.5 168.2,554.5 136.4,556.8 127.3,543.2" fill="#3F86AA" opacity="0.35"/><polygon points="134.1,563.6 168.2,572.7 163.6,609.1 136.4,606.8 129.5,586.4" fill="#3F86AA" opacity="0.28"/><path d="M129.5 525 L134.1 520.5 L145.5 517 L163.6 514.8 L175 513.6" fill="none" stroke="#D8C868" stroke-width="2.2" stroke-linejoin="round" stroke-linecap="round" /><path d="M154.5 515.5 L170.5 514.1" fill="none" stroke="#D84A3A" stroke-width="2" stroke-linejoin="round" stroke-linecap="round" /><path d="M129.5 522.7 L128.4 534.1 L127.3 543.2" fill="none" stroke="#D8D070" stroke-width="2" stroke-linejoin="round" stroke-linecap="round" /><path d="M129.1 531.8 L129.5 537.5" fill="none" stroke="#D04A3A" stroke-width="1.6" stroke-linejoin="round" stroke-linecap="round" /><path d="M124.5 545.5 L130.7 554.5 L136.4 561.4" fill="none" stroke="#D8E088" stroke-width="5" stroke-linejoin="round" stroke-linecap="round" /><path d="M136.4 561.4 L150 565.9 L161.4 570.5 L168.2 573.2" fill="none" stroke="#D8E088" stroke-width="3" stroke-linejoin="round" stroke-linecap="round" /><path d="M168.2 573.2 L165.9 584.1 L163.6 595.5 L161.4 606.8 L159.5 614.8" fill="none" stroke="#C8DC88" stroke-width="3" stroke-linejoin="round" stroke-linecap="round" /><path d="M175 514.1 L179.5 531.8 L181.8 543.2 L175 554.5 L168.2 572.7" fill="none" stroke="#8CCB9E" stroke-width="2" stroke-linejoin="round" stroke-linecap="round" /><path d="M137.5 556.8 L152.3 553.6 L168.2 552.7 L186.4 556.8 L200 557.3" fill="none" stroke="#6FB8A6" stroke-width="1.8" stroke-linejoin="round" stroke-linecap="round" /><path d="M145.5 577.3 L140.9 590.9 L134.1 604.5" fill="none" stroke="#8CCB9E" stroke-width="1.8" stroke-linejoin="round" stroke-linecap="round" /><path d="M152.3 581.8 L159.1 590.9" fill="none" stroke="#8CCB9E" stroke-width="1.6" stroke-linejoin="round" stroke-linecap="round" /><path d="M113.6 556.8 L118.2 572.7 L122.7 586.4" fill="none" stroke="#7CC4A0" stroke-width="1.6" stroke-linejoin="round" stroke-linecap="round" /><path d="M109.1 587.5 L115.9 593.2 L120.5 596.6" fill="none" stroke="#D8553E" stroke-width="2.4" stroke-linejoin="round" stroke-linecap="round" /><path d="M121.3 572.2a0.9 0.9 0 1 0 1.8 0a0.9 0.9 0 1 0 -1.8 0M130.4 577.6a0.9 0.9 0 1 0 1.8 0a0.9 0.9 0 1 0 -1.8 0M148.2 528.7a0.9 0.9 0 1 0 1.8 0a0.9 0.9 0 1 0 -1.8 0M105.7 598.9a0.9 0.9 0 1 0 1.8 0a0.9 0.9 0 1 0 -1.8 0M122.8 544a0.9 0.9 0 1 0 1.8 0a0.9 0.9 0 1 0 -1.8 0M173.8 565.5a0.9 0.9 0 1 0 1.8 0a0.9 0.9 0 1 0 -1.8 0M162.8 566a0.9 0.9 0 1 0 1.8 0a0.9 0.9 0 1 0 -1.8 0M149.1 536.4a0.9 0.9 0 1 0 1.8 0a0.9 0.9 0 1 0 -1.8 0M148.8 601.6a0.9 0.9 0 1 0 1.8 0a0.9 0.9 0 1 0 -1.8 0M141 590.1a0.9 0.9 0 1 0 1.8 0a0.9 0.9 0 1 0 -1.8 0M151.3 528.5a0.9 0.9 0 1 0 1.8 0a0.9 0.9 0 1 0 -1.8 0M157.3 576.5a0.9 0.9 0 1 0 1.8 0a0.9 0.9 0 1 0 -1.8 0M125.7 525.5a0.9 0.9 0 1 0 1.8 0a0.9 0.9 0 1 0 -1.8 0M164.8 565.7a0.9 0.9 0 1 0 1.8 0a0.9 0.9 0 1 0 -1.8 0M154.6 602.6a0.9 0.9 0 1 0 1.8 0a0.9 0.9 0 1 0 -1.8 0M154.3 606.5a0.9 0.9 0 1 0 1.8 0a0.9 0.9 0 1 0 -1.8 0M132.2 595.5a0.9 0.9 0 1 0 1.8 0a0.9 0.9 0 1 0 -1.8 0M135.6 607.8a0.9 0.9 0 1 0 1.8 0a0.9 0.9 0 1 0 -1.8 0M165.7 531.6a0.9 0.9 0 1 0 1.8 0a0.9 0.9 0 1 0 -1.8 0M114.2 542.5a0.9 0.9 0 1 0 1.8 0a0.9 0.9 0 1 0 -1.8 0M171.7 562.4a0.9 0.9 0 1 0 1.8 0a0.9 0.9 0 1 0 -1.8 0M148.2 550.1a0.9 0.9 0 1 0 1.8 0a0.9 0.9 0 1 0 -1.8 0M139.9 557.8a0.9 0.9 0 1 0 1.8 0a0.9 0.9 0 1 0 -1.8 0M129.1 575.9a0.9 0.9 0 1 0 1.8 0a0.9 0.9 0 1 0 -1.8 0M145.3 604.9a0.9 0.9 0 1 0 1.8 0a0.9 0.9 0 1 0 -1.8 0M152.1 607.2a0.9 0.9 0 1 0 1.8 0a0.9 0.9 0 1 0 -1.8 0M164.1 612.8a0.9 0.9 0 1 0 1.8 0a0.9 0.9 0 1 0 -1.8 0M151.3 537.6a0.9 0.9 0 1 0 1.8 0a0.9 0.9 0 1 0 -1.8 0M164.4 610.4a0.9 0.9 0 1 0 1.8 0a0.9 0.9 0 1 0 -1.8 0M167.5 574.5a0.9 0.9 0 1 0 1.8 0a0.9 0.9 0 1 0 -1.8 0M154.3 541.9a0.9 0.9 0 1 0 1.8 0a0.9 0.9 0 1 0 -1.8 0M162.4 574.9a0.9 0.9 0 1 0 1.8 0a0.9 0.9 0 1 0 -1.8 0M124.5 528.5a0.9 0.9 0 1 0 1.8 0a0.9 0.9 0 1 0 -1.8 0M164 612.7a0.9 0.9 0 1 0 1.8 0a0.9 0.9 0 1 0 -1.8 0M110.9 595.5a0.9 0.9 0 1 0 1.8 0a0.9 0.9 0 1 0 -1.8 0M133.2 536.4a0.9 0.9 0 1 0 1.8 0a0.9 0.9 0 1 0 -1.8 0M125.2 592.6a0.9 0.9 0 1 0 1.8 0a0.9 0.9 0 1 0 -1.8 0M165.3 526.7a0.9 0.9 0 1 0 1.8 0a0.9 0.9 0 1 0 -1.8 0M147.4 526.8a0.9 0.9 0 1 0 1.8 0a0.9 0.9 0 1 0 -1.8 0M154.6 552.8a0.9 0.9 0 1 0 1.8 0a0.9 0.9 0 1 0 -1.8 0M165.8 611.9a0.9 0.9 0 1 0 1.8 0a0.9 0.9 0 1 0 -1.8 0M139.8 613.5a0.9 0.9 0 1 0 1.8 0a0.9 0.9 0 1 0 -1.8 0M126.2 529.7a0.9 0.9 0 1 0 1.8 0a0.9 0.9 0 1 0 -1.8 0M146.4 525.6a0.9 0.9 0 1 0 1.8 0a0.9 0.9 0 1 0 -1.8 0M118.5 559.8a0.9 0.9 0 1 0 1.8 0a0.9 0.9 0 1 0 -1.8 0M147.1 536.9a0.9 0.9 0 1 0 1.8 0a0.9 0.9 0 1 0 -1.8 0M107.7 601.6a0.9 0.9 0 1 0 1.8 0a0.9 0.9 0 1 0 -1.8 0M126.5 609.9a0.9 0.9 0 1 0 1.8 0a0.9 0.9 0 1 0 -1.8 0M166.9 557.1a0.9 0.9 0 1 0 1.8 0a0.9 0.9 0 1 0 -1.8 0M136.7 570a0.9 0.9 0 1 0 1.8 0a0.9 0.9 0 1 0 -1.8 0M149.4 576.9a0.9 0.9 0 1 0 1.8 0a0.9 0.9 0 1 0 -1.8 0M143.5 579.1a0.9 0.9 0 1 0 1.8 0a0.9 0.9 0 1 0 -1.8 0M170 568.8a0.9 0.9 0 1 0 1.8 0a0.9 0.9 0 1 0 -1.8 0M134.7 588.2a0.9 0.9 0 1 0 1.8 0a0.9 0.9 0 1 0 -1.8 0M121.3 550.1a0.9 0.9 0 1 0 1.8 0a0.9 0.9 0 1 0 -1.8 0M172.6 570.1a0.9 0.9 0 1 0 1.8 0a0.9 0.9 0 1 0 -1.8 0M142.8 523.8a0.9 0.9 0 1 0 1.8 0a0.9 0.9 0 1 0 -1.8 0M133.6 575.5a0.9 0.9 0 1 0 1.8 0a0.9 0.9 0 1 0 -1.8 0M106.2 578.7a0.9 0.9 0 1 0 1.8 0a0.9 0.9 0 1 0 -1.8 0M148.6 528.2a0.9 0.9 0 1 0 1.8 0a0.9 0.9 0 1 0 -1.8 0M148.3 565.1a0.9 0.9 0 1 0 1.8 0a0.9 0.9 0 1 0 -1.8 0M151.9 554.8a0.9 0.9 0 1 0 1.8 0a0.9 0.9 0 1 0 -1.8 0M153.8 589.8a0.9 0.9 0 1 0 1.8 0a0.9 0.9 0 1 0 -1.8 0M106.3 528.2a0.9 0.9 0 1 0 1.8 0a0.9 0.9 0 1 0 -1.8 0M151.6 610.3a0.9 0.9 0 1 0 1.8 0a0.9 0.9 0 1 0 -1.8 0M122.2 564.2a0.9 0.9 0 1 0 1.8 0a0.9 0.9 0 1 0 -1.8 0M145.9 551.8a0.9 0.9 0 1 0 1.8 0a0.9 0.9 0 1 0 -1.8 0M130 551.2a0.9 0.9 0 1 0 1.8 0a0.9 0.9 0 1 0 -1.8 0M130.4 576.9a0.9 0.9 0 1 0 1.8 0a0.9 0.9 0 1 0 -1.8 0M125.6 557a0.9 0.9 0 1 0 1.8 0a0.9 0.9 0 1 0 -1.8 0" fill="#7CC4A3"/><path d="M158.3 525.2a0.9 0.9 0 1 0 1.8 0a0.9 0.9 0 1 0 -1.8 0M144.2 589.6a0.9 0.9 0 1 0 1.8 0a0.9 0.9 0 1 0 -1.8 0M126.3 543a0.9 0.9 0 1 0 1.8 0a0.9 0.9 0 1 0 -1.8 0M160.5 544.4a0.9 0.9 0 1 0 1.8 0a0.9 0.9 0 1 0 -1.8 0M117.8 562.3a0.9 0.9 0 1 0 1.8 0a0.9 0.9 0 1 0 -1.8 0M153.2 532a0.9 0.9 0 1 0 1.8 0a0.9 0.9 0 1 0 -1.8 0M127.1 553.1a0.9 0.9 0 1 0 1.8 0a0.9 0.9 0 1 0 -1.8 0M162.6 562.6a0.9 0.9 0 1 0 1.8 0a0.9 0.9 0 1 0 -1.8 0M164.1 538.1a0.9 0.9 0 1 0 1.8 0a0.9 0.9 0 1 0 -1.8 0M128.1 581.8a0.9 0.9 0 1 0 1.8 0a0.9 0.9 0 1 0 -1.8 0M166.1 563.7a0.9 0.9 0 1 0 1.8 0a0.9 0.9 0 1 0 -1.8 0M120.4 533.7a0.9 0.9 0 1 0 1.8 0a0.9 0.9 0 1 0 -1.8 0M141.5 540.1a0.9 0.9 0 1 0 1.8 0a0.9 0.9 0 1 0 -1.8 0M160.7 599a0.9 0.9 0 1 0 1.8 0a0.9 0.9 0 1 0 -1.8 0M117.5 548.1a0.9 0.9 0 1 0 1.8 0a0.9 0.9 0 1 0 -1.8 0M160.7 581.1a0.9 0.9 0 1 0 1.8 0a0.9 0.9 0 1 0 -1.8 0M160.7 554.1a0.9 0.9 0 1 0 1.8 0a0.9 0.9 0 1 0 -1.8 0M113.8 549.3a0.9 0.9 0 1 0 1.8 0a0.9 0.9 0 1 0 -1.8 0M159.8 547.4a0.9 0.9 0 1 0 1.8 0a0.9 0.9 0 1 0 -1.8 0M128.8 560.6a0.9 0.9 0 1 0 1.8 0a0.9 0.9 0 1 0 -1.8 0M133.9 560a0.9 0.9 0 1 0 1.8 0a0.9 0.9 0 1 0 -1.8 0M168.6 536.9a0.9 0.9 0 1 0 1.8 0a0.9 0.9 0 1 0 -1.8 0M105.1 608.5a0.9 0.9 0 1 0 1.8 0a0.9 0.9 0 1 0 -1.8 0M165.8 612.4a0.9 0.9 0 1 0 1.8 0a0.9 0.9 0 1 0 -1.8 0M134.9 609.1a0.9 0.9 0 1 0 1.8 0a0.9 0.9 0 1 0 -1.8 0" fill="#E0E080"/><path d="M214.1 540.9a0.9 0.9 0 1 0 1.8 0a0.9 0.9 0 1 0 -1.8 0M206.3 591.2a0.9 0.9 0 1 0 1.8 0a0.9 0.9 0 1 0 -1.8 0M202.7 565.2a0.9 0.9 0 1 0 1.8 0a0.9 0.9 0 1 0 -1.8 0M186.6 550.6a0.9 0.9 0 1 0 1.8 0a0.9 0.9 0 1 0 -1.8 0M183.9 528.3a0.9 0.9 0 1 0 1.8 0a0.9 0.9 0 1 0 -1.8 0M199.5 546.2a0.9 0.9 0 1 0 1.8 0a0.9 0.9 0 1 0 -1.8 0M209.1 526.4a0.9 0.9 0 1 0 1.8 0a0.9 0.9 0 1 0 -1.8 0M213.1 579.5a0.9 0.9 0 1 0 1.8 0a0.9 0.9 0 1 0 -1.8 0M214 596.1a0.9 0.9 0 1 0 1.8 0a0.9 0.9 0 1 0 -1.8 0M212.9 569.9a0.9 0.9 0 1 0 1.8 0a0.9 0.9 0 1 0 -1.8 0M174.7 583.7a0.9 0.9 0 1 0 1.8 0a0.9 0.9 0 1 0 -1.8 0M181.5 547.3a0.9 0.9 0 1 0 1.8 0a0.9 0.9 0 1 0 -1.8 0M202.7 565.7a0.9 0.9 0 1 0 1.8 0a0.9 0.9 0 1 0 -1.8 0M192 599.6a0.9 0.9 0 1 0 1.8 0a0.9 0.9 0 1 0 -1.8 0M200.5 550.7a0.9 0.9 0 1 0 1.8 0a0.9 0.9 0 1 0 -1.8 0M185 593.2a0.9 0.9 0 1 0 1.8 0a0.9 0.9 0 1 0 -1.8 0M194.7 586.7a0.9 0.9 0 1 0 1.8 0a0.9 0.9 0 1 0 -1.8 0M189.3 538.9a0.9 0.9 0 1 0 1.8 0a0.9 0.9 0 1 0 -1.8 0" fill="#6CB8A8"/><path d="M148.6 599.5a0.9 0.9 0 1 0 1.8 0a0.9 0.9 0 1 0 -1.8 0M130.4 598.2a0.9 0.9 0 1 0 1.8 0a0.9 0.9 0 1 0 -1.8 0M167.9 599a0.9 0.9 0 1 0 1.8 0a0.9 0.9 0 1 0 -1.8 0M163 557.2a0.9 0.9 0 1 0 1.8 0a0.9 0.9 0 1 0 -1.8 0M153.3 601.9a0.9 0.9 0 1 0 1.8 0a0.9 0.9 0 1 0 -1.8 0M124.3 571a0.9 0.9 0 1 0 1.8 0a0.9 0.9 0 1 0 -1.8 0" fill="#F0A050"/><rect x="105" y="503" width="116" height="115" filter="url(#noiseS)" opacity="0.25"/></g><path d="M241.6 504.7L256.6 504.7Q246.8 510.3 241.6 520.7Z" fill="#F1E7F0" stroke="#E6D6E4" stroke-width="0.4"/><path d="M354.3 504.7L346.3 504.7Q351.5 507.5 354.3 512.7Z" fill="#F1E7F0" stroke="#E6D6E4" stroke-width="0.4"/><path d="M241.6 616L271.6 616Q252.1 609 241.6 596Z" fill="#F1E7F0" stroke="#E6D6E4" stroke-width="0.4"/><path d="M354.3 616L326.3 616Q344.5 608.6 354.3 595Z" fill="#F1E7F0" stroke="#E6D6E4" stroke-width="0.4"/><defs><clipPath id="cC2"><polygon points="264.8,526.3 265.1,521.5 266.5,518.4 270.3,516.5 276,515.8 296.2,515 307.2,513.4 321.8,506 329.1,507.7 335.8,514.9 331.9,518.2 337.7,520.4 346.5,528.4 349.9,532.9 353.2,542 354.3,554.3 352.6,559.3 348.7,564.8 347.6,570.4 342,579.3 335.3,586.8 318.5,605.8 307.4,613.7 291.6,617 277,614.8 263.7,605.8 254.7,597.9 248,593.7 244.6,590.1 242.8,585.9 242.4,581.1 242.4,570 243.5,558.7 244.6,552.6 246.3,547.1 249.1,543.7 252.5,543 260.3,543.5 264.8,543"/></clipPath></defs><g clip-path="url(#cC2)"><g filter="url(#blS)"><polygon points="264.8,526.3 265.1,521.5 266.5,518.4 270.3,516.5 276,515.8 296.2,515 307.2,513.4 321.8,506 329.1,507.7 335.8,514.9 331.9,518.2 337.7,520.4 346.5,528.4 349.9,532.9 353.2,542 354.3,554.3 352.6,559.3 348.7,564.8 347.6,570.4 342,579.3 335.3,586.8 318.5,605.8 307.4,613.7 291.6,617 277,614.8 263.7,605.8 254.7,597.9 248,593.7 244.6,590.1 242.8,585.9 242.4,581.1 242.4,570 243.5,558.7 244.6,552.6 246.3,547.1 249.1,543.7 252.5,543 260.3,543.5 264.8,543" fill="#C8DA94" /><polygon points="325.3,508.7 336.2,515.3 351.5,532.7 355.8,554.5 349.3,572 338.4,582.9 325.3,596 312.2,604.7 310,591.6 312.2,572 313.3,554.5 320.9,532.7" fill="#7DB69C" /><polygon points="331.8,526.2 347.1,532.7 351.5,556.7 342.7,565.5 329.6,554.5 327.5,539.3" fill="#68A8A0" /><polygon points="260.9,508.7 303.5,508.7 307.8,524 305.6,534.9 292.5,550.2 296.9,556.7 305.6,565.5 303.5,578.5 296.9,585.1 292.5,593.8 281.6,598.2 272.9,591.6 264.2,596 246.7,596 238,576.4 238,541.5 260.9,540.4" fill="#CC6242" /><polygon points="288.2,521.8 303.5,517.5 307.8,526.2 303.5,537.1 292.5,548 288.2,534.9" fill="#D8804C" /><polygon points="238,545.8 262,545.8 277.3,556.7 288.2,565.5 290.4,578.5 281.6,589.5 264.2,593.8 246.7,591.6 238,574.2" fill="#C0463E" /><polygon points="262,541.5 270.7,539.3 290.4,548 294.7,556.7 288.2,565.5 270.7,556.7 257.6,548" fill="#C65040" /><polygon points="264.2,513.1 288.2,513.1 294.7,532.7 286,545.8 264.2,543.6" fill="#C24C40" /></g><path d="M290.4 553.5 L296.9 553.5" fill="none" stroke="#fff" stroke-width="1.4" stroke-linejoin="round" stroke-linecap="round" /><path d="M336.2 544.7 L349.3 546.3" fill="none" stroke="#fff" stroke-width="1.2" stroke-linejoin="round" stroke-linecap="round" /><path d="M325.3 568.7 L338.4 569.4" fill="none" stroke="#fff" stroke-width="1.2" stroke-linejoin="round" stroke-linecap="round" /><g opacity="0.55"><path d="M274.6 522.6a2.2 2.2 0 1 0 4.4 0a2.2 2.2 0 1 0 -4.4 0M280.2 524a2.2 2.2 0 1 0 4.4 0a2.2 2.2 0 1 0 -4.4 0M268.7 531a2.2 2.2 0 1 0 4.4 0a2.2 2.2 0 1 0 -4.4 0M298.4 542.3a2.2 2.2 0 1 0 4.4 0a2.2 2.2 0 1 0 -4.4 0M293.1 525.9a2.2 2.2 0 1 0 4.4 0a2.2 2.2 0 1 0 -4.4 0M285.1 527.5a2.2 2.2 0 1 0 4.4 0a2.2 2.2 0 1 0 -4.4 0M272.4 522.6a2.2 2.2 0 1 0 4.4 0a2.2 2.2 0 1 0 -4.4 0M273.8 545.9a2.2 2.2 0 1 0 4.4 0a2.2 2.2 0 1 0 -4.4 0M295.3 542.5a2.2 2.2 0 1 0 4.4 0a2.2 2.2 0 1 0 -4.4 0M294.3 525.1a2.2 2.2 0 1 0 4.4 0a2.2 2.2 0 1 0 -4.4 0M277.2 537.4a2.2 2.2 0 1 0 4.4 0a2.2 2.2 0 1 0 -4.4 0M291.9 543.9a2.2 2.2 0 1 0 4.4 0a2.2 2.2 0 1 0 -4.4 0M297.1 522.1a2.2 2.2 0 1 0 4.4 0a2.2 2.2 0 1 0 -4.4 0M287.5 538.7a2.2 2.2 0 1 0 4.4 0a2.2 2.2 0 1 0 -4.4 0" fill="#A8303C"/></g><g opacity="0.55"><path d="M264.2 555.8a2.4 2.4 0 1 0 4.8 0a2.4 2.4 0 1 0 -4.8 0M262.8 551.9a2.4 2.4 0 1 0 4.8 0a2.4 2.4 0 1 0 -4.8 0M282.9 585.8a2.4 2.4 0 1 0 4.8 0a2.4 2.4 0 1 0 -4.8 0M266 561.1a2.4 2.4 0 1 0 4.8 0a2.4 2.4 0 1 0 -4.8 0M281.8 573a2.4 2.4 0 1 0 4.8 0a2.4 2.4 0 1 0 -4.8 0M280.6 585a2.4 2.4 0 1 0 4.8 0a2.4 2.4 0 1 0 -4.8 0M264.3 566.1a2.4 2.4 0 1 0 4.8 0a2.4 2.4 0 1 0 -4.8 0M268.3 566.8a2.4 2.4 0 1 0 4.8 0a2.4 2.4 0 1 0 -4.8 0M249.2 561.3a2.4 2.4 0 1 0 4.8 0a2.4 2.4 0 1 0 -4.8 0M277.6 549.9a2.4 2.4 0 1 0 4.8 0a2.4 2.4 0 1 0 -4.8 0M244.2 575.3a2.4 2.4 0 1 0 4.8 0a2.4 2.4 0 1 0 -4.8 0M254.4 571.3a2.4 2.4 0 1 0 4.8 0a2.4 2.4 0 1 0 -4.8 0M262.7 563a2.4 2.4 0 1 0 4.8 0a2.4 2.4 0 1 0 -4.8 0M285.7 556.5a2.4 2.4 0 1 0 4.8 0a2.4 2.4 0 1 0 -4.8 0M260.2 556.8a2.4 2.4 0 1 0 4.8 0a2.4 2.4 0 1 0 -4.8 0M269.8 560.1a2.4 2.4 0 1 0 4.8 0a2.4 2.4 0 1 0 -4.8 0M257.7 580.6a2.4 2.4 0 1 0 4.8 0a2.4 2.4 0 1 0 -4.8 0M256.1 572.4a2.4 2.4 0 1 0 4.8 0a2.4 2.4 0 1 0 -4.8 0" fill="#A02C3A"/></g><path d="M346.4 533.9a1 1 0 1 0 2 0a1 1 0 1 0 -2 0M329.8 538a1 1 0 1 0 2 0a1 1 0 1 0 -2 0M343.7 550.7a1 1 0 1 0 2 0a1 1 0 1 0 -2 0M333.3 541.4a1 1 0 1 0 2 0a1 1 0 1 0 -2 0M332.1 545.6a1 1 0 1 0 2 0a1 1 0 1 0 -2 0M329.5 553.4a1 1 0 1 0 2 0a1 1 0 1 0 -2 0M346.2 561.8a1 1 0 1 0 2 0a1 1 0 1 0 -2 0M343.1 562a1 1 0 1 0 2 0a1 1 0 1 0 -2 0M329 540a1 1 0 1 0 2 0a1 1 0 1 0 -2 0M347.6 555.9a1 1 0 1 0 2 0a1 1 0 1 0 -2 0M336.7 561.4a1 1 0 1 0 2 0a1 1 0 1 0 -2 0M340.8 557.3a1 1 0 1 0 2 0a1 1 0 1 0 -2 0M334.4 536.8a1 1 0 1 0 2 0a1 1 0 1 0 -2 0M337.4 535a1 1 0 1 0 2 0a1 1 0 1 0 -2 0M336.1 562a1 1 0 1 0 2 0a1 1 0 1 0 -2 0M335.1 530.9a1 1 0 1 0 2 0a1 1 0 1 0 -2 0M329.5 536.1a1 1 0 1 0 2 0a1 1 0 1 0 -2 0M344 542.4a1 1 0 1 0 2 0a1 1 0 1 0 -2 0M334.3 533.7a1 1 0 1 0 2 0a1 1 0 1 0 -2 0M347.9 544.4a1 1 0 1 0 2 0a1 1 0 1 0 -2 0M332.7 532.5a1 1 0 1 0 2 0a1 1 0 1 0 -2 0M329.7 536.1a1 1 0 1 0 2 0a1 1 0 1 0 -2 0" fill="#45419E"/><path d="M328.2 571a1 1 0 1 0 2 0a1 1 0 1 0 -2 0M310.2 583.7a1 1 0 1 0 2 0a1 1 0 1 0 -2 0M316.1 602.5a1 1 0 1 0 2 0a1 1 0 1 0 -2 0M312.5 585.1a1 1 0 1 0 2 0a1 1 0 1 0 -2 0M330.9 580.6a1 1 0 1 0 2 0a1 1 0 1 0 -2 0M337 583.2a1 1 0 1 0 2 0a1 1 0 1 0 -2 0M315.9 580.7a1 1 0 1 0 2 0a1 1 0 1 0 -2 0M310 581.1a1 1 0 1 0 2 0a1 1 0 1 0 -2 0M316.1 598.4a1 1 0 1 0 2 0a1 1 0 1 0 -2 0M332.6 583.9a1 1 0 1 0 2 0a1 1 0 1 0 -2 0M309.9 574.9a1 1 0 1 0 2 0a1 1 0 1 0 -2 0M315.9 573.2a1 1 0 1 0 2 0a1 1 0 1 0 -2 0M315.6 597.7a1 1 0 1 0 2 0a1 1 0 1 0 -2 0M313 567.4a1 1 0 1 0 2 0a1 1 0 1 0 -2 0M335.3 586.4a1 1 0 1 0 2 0a1 1 0 1 0 -2 0M337.1 580.4a1 1 0 1 0 2 0a1 1 0 1 0 -2 0M334.6 589.7a1 1 0 1 0 2 0a1 1 0 1 0 -2 0M331.4 593.1a1 1 0 1 0 2 0a1 1 0 1 0 -2 0M323 568.9a1 1 0 1 0 2 0a1 1 0 1 0 -2 0M315 597.9a1 1 0 1 0 2 0a1 1 0 1 0 -2 0M334.5 599.7a1 1 0 1 0 2 0a1 1 0 1 0 -2 0M318.5 589.8a1 1 0 1 0 2 0a1 1 0 1 0 -2 0M331.7 589.3a1 1 0 1 0 2 0a1 1 0 1 0 -2 0M332.1 585a1 1 0 1 0 2 0a1 1 0 1 0 -2 0M327.6 590.9a1 1 0 1 0 2 0a1 1 0 1 0 -2 0M316.6 599.7a1 1 0 1 0 2 0a1 1 0 1 0 -2 0M336.1 568.2a1 1 0 1 0 2 0a1 1 0 1 0 -2 0M336.5 601.1a1 1 0 1 0 2 0a1 1 0 1 0 -2 0M328 567.1a1 1 0 1 0 2 0a1 1 0 1 0 -2 0M334.5 570.2a1 1 0 1 0 2 0a1 1 0 1 0 -2 0" fill="#45419E"/><circle cx="310" cy="543.6" r="2" fill="#E07848"/><circle cx="316.5" cy="556.7" r="2" fill="#E07848"/><circle cx="320.9" cy="572" r="2" fill="#E07848"/><circle cx="294.7" cy="602.5" r="2" fill="#E07848"/><circle cx="290.4" cy="591.6" r="2" fill="#E07848"/><circle cx="323.1" cy="522.9" r="2" fill="#E07848"/><rect x="241" y="504" width="114" height="114" filter="url(#noiseS)" opacity="0.25"/></g><path d="M379 504.7L394 504.7Q384.2 510.3 379 520.7Z" fill="#F1E7F0" stroke="#E6D6E4" stroke-width="0.4"/><path d="M492.9 504.7L484.9 504.7Q490.1 507.5 492.9 512.7Z" fill="#F1E7F0" stroke="#E6D6E4" stroke-width="0.4"/><path d="M379 616L409 616Q389.5 609 379 596Z" fill="#F1E7F0" stroke="#E6D6E4" stroke-width="0.4"/><path d="M492.9 616L464.9 616Q483.1 608.6 492.9 595Z" fill="#F1E7F0" stroke="#E6D6E4" stroke-width="0.4"/><defs><clipPath id="cC3"><polygon points="402.7,525.1 403.1,520.3 404.4,517.2 408.3,515.3 414,514.5 434.4,513.7 445.5,512.2 460.2,504.7 467.5,506.4 474.3,513.6 470.4,516.9 476.2,519.2 485,527.2 488.5,531.6 491.8,540.8 492.9,553.1 491.2,558.1 487.3,563.7 486.1,569.3 480.5,578.2 473.7,585.7 456.8,604.8 445.7,612.7 429.8,616 415,613.8 401.6,604.8 392.6,596.9 385.8,592.6 382.5,589.1 380.7,584.8 380.2,580.1 380.2,568.9 381.3,557.6 382.5,551.4 384.1,545.9 387,542.5 390.3,541.8 398.2,542.3 402.7,541.8"/></clipPath></defs><g clip-path="url(#cC3)"><g filter="url(#blS)"><polygon points="402.7,525.1 403.1,520.3 404.4,517.2 408.3,515.3 414,514.5 434.4,513.7 445.5,512.2 460.2,504.7 467.5,506.4 474.3,513.6 470.4,516.9 476.2,519.2 485,527.2 488.5,531.6 491.8,540.8 492.9,553.1 491.2,558.1 487.3,563.7 486.1,569.3 480.5,578.2 473.7,585.7 456.8,604.8 445.7,612.7 429.8,616 415,613.8 401.6,604.8 392.6,596.9 385.8,592.6 382.5,589.1 380.7,584.8 380.2,580.1 380.2,568.9 381.3,557.6 382.5,551.4 384.1,545.9 387,542.5 390.3,541.8 398.2,542.3 402.7,541.8" fill="#C8DA92" /><polygon points="441.6,508.7 461.3,504.4 474.4,513.1 491.8,532.7 494,554.5 489.6,572 476.5,593.8 459.1,606.9 439.5,615.6 426.4,615.6 411.1,606.9 402.4,596 411.1,587.3 424.2,587.3 435.1,582.9 439.5,572 432.9,556.7 439.5,543.6 443.8,524" fill="#C84A3C" /><polygon points="439.5,515.3 448.2,517.5 450.4,534.9 446,548 437.3,554.5 432.9,552.4 439.5,539.3" fill="#E0703E" /><polygon points="404.5,587.3 424.2,586.2 437.3,585.1 441.6,598.2 437.3,613.5 417.6,613.5 406.7,600.4" fill="#D8603E" /><polygon points="417.6,591.6 430.7,590.5 431.8,600.4 419.8,602.5" fill="#C8D890" opacity="0.6"/><polygon points="402.4,521.8 408.9,515.3 439.5,514.2 443.8,524 439.5,539.3 432.9,548 417.6,550.2 404.5,545.8 400.2,532.7" fill="#6AA8AA" /><polygon points="406.7,520.7 435.1,519.6 437.3,532.7 428.5,543.6 413.3,545.8 405.6,537.1" fill="#5088B2" /><polygon points="379.5,548 384.9,544.7 398,544.7 401.3,556.7 399.1,572 396.9,587.3 387.1,591.6 380.5,582.9 378.4,565.5" fill="#62A0AA" /><polygon points="379.5,546.9 393.6,545.8 394.7,558.9 391.5,572 382.7,574.2 378.4,563.3" fill="#4A6EA8" /><polygon points="402.4,556.7 424.2,558.9 426.4,572 413.3,576.4 402.4,569.8" fill="#90C8A0" opacity="0.7"/></g><path d="M429.6 552.8 L438.4 551.9" fill="none" stroke="#fff" stroke-width="1.4" stroke-linejoin="round" stroke-linecap="round" /><path d="M470 544.7 L483.1 546.3" fill="none" stroke="#fff" stroke-width="1.3" stroke-linejoin="round" stroke-linecap="round" /><path d="M474.4 564.6 L487.5 563.7" fill="none" stroke="#fff" stroke-width="1.2" stroke-linejoin="round" stroke-linecap="round" /><path d="M459.1 572 L463.5 572.4" fill="none" stroke="#fff" stroke-width="1.2" stroke-linejoin="round" stroke-linecap="round" /><path d="M419.3 537.4a1 1 0 1 0 2 0a1 1 0 1 0 -2 0M423.1 542.3a1 1 0 1 0 2 0a1 1 0 1 0 -2 0M421.9 541.8a1 1 0 1 0 2 0a1 1 0 1 0 -2 0M406.4 530.8a1 1 0 1 0 2 0a1 1 0 1 0 -2 0M426.3 535.2a1 1 0 1 0 2 0a1 1 0 1 0 -2 0M425.4 522.4a1 1 0 1 0 2 0a1 1 0 1 0 -2 0M416 525.6a1 1 0 1 0 2 0a1 1 0 1 0 -2 0M417.6 533.4a1 1 0 1 0 2 0a1 1 0 1 0 -2 0M406 524.8a1 1 0 1 0 2 0a1 1 0 1 0 -2 0M411.8 541.6a1 1 0 1 0 2 0a1 1 0 1 0 -2 0M422.4 523.5a1 1 0 1 0 2 0a1 1 0 1 0 -2 0M423.1 523a1 1 0 1 0 2 0a1 1 0 1 0 -2 0M419.2 522.7a1 1 0 1 0 2 0a1 1 0 1 0 -2 0M405.8 540.6a1 1 0 1 0 2 0a1 1 0 1 0 -2 0M410.3 524.8a1 1 0 1 0 2 0a1 1 0 1 0 -2 0M427.2 540.6a1 1 0 1 0 2 0a1 1 0 1 0 -2 0M412 542.7a1 1 0 1 0 2 0a1 1 0 1 0 -2 0M417.5 535.9a1 1 0 1 0 2 0a1 1 0 1 0 -2 0" fill="#45419E"/><path d="M411 577.8a1 1 0 1 0 2 0a1 1 0 1 0 -2 0M418.5 578.1a1 1 0 1 0 2 0a1 1 0 1 0 -2 0M421.6 569.4a1 1 0 1 0 2 0a1 1 0 1 0 -2 0M413.4 567.6a1 1 0 1 0 2 0a1 1 0 1 0 -2 0M410.1 566.3a1 1 0 1 0 2 0a1 1 0 1 0 -2 0M412.5 573.3a1 1 0 1 0 2 0a1 1 0 1 0 -2 0M408 574.3a1 1 0 1 0 2 0a1 1 0 1 0 -2 0M413.1 569.5a1 1 0 1 0 2 0a1 1 0 1 0 -2 0M420.4 571.7a1 1 0 1 0 2 0a1 1 0 1 0 -2 0M412.7 571.8a1 1 0 1 0 2 0a1 1 0 1 0 -2 0" fill="#45419E"/><path d="M390.3 549.4a1 1 0 1 0 2 0a1 1 0 1 0 -2 0M394.4 548.5a1 1 0 1 0 2 0a1 1 0 1 0 -2 0M391 568.3a1 1 0 1 0 2 0a1 1 0 1 0 -2 0M379.8 566.9a1 1 0 1 0 2 0a1 1 0 1 0 -2 0M385.1 561.9a1 1 0 1 0 2 0a1 1 0 1 0 -2 0M379.7 549.1a1 1 0 1 0 2 0a1 1 0 1 0 -2 0M382.3 570.9a1 1 0 1 0 2 0a1 1 0 1 0 -2 0M382.5 566.1a1 1 0 1 0 2 0a1 1 0 1 0 -2 0M393.7 570.6a1 1 0 1 0 2 0a1 1 0 1 0 -2 0M384.8 556.5a1 1 0 1 0 2 0a1 1 0 1 0 -2 0M387.6 566.6a1 1 0 1 0 2 0a1 1 0 1 0 -2 0M381.2 566a1 1 0 1 0 2 0a1 1 0 1 0 -2 0" fill="#45419E"/><g opacity="0.5"><path d="M475.5 586.9a2.2 2.2 0 1 0 4.4 0a2.2 2.2 0 1 0 -4.4 0M439 593.8a2.2 2.2 0 1 0 4.4 0a2.2 2.2 0 1 0 -4.4 0M441.6 545a2.2 2.2 0 1 0 4.4 0a2.2 2.2 0 1 0 -4.4 0M466.6 591.6a2.2 2.2 0 1 0 4.4 0a2.2 2.2 0 1 0 -4.4 0M453.6 592.1a2.2 2.2 0 1 0 4.4 0a2.2 2.2 0 1 0 -4.4 0M463.4 542.7a2.2 2.2 0 1 0 4.4 0a2.2 2.2 0 1 0 -4.4 0M452.5 531.8a2.2 2.2 0 1 0 4.4 0a2.2 2.2 0 1 0 -4.4 0M441 529.5a2.2 2.2 0 1 0 4.4 0a2.2 2.2 0 1 0 -4.4 0M470.3 597.9a2.2 2.2 0 1 0 4.4 0a2.2 2.2 0 1 0 -4.4 0M445 521.4a2.2 2.2 0 1 0 4.4 0a2.2 2.2 0 1 0 -4.4 0M484.6 560.5a2.2 2.2 0 1 0 4.4 0a2.2 2.2 0 1 0 -4.4 0M456.7 536.6a2.2 2.2 0 1 0 4.4 0a2.2 2.2 0 1 0 -4.4 0M465.8 584.2a2.2 2.2 0 1 0 4.4 0a2.2 2.2 0 1 0 -4.4 0M459.1 551.5a2.2 2.2 0 1 0 4.4 0a2.2 2.2 0 1 0 -4.4 0M439.9 591.4a2.2 2.2 0 1 0 4.4 0a2.2 2.2 0 1 0 -4.4 0M477.5 528a2.2 2.2 0 1 0 4.4 0a2.2 2.2 0 1 0 -4.4 0M472.4 594.1a2.2 2.2 0 1 0 4.4 0a2.2 2.2 0 1 0 -4.4 0M467.5 581.1a2.2 2.2 0 1 0 4.4 0a2.2 2.2 0 1 0 -4.4 0M442.4 552.5a2.2 2.2 0 1 0 4.4 0a2.2 2.2 0 1 0 -4.4 0M444.4 585.6a2.2 2.2 0 1 0 4.4 0a2.2 2.2 0 1 0 -4.4 0M451.4 554a2.2 2.2 0 1 0 4.4 0a2.2 2.2 0 1 0 -4.4 0M485.2 586.3a2.2 2.2 0 1 0 4.4 0a2.2 2.2 0 1 0 -4.4 0M484.1 554.1a2.2 2.2 0 1 0 4.4 0a2.2 2.2 0 1 0 -4.4 0M460.7 576.3a2.2 2.2 0 1 0 4.4 0a2.2 2.2 0 1 0 -4.4 0M460.2 540.9a2.2 2.2 0 1 0 4.4 0a2.2 2.2 0 1 0 -4.4 0" fill="#A82C38"/></g><rect x="379" y="503" width="115" height="114" filter="url(#noiseS)" opacity="0.25"/></g><path d="M228.5 217.5L228.5 225.2M228.5 217.5L231.5 217.5M228.5 225.2L231.5 225.2M230.0 248.3L230.0 256.0M230.0 248.3L231.5 248.3M230.0 256.0L231.5 256.0M229.0 240.6L229.0 252.1M229.0 240.6L231.5 240.6M229.0 252.1L230.0 252.1M227.0 232.9L227.0 246.4M227.0 232.9L231.5 232.9M227.0 246.4L229.0 246.4M226.0 221.4L226.0 239.6M226.0 221.4L228.5 221.4M226.0 239.6L227.0 239.6M223.3 209.8L223.3 230.5M223.3 209.8L231.5 209.8M223.3 230.5L226.0 230.5M220.2 263.7L220.2 271.3M220.2 263.7L231.5 263.7M220.2 271.3L231.5 271.3M223.0 309.8L223.0 317.5M223.0 309.8L231.5 309.8M223.0 317.5L231.5 317.5M226.0 325.2L226.0 332.8M226.0 325.2L231.5 325.2M226.0 332.8L231.5 332.8M228.0 340.5L228.0 348.2M228.0 340.5L231.5 340.5M228.0 348.2L231.5 348.2M224.0 329.0L224.0 344.4M224.0 329.0L226.0 329.0M224.0 344.4L228.0 344.4M221.0 313.6L221.0 336.7M221.0 313.6L223.0 313.6M221.0 336.7L224.0 336.7M220.0 302.1L220.0 325.2M220.0 302.1L231.5 302.1M220.0 325.2L221.0 325.2M216.8 294.4L216.8 313.6M216.8 294.4L231.5 294.4M216.8 313.6L220.0 313.6M216.0 286.7L216.0 304.0M216.0 286.7L231.5 286.7M216.0 304.0L216.8 304.0M214.0 279.0L214.0 295.4M214.0 279.0L231.5 279.0M214.0 295.4L216.0 295.4M220.0 363.6L220.0 371.3M220.0 363.6L231.5 363.6M220.0 371.3L231.5 371.3M215.0 355.9L215.0 367.4M215.0 355.9L231.5 355.9M215.0 367.4L220.0 367.4M219.0 386.7L219.0 394.3M219.0 386.7L231.5 386.7M219.0 394.3L231.5 394.3M217.0 379.0L217.0 390.5M217.0 379.0L231.5 379.0M217.0 390.5L219.0 390.5M219.0 402.0L219.0 409.7M219.0 402.0L231.5 402.0M219.0 409.7L231.5 409.7M224.0 425.1L224.0 432.8M224.0 425.1L231.5 425.1M224.0 432.8L231.5 432.8M221.0 417.4L221.0 428.9M221.0 417.4L231.5 417.4M221.0 428.9L224.0 428.9M218.5 440.5L218.5 448.2M218.5 440.5L231.5 440.5M218.5 448.2L231.5 448.2M217.0 423.2L217.0 444.3M217.0 423.2L221.0 423.2M217.0 444.3L218.5 444.3M214.8 405.9L214.8 433.7M214.8 405.9L219.0 405.9M214.8 433.7L217.0 433.7M214.2 384.7L214.2 419.8M214.2 384.7L217.0 384.7M214.2 419.8L214.8 419.8M213.5 361.7L213.5 402.3M213.5 361.7L215.0 361.7M213.5 402.3L214.2 402.3M212.6 287.2L212.6 382.0M212.6 287.2L214.0 287.2M212.6 382.0L213.5 382.0M208.4 267.5L208.4 334.6M208.4 267.5L220.2 267.5M208.4 334.6L212.6 334.6M199.4 220.2L199.4 301.0M199.4 220.2L223.3 220.2M199.4 301.0L208.4 301.0" stroke="#9a9a9a" stroke-width="0.6" fill="none"/>
</svg>
</body></html>
